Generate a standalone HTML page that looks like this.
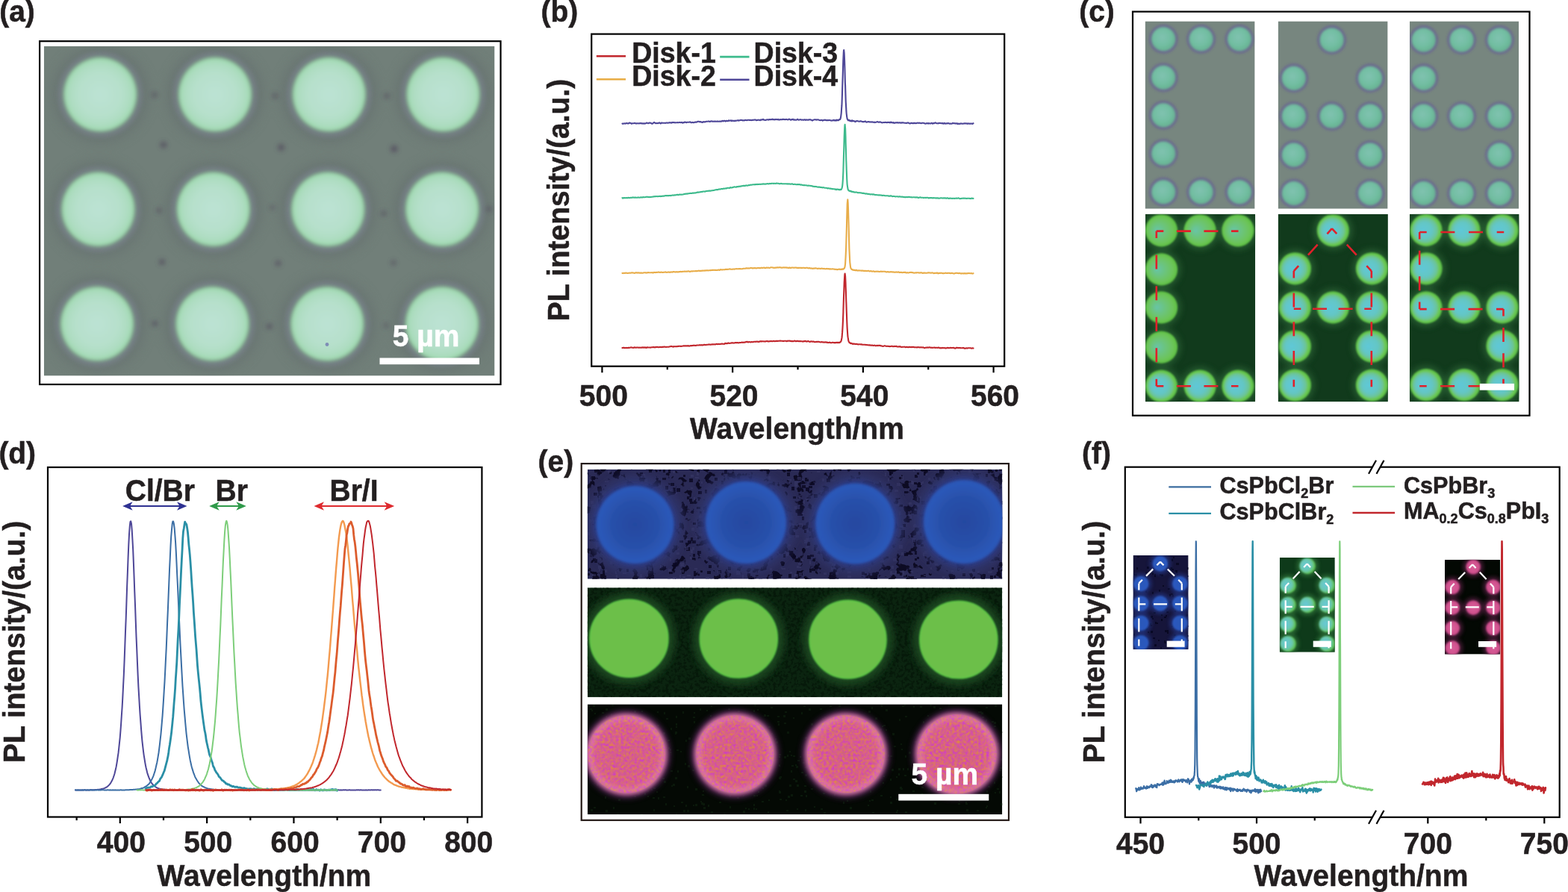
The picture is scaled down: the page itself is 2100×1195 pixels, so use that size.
<!DOCTYPE html>
<html><head><meta charset="utf-8"><title>Figure</title>
<style>html,body{margin:0;padding:0;background:#fff;} svg{display:block;} text{font-family:'Liberation Sans',Arial,sans-serif;font-weight:bold;stroke-width:0.55px;} text[fill='#231f20']{stroke:#231f20;} text[fill='#fff']{stroke:#fff;}</style>
</head><body>
<svg width="2100" height="1195" viewBox="0 0 2100 1195">
<rect width="2100" height="1195" fill="#fff"/>
<defs><filter id="b0_8" x="-50%" y="-50%" width="200%" height="200%"><feGaussianBlur stdDeviation="0.8"/></filter><filter id="b1_2" x="-50%" y="-50%" width="200%" height="200%"><feGaussianBlur stdDeviation="1.2"/></filter><filter id="b1_5" x="-50%" y="-50%" width="200%" height="200%"><feGaussianBlur stdDeviation="1.5"/></filter><filter id="b2" x="-50%" y="-50%" width="200%" height="200%"><feGaussianBlur stdDeviation="2"/></filter><filter id="b2_5" x="-50%" y="-50%" width="200%" height="200%"><feGaussianBlur stdDeviation="2.5"/></filter><filter id="b3" x="-50%" y="-50%" width="200%" height="200%"><feGaussianBlur stdDeviation="3"/></filter><filter id="b4" x="-50%" y="-50%" width="200%" height="200%"><feGaussianBlur stdDeviation="4"/></filter><filter id="b5" x="-50%" y="-50%" width="200%" height="200%"><feGaussianBlur stdDeviation="5"/></filter><filter id="b6" x="-50%" y="-50%" width="200%" height="200%"><feGaussianBlur stdDeviation="6"/></filter><filter id="b8" x="-50%" y="-50%" width="200%" height="200%"><feGaussianBlur stdDeviation="8"/></filter><radialGradient id="gA"><stop offset="0" stop-color="#bce2d4"/><stop offset="0.6" stop-color="#b6e0cb"/><stop offset="0.85" stop-color="#acdcbf"/><stop offset="0.96" stop-color="#9ed8ae"/><stop offset="1" stop-color="#92d2a2"/></radialGradient><radialGradient id="gCt" cx="0.45" cy="0.42"><stop offset="0" stop-color="#80c2b0"/><stop offset="0.7" stop-color="#72bea2"/><stop offset="1" stop-color="#6ab696"/></radialGradient><radialGradient id="gCb" cx="0.5" cy="0.5" r="0.5" fx="0.38" fy="0.5"><stop offset="0" stop-color="#60c8d8"/><stop offset="0.5" stop-color="#64c6c4"/><stop offset="0.74" stop-color="#6cc496"/><stop offset="0.84" stop-color="#6ec85a"/><stop offset="1" stop-color="#58c040"/></radialGradient><radialGradient id="gCg" cx="0.5" cy="0.5" r="0.5" fx="0.35" fy="0.5"><stop offset="0" stop-color="#68c4a8"/><stop offset="0.45" stop-color="#6cc47a"/><stop offset="0.8" stop-color="#6cc458"/><stop offset="1" stop-color="#5cc040"/></radialGradient><radialGradient id="gEb"><stop offset="0" stop-color="#2448a0"/><stop offset="0.6" stop-color="#2850aa"/><stop offset="0.9" stop-color="#2b58b8"/><stop offset="1" stop-color="#2a56b4"/></radialGradient><radialGradient id="gEr"><stop offset="0" stop-color="#d86682"/><stop offset="0.7" stop-color="#da6a88"/><stop offset="0.92" stop-color="#dc78a0"/><stop offset="1" stop-color="#a04888"/></radialGradient><radialGradient id="gFb"><stop offset="0" stop-color="#2a58b8"/><stop offset="1" stop-color="#2a5ac0"/></radialGradient><radialGradient id="gFg" cx="0.4" cy="0.45" r="0.6"><stop offset="0" stop-color="#66c8d8"/><stop offset="0.6" stop-color="#6ac8b0"/><stop offset="0.85" stop-color="#64c466"/><stop offset="1" stop-color="#58c048"/></radialGradient><radialGradient id="gFr"><stop offset="0" stop-color="#d8609a"/><stop offset="0.8" stop-color="#d0508c"/><stop offset="1" stop-color="#b84080"/></radialGradient><filter id="nzR" x="0" y="0" width="100%" height="100%"><feTurbulence type="fractalNoise" baseFrequency="0.35" numOctaves="2" seed="3"/><feColorMatrix type="matrix" values="0.9 0 0 0 0.35  0 0.9 0 0 -0.05  0 0 1.1 0 0.0  0 0 0 0 1"/></filter><filter id="mott" x="0" y="0" width="100%" height="100%" color-interpolation-filters="sRGB"><feTurbulence type="fractalNoise" baseFrequency="0.28" numOctaves="2" seed="5"/><feColorMatrix type="matrix" values="0.2 0 0 0 0.74  0.45 -0.45 0 0 0.36  -0.8 0.8 0 0 0.53  0 0 0 0 1"/><feGaussianBlur stdDeviation="0.6"/></filter><filter id="mottB" x="0" y="0" width="100%" height="100%" color-interpolation-filters="sRGB"><feTurbulence type="fractalNoise" baseFrequency="0.09" numOctaves="3" seed="8"/><feColorMatrix type="matrix" values="0 0 0 0 0.04  0 0 0 0 0.03  0 0 0 0 0.12  -14 0 0 0 5.9"/></filter><filter id="mottG" x="0" y="0" width="100%" height="100%" color-interpolation-filters="sRGB"><feTurbulence type="fractalNoise" baseFrequency="0.25" numOctaves="2" seed="12"/><feColorMatrix type="matrix" values="0 0 0 0 0.01  0 0 0 0 0.06  0 0 0 0 0.02  -6 0 0 0 3.2"/></filter></defs>
<defs><clipPath id="cpA"><rect x="58.80" y="61.90" width="603.70" height="441.60"/></clipPath></defs>
<g clip-path="url(#cpA)">
<rect x="58.80" y="61.90" width="603.70" height="441.60" fill="#717f79" stroke="none" stroke-width="0" />
<g filter="url(#b8)" opacity="0.75"><circle cx="134.2" cy="126.6" r="64.0" fill="#66726f" /><circle cx="288.0" cy="126.6" r="64.0" fill="#66726f" /><circle cx="440.8" cy="126.6" r="64.0" fill="#66726f" /><circle cx="593.5" cy="126.6" r="64.0" fill="#66726f" /><circle cx="131.5" cy="280.2" r="64.0" fill="#66726f" /><circle cx="285.8" cy="280.2" r="64.0" fill="#66726f" /><circle cx="439.3" cy="280.2" r="64.0" fill="#66726f" /><circle cx="592.2" cy="280.2" r="64.0" fill="#66726f" /><circle cx="130.1" cy="433.8" r="64.0" fill="#66726f" /><circle cx="284.5" cy="433.8" r="64.0" fill="#66726f" /><circle cx="438.3" cy="433.8" r="64.0" fill="#66726f" /><circle cx="592.0" cy="433.8" r="64.0" fill="#66726f" /></g>
<g filter="url(#b3)" opacity="0.5"><ellipse cx="134.2" cy="126.6" rx="53" ry="53.5" fill="none" stroke="#8a8ea6" stroke-width="5"/><ellipse cx="288.0" cy="126.6" rx="53" ry="53.5" fill="none" stroke="#8a8ea6" stroke-width="5"/><ellipse cx="440.8" cy="126.6" rx="53" ry="53.5" fill="none" stroke="#8a8ea6" stroke-width="5"/><ellipse cx="593.5" cy="126.6" rx="53" ry="53.5" fill="none" stroke="#8a8ea6" stroke-width="5"/><ellipse cx="131.5" cy="280.2" rx="53" ry="53.5" fill="none" stroke="#8a8ea6" stroke-width="5"/><ellipse cx="285.8" cy="280.2" rx="53" ry="53.5" fill="none" stroke="#8a8ea6" stroke-width="5"/><ellipse cx="439.3" cy="280.2" rx="53" ry="53.5" fill="none" stroke="#8a8ea6" stroke-width="5"/><ellipse cx="592.2" cy="280.2" rx="53" ry="53.5" fill="none" stroke="#8a8ea6" stroke-width="5"/><ellipse cx="130.1" cy="433.8" rx="53" ry="53.5" fill="none" stroke="#8a8ea6" stroke-width="5"/><ellipse cx="284.5" cy="433.8" rx="53" ry="53.5" fill="none" stroke="#8a8ea6" stroke-width="5"/><ellipse cx="438.3" cy="433.8" rx="53" ry="53.5" fill="none" stroke="#8a8ea6" stroke-width="5"/><ellipse cx="592.0" cy="433.8" rx="53" ry="53.5" fill="none" stroke="#8a8ea6" stroke-width="5"/></g>
<g filter="url(#b3)" opacity="0.75"><circle cx="207.0" cy="127.0" r="3.0" fill="#4e4258" /><circle cx="219.0" cy="194.0" r="4.0" fill="#4e4258" /><circle cx="368.5" cy="128.6" r="3.0" fill="#4e4258" /><circle cx="376.4" cy="197.5" r="4.2" fill="#4e4258" /><circle cx="518.0" cy="128.6" r="3.0" fill="#4e4258" /><circle cx="527.8" cy="199.4" r="4.5" fill="#4e4258" /><circle cx="213.0" cy="282.0" r="3.0" fill="#4e4258" /><circle cx="364.6" cy="278.0" r="2.5" fill="#4e4258" /><circle cx="514.0" cy="286.0" r="3.0" fill="#4e4258" /><circle cx="217.0" cy="351.0" r="3.8" fill="#4e4258" /><circle cx="372.5" cy="352.8" r="3.5" fill="#4e4258" /><circle cx="527.0" cy="352.0" r="3.0" fill="#4e4258" /><circle cx="207.3" cy="433.4" r="3.5" fill="#4e4258" /><circle cx="360.7" cy="437.3" r="3.5" fill="#4e4258" /><circle cx="517.0" cy="436.0" r="2.5" fill="#4e4258" /><circle cx="655.0" cy="280.0" r="3.0" fill="#4e4258" /></g>
<g filter="url(#b2_5)"><ellipse cx="134.2" cy="126.6" rx="49.3" ry="50" fill="url(#gA)"/><ellipse cx="288.0" cy="126.6" rx="49.3" ry="50" fill="url(#gA)"/><ellipse cx="440.8" cy="126.6" rx="49.3" ry="50" fill="url(#gA)"/><ellipse cx="593.5" cy="126.6" rx="49.3" ry="50" fill="url(#gA)"/><ellipse cx="131.5" cy="280.2" rx="49.3" ry="50" fill="url(#gA)"/><ellipse cx="285.8" cy="280.2" rx="49.3" ry="50" fill="url(#gA)"/><ellipse cx="439.3" cy="280.2" rx="49.3" ry="50" fill="url(#gA)"/><ellipse cx="592.2" cy="280.2" rx="49.3" ry="50" fill="url(#gA)"/><ellipse cx="130.1" cy="433.8" rx="49.3" ry="50" fill="url(#gA)"/><ellipse cx="284.5" cy="433.8" rx="49.3" ry="50" fill="url(#gA)"/><ellipse cx="438.3" cy="433.8" rx="49.3" ry="50" fill="url(#gA)"/><ellipse cx="592.0" cy="433.8" rx="49.3" ry="50" fill="url(#gA)"/></g>
<circle cx="438.0" cy="461.5" r="2.4" fill="#7078b0" opacity="0.8"/>
</g>
<rect x="508.50" y="479.50" width="133.50" height="8.70" fill="#fff" stroke="none" stroke-width="0" />
<text transform="translate(570.5,464.0) scale(0.94,1)" font-size="41.5" text-anchor="middle" fill="#fff" >5 µm</text>
<defs><clipPath id="cpCt0"><rect x="1533.60" y="28.40" width="147.00" height="251.30"/></clipPath></defs><g clip-path="url(#cpCt0)">
<rect x="1533.60" y="28.40" width="147.00" height="251.30" fill="#77867f" stroke="none" stroke-width="0" />
<g filter="url(#b1_5)" opacity="0.85"><circle cx="1558.2" cy="52.3" r="19.6" fill="#6a6890" /><circle cx="1608.6" cy="52.3" r="19.6" fill="#6a6890" /><circle cx="1660.0" cy="52.3" r="19.6" fill="#6a6890" /><circle cx="1558.2" cy="103.8" r="19.6" fill="#6a6890" /><circle cx="1558.2" cy="154.3" r="19.6" fill="#6a6890" /><circle cx="1558.2" cy="205.6" r="19.6" fill="#6a6890" /><circle cx="1558.2" cy="257.2" r="19.6" fill="#6a6890" /><circle cx="1608.6" cy="257.2" r="19.6" fill="#6a6890" /><circle cx="1660.0" cy="257.2" r="19.6" fill="#6a6890" /></g>
<g filter="url(#b1_5)"><circle cx="1558.2" cy="52.3" r="16.0" fill="url(#gCt)" /><circle cx="1608.6" cy="52.3" r="16.0" fill="url(#gCt)" /><circle cx="1660.0" cy="52.3" r="16.0" fill="url(#gCt)" /><circle cx="1558.2" cy="103.8" r="16.0" fill="url(#gCt)" /><circle cx="1558.2" cy="154.3" r="16.0" fill="url(#gCt)" /><circle cx="1558.2" cy="205.6" r="16.0" fill="url(#gCt)" /><circle cx="1558.2" cy="257.2" r="16.0" fill="url(#gCt)" /><circle cx="1608.6" cy="257.2" r="16.0" fill="url(#gCt)" /><circle cx="1660.0" cy="257.2" r="16.0" fill="url(#gCt)" /></g>
</g>
<defs><clipPath id="cpCt1"><rect x="1711.70" y="28.40" width="146.90" height="251.30"/></clipPath></defs><g clip-path="url(#cpCt1)">
<rect x="1711.70" y="28.40" width="146.90" height="251.30" fill="#77867f" stroke="none" stroke-width="0" />
<g filter="url(#b1_5)" opacity="0.85"><circle cx="1783.6" cy="53.4" r="19.6" fill="#6a6890" /><circle cx="1732.8" cy="104.7" r="19.6" fill="#6a6890" /><circle cx="1835.1" cy="104.7" r="19.6" fill="#6a6890" /><circle cx="1732.8" cy="155.6" r="19.6" fill="#6a6890" /><circle cx="1783.6" cy="155.6" r="19.6" fill="#6a6890" /><circle cx="1835.1" cy="155.6" r="19.6" fill="#6a6890" /><circle cx="1732.8" cy="207.5" r="19.6" fill="#6a6890" /><circle cx="1835.1" cy="207.5" r="19.6" fill="#6a6890" /><circle cx="1732.8" cy="259.0" r="19.6" fill="#6a6890" /><circle cx="1835.1" cy="259.0" r="19.6" fill="#6a6890" /></g>
<g filter="url(#b1_5)"><circle cx="1783.6" cy="53.4" r="16.0" fill="url(#gCt)" /><circle cx="1732.8" cy="104.7" r="16.0" fill="url(#gCt)" /><circle cx="1835.1" cy="104.7" r="16.0" fill="url(#gCt)" /><circle cx="1732.8" cy="155.6" r="16.0" fill="url(#gCt)" /><circle cx="1783.6" cy="155.6" r="16.0" fill="url(#gCt)" /><circle cx="1835.1" cy="155.6" r="16.0" fill="url(#gCt)" /><circle cx="1732.8" cy="207.5" r="16.0" fill="url(#gCt)" /><circle cx="1835.1" cy="207.5" r="16.0" fill="url(#gCt)" /><circle cx="1732.8" cy="259.0" r="16.0" fill="url(#gCt)" /><circle cx="1835.1" cy="259.0" r="16.0" fill="url(#gCt)" /></g>
</g>
<defs><clipPath id="cpCt2"><rect x="1888.00" y="28.40" width="146.00" height="251.30"/></clipPath></defs><g clip-path="url(#cpCt2)">
<rect x="1888.00" y="28.40" width="146.00" height="251.30" fill="#77867f" stroke="none" stroke-width="0" />
<g filter="url(#b1_5)" opacity="0.85"><circle cx="1906.7" cy="53.4" r="19.6" fill="#6a6890" /><circle cx="1957.6" cy="53.4" r="19.6" fill="#6a6890" /><circle cx="2008.4" cy="53.4" r="19.6" fill="#6a6890" /><circle cx="1906.7" cy="104.7" r="19.6" fill="#6a6890" /><circle cx="1906.7" cy="155.6" r="19.6" fill="#6a6890" /><circle cx="1957.6" cy="155.6" r="19.6" fill="#6a6890" /><circle cx="2008.4" cy="155.6" r="19.6" fill="#6a6890" /><circle cx="2008.4" cy="207.5" r="19.6" fill="#6a6890" /><circle cx="1906.7" cy="259.0" r="19.6" fill="#6a6890" /><circle cx="1957.6" cy="259.0" r="19.6" fill="#6a6890" /><circle cx="2008.4" cy="259.0" r="19.6" fill="#6a6890" /></g>
<g filter="url(#b1_5)"><circle cx="1906.7" cy="53.4" r="16.0" fill="url(#gCt)" /><circle cx="1957.6" cy="53.4" r="16.0" fill="url(#gCt)" /><circle cx="2008.4" cy="53.4" r="16.0" fill="url(#gCt)" /><circle cx="1906.7" cy="104.7" r="16.0" fill="url(#gCt)" /><circle cx="1906.7" cy="155.6" r="16.0" fill="url(#gCt)" /><circle cx="1957.6" cy="155.6" r="16.0" fill="url(#gCt)" /><circle cx="2008.4" cy="155.6" r="16.0" fill="url(#gCt)" /><circle cx="2008.4" cy="207.5" r="16.0" fill="url(#gCt)" /><circle cx="1906.7" cy="259.0" r="16.0" fill="url(#gCt)" /><circle cx="1957.6" cy="259.0" r="16.0" fill="url(#gCt)" /><circle cx="2008.4" cy="259.0" r="16.0" fill="url(#gCt)" /></g>
</g>
<defs><clipPath id="cpCb0"><rect x="1534.00" y="286.70" width="147.20" height="251.60"/></clipPath></defs><g clip-path="url(#cpCb0)">
<rect x="1534.00" y="286.70" width="147.20" height="251.60" fill="#113a1c" stroke="none" stroke-width="0" />
<g filter="url(#b4)" opacity="0.8"><circle cx="1555.5" cy="308.8" r="26.0" fill="#2a6034" /><circle cx="1607.1" cy="308.8" r="26.0" fill="#2a6034" /><circle cx="1657.9" cy="308.8" r="26.0" fill="#2a6034" /><circle cx="1555.5" cy="360.9" r="26.0" fill="#2a6034" /><circle cx="1555.5" cy="411.9" r="26.0" fill="#2a6034" /><circle cx="1555.5" cy="465.1" r="26.0" fill="#2a6034" /><circle cx="1555.5" cy="517.2" r="26.0" fill="#2a6034" /><circle cx="1607.1" cy="517.2" r="26.0" fill="#2a6034" /><circle cx="1657.9" cy="517.2" r="26.0" fill="#2a6034" /></g>
<g filter="url(#b0_8)"><circle cx="1555.5" cy="308.8" r="21.6" fill="url(#gCg)" /><circle cx="1607.1" cy="308.8" r="21.6" fill="url(#gCg)" /><circle cx="1657.9" cy="308.8" r="21.6" fill="url(#gCg)" /><circle cx="1555.5" cy="360.9" r="21.6" fill="url(#gCg)" /><circle cx="1555.5" cy="411.9" r="21.6" fill="url(#gCg)" /><circle cx="1555.5" cy="465.1" r="21.6" fill="url(#gCg)" /><circle cx="1555.5" cy="517.2" r="21.6" fill="url(#gCb)" /><circle cx="1607.1" cy="517.2" r="21.6" fill="url(#gCb)" /><circle cx="1657.9" cy="517.2" r="21.6" fill="url(#gCb)" /></g>
</g>
<defs><clipPath id="cpCb1"><rect x="1711.70" y="286.70" width="147.20" height="251.60"/></clipPath></defs><g clip-path="url(#cpCb1)">
<rect x="1711.70" y="286.70" width="147.20" height="251.60" fill="#113a1c" stroke="none" stroke-width="0" />
<g filter="url(#b4)" opacity="0.8"><circle cx="1785.3" cy="308.8" r="26.0" fill="#2a6034" /><circle cx="1734.4" cy="359.8" r="26.0" fill="#2a6034" /><circle cx="1837.4" cy="359.8" r="26.0" fill="#2a6034" /><circle cx="1734.4" cy="411.9" r="26.0" fill="#2a6034" /><circle cx="1785.3" cy="411.9" r="26.0" fill="#2a6034" /><circle cx="1837.4" cy="411.9" r="26.0" fill="#2a6034" /><circle cx="1734.4" cy="464.0" r="26.0" fill="#2a6034" /><circle cx="1837.4" cy="464.0" r="26.0" fill="#2a6034" /><circle cx="1734.4" cy="516.1" r="26.0" fill="#2a6034" /><circle cx="1837.4" cy="516.1" r="26.0" fill="#2a6034" /></g>
<g filter="url(#b0_8)"><circle cx="1785.3" cy="308.8" r="21.6" fill="url(#gCb)" /><circle cx="1734.4" cy="359.8" r="21.6" fill="url(#gCb)" /><circle cx="1837.4" cy="359.8" r="21.6" fill="url(#gCb)" /><circle cx="1734.4" cy="411.9" r="21.6" fill="url(#gCb)" /><circle cx="1785.3" cy="411.9" r="21.6" fill="url(#gCb)" /><circle cx="1837.4" cy="411.9" r="21.6" fill="url(#gCb)" /><circle cx="1734.4" cy="464.0" r="21.6" fill="url(#gCb)" /><circle cx="1837.4" cy="464.0" r="21.6" fill="url(#gCb)" /><circle cx="1734.4" cy="516.1" r="21.6" fill="url(#gCb)" /><circle cx="1837.4" cy="516.1" r="21.6" fill="url(#gCb)" /></g>
</g>
<defs><clipPath id="cpCb2"><rect x="1887.90" y="286.70" width="146.70" height="251.60"/></clipPath></defs><g clip-path="url(#cpCb2)">
<rect x="1887.90" y="286.70" width="146.70" height="251.60" fill="#113a1c" stroke="none" stroke-width="0" />
<g filter="url(#b4)" opacity="0.8"><circle cx="1910.0" cy="308.4" r="26.0" fill="#2a6034" /><circle cx="1961.0" cy="308.4" r="26.0" fill="#2a6034" /><circle cx="2012.0" cy="308.4" r="26.0" fill="#2a6034" /><circle cx="1910.0" cy="359.8" r="26.0" fill="#2a6034" /><circle cx="1910.0" cy="411.9" r="26.0" fill="#2a6034" /><circle cx="1961.0" cy="411.9" r="26.0" fill="#2a6034" /><circle cx="2012.0" cy="411.9" r="26.0" fill="#2a6034" /><circle cx="2012.0" cy="463.6" r="26.0" fill="#2a6034" /><circle cx="1910.0" cy="515.6" r="26.0" fill="#2a6034" /><circle cx="1961.0" cy="515.6" r="26.0" fill="#2a6034" /><circle cx="2012.0" cy="515.6" r="26.0" fill="#2a6034" /></g>
<g filter="url(#b0_8)"><circle cx="1910.0" cy="308.4" r="21.6" fill="url(#gCb)" /><circle cx="1961.0" cy="308.4" r="21.6" fill="url(#gCb)" /><circle cx="2012.0" cy="308.4" r="21.6" fill="url(#gCb)" /><circle cx="1910.0" cy="359.8" r="21.6" fill="url(#gCb)" /><circle cx="1910.0" cy="411.9" r="21.6" fill="url(#gCb)" /><circle cx="1961.0" cy="411.9" r="21.6" fill="url(#gCb)" /><circle cx="2012.0" cy="411.9" r="21.6" fill="url(#gCb)" /><circle cx="2012.0" cy="463.6" r="21.6" fill="url(#gCb)" /><circle cx="1910.0" cy="515.6" r="21.6" fill="url(#gCb)" /><circle cx="1961.0" cy="515.6" r="21.6" fill="url(#gCb)" /><circle cx="2012.0" cy="515.6" r="21.6" fill="url(#gCb)" /></g>
</g>
<path d="M1658.5,309.6 L1548.8,309.6" fill="none" stroke="#e0202a" stroke-width="2.6" stroke-dasharray="19.00 17.57" stroke-dashoffset="9.50" />
<path d="M1548.8,309.6 L1548.8,517.2" fill="none" stroke="#e0202a" stroke-width="2.6" stroke-dasharray="19.00 22.52" stroke-dashoffset="9.50" />
<path d="M1548.8,517.2 L1658.5,517.2" fill="none" stroke="#e0202a" stroke-width="2.6" stroke-dasharray="19.00 17.57" stroke-dashoffset="9.50" />
<path d="M1732.8,518.3 L1732.8,363.1" fill="none" stroke="#e0202a" stroke-width="2.6" stroke-dasharray="19.00 19.80" stroke-dashoffset="9.50" />
<path d="M1732.8,363.1 L1783.8,306.2" fill="none" stroke="#e0202a" stroke-width="2.6" stroke-dasharray="19.00 19.21" stroke-dashoffset="9.50" />
<path d="M1783.8,306.2 L1836.8,363.1" fill="none" stroke="#e0202a" stroke-width="2.6" stroke-dasharray="19.00 19.88" stroke-dashoffset="9.50" />
<path d="M1836.8,363.1 L1836.8,518.3" fill="none" stroke="#e0202a" stroke-width="2.6" stroke-dasharray="19.00 19.80" stroke-dashoffset="9.50" />
<path d="M1732.8,413.7 L1836.8,413.7" fill="none" stroke="#e0202a" stroke-width="2.6" stroke-dasharray="19.00 15.67" stroke-dashoffset="9.50" />
<path d="M2014.2,311.0 L1901.2,311.0" fill="none" stroke="#e0202a" stroke-width="2.6" stroke-dasharray="19.00 18.67" stroke-dashoffset="9.50" />
<path d="M1901.2,311.0 L1901.2,414.1" fill="none" stroke="#e0202a" stroke-width="2.6" stroke-dasharray="19.00 15.37" stroke-dashoffset="9.50" />
<path d="M1901.2,414.1 L2013.5,414.1" fill="none" stroke="#e0202a" stroke-width="2.6" stroke-dasharray="19.00 18.43" stroke-dashoffset="9.50" />
<path d="M2013.5,414.1 L2013.5,517.2" fill="none" stroke="#e0202a" stroke-width="2.6" stroke-dasharray="19.00 15.37" stroke-dashoffset="9.50" />
<path d="M2013.5,517.2 L1901.2,517.2" fill="none" stroke="#e0202a" stroke-width="2.6" stroke-dasharray="19.00 18.43" stroke-dashoffset="9.50" />
<rect x="1981.80" y="513.90" width="46.20" height="8.80" fill="#fff" stroke="none" stroke-width="0" />
<defs><clipPath id="cpEb"><rect x="786.80" y="628.80" width="555.50" height="146.90"/></clipPath></defs><g clip-path="url(#cpEb)">
<rect x="786.80" y="628.80" width="555.50" height="146.90" fill="#2a2a55" stroke="none" stroke-width="0" />
<rect x="786.8" y="628.8" width="555.5" height="146.9000000000001" filter="url(#mottB)" opacity="0.9"/>
<g opacity="0.85"><g fill="#0c0a24"><rect x="1232" y="714" width="3" height="4"/><rect x="1074" y="692" width="3" height="5"/><rect x="1049" y="742" width="3" height="5"/><rect x="1154" y="766" width="4" height="4"/><rect x="949" y="757" width="4" height="4"/><rect x="901" y="754" width="5" height="5"/><rect x="1226" y="637" width="3" height="3"/><rect x="1090" y="733" width="3" height="5"/><rect x="1077" y="710" width="3" height="4"/><rect x="1085" y="743" width="5" height="3"/><rect x="1054" y="643" width="3" height="5"/><rect x="928" y="700" width="4" height="3"/><rect x="1072" y="688" width="3" height="3"/><rect x="896" y="766" width="5" height="3"/><rect x="942" y="679" width="4" height="4"/><rect x="1278" y="776" width="4" height="4"/><rect x="792" y="638" width="5" height="5"/><rect x="918" y="727" width="3" height="3"/><rect x="1062" y="744" width="4" height="3"/><rect x="1323" y="629" width="3" height="5"/><rect x="1054" y="633" width="4" height="5"/><rect x="1274" y="770" width="5" height="3"/><rect x="937" y="685" width="3" height="3"/><rect x="794" y="748" width="4" height="4"/><rect x="1071" y="678" width="3" height="5"/><rect x="891" y="651" width="4" height="5"/><rect x="935" y="658" width="5" height="4"/><rect x="1302" y="762" width="4" height="4"/><rect x="1090" y="662" width="5" height="5"/><rect x="915" y="636" width="3" height="3"/><rect x="910" y="724" width="5" height="3"/><rect x="1233" y="770" width="5" height="3"/><rect x="1209" y="702" width="4" height="4"/><rect x="1084" y="762" width="3" height="5"/><rect x="886" y="759" width="5" height="3"/><rect x="1221" y="683" width="3" height="5"/><rect x="1224" y="727" width="3" height="4"/><rect x="1199" y="672" width="4" height="3"/><rect x="1250" y="651" width="5" height="5"/><rect x="1328" y="760" width="3" height="3"/><rect x="1060" y="713" width="5" height="4"/><rect x="921" y="724" width="5" height="3"/><rect x="934" y="738" width="5" height="4"/><rect x="1068" y="687" width="4" height="4"/><rect x="1233" y="729" width="4" height="3"/><rect x="955" y="744" width="5" height="3"/><rect x="1225" y="636" width="3" height="4"/><rect x="895" y="629" width="3" height="5"/><rect x="943" y="724" width="3" height="4"/><rect x="1079" y="653" width="5" height="5"/><rect x="1205" y="767" width="4" height="4"/><rect x="1224" y="646" width="4" height="3"/><rect x="1331" y="639" width="4" height="5"/><rect x="1074" y="650" width="5" height="4"/><rect x="927" y="747" width="4" height="3"/><rect x="824" y="776" width="5" height="3"/><rect x="1054" y="629" width="5" height="3"/><rect x="809" y="771" width="3" height="5"/><rect x="1081" y="744" width="5" height="5"/><rect x="1064" y="641" width="4" height="3"/><rect x="822" y="633" width="5" height="5"/><rect x="898" y="647" width="5" height="4"/><rect x="888" y="629" width="3" height="4"/><rect x="1087" y="647" width="4" height="3"/><rect x="795" y="660" width="5" height="4"/><rect x="1158" y="768" width="3" height="3"/><rect x="966" y="644" width="3" height="5"/><rect x="1341" y="755" width="3" height="3"/><rect x="901" y="656" width="4" height="5"/><rect x="807" y="764" width="3" height="5"/><rect x="1071" y="768" width="4" height="3"/><rect x="1069" y="703" width="5" height="3"/><rect x="1331" y="771" width="3" height="3"/><rect x="1078" y="640" width="5" height="5"/><rect x="1068" y="640" width="4" height="4"/><rect x="923" y="668" width="4" height="4"/><rect x="1187" y="648" width="5" height="3"/><rect x="1001" y="768" width="4" height="4"/><rect x="1213" y="686" width="3" height="4"/><rect x="1228" y="746" width="3" height="3"/><rect x="919" y="733" width="5" height="5"/><rect x="1228" y="633" width="3" height="3"/><rect x="928" y="724" width="3" height="4"/><rect x="1210" y="770" width="5" height="3"/><rect x="1081" y="726" width="4" height="5"/><rect x="1333" y="629" width="3" height="3"/><rect x="924" y="672" width="5" height="3"/><rect x="839" y="762" width="3" height="4"/><rect x="929" y="765" width="3" height="3"/><rect x="1207" y="710" width="5" height="5"/><rect x="975" y="759" width="4" height="5"/><rect x="1005" y="773" width="5" height="3"/><rect x="1147" y="639" width="5" height="3"/><rect x="1057" y="740" width="3" height="4"/><rect x="925" y="720" width="3" height="5"/><rect x="1220" y="772" width="4" height="5"/><rect x="962" y="764" width="4" height="4"/><rect x="1207" y="715" width="5" height="5"/><rect x="876" y="648" width="3" height="3"/><rect x="1083" y="707" width="5" height="5"/><rect x="1008" y="764" width="4" height="3"/><rect x="1281" y="633" width="4" height="3"/><rect x="1224" y="684" width="4" height="5"/><rect x="920" y="665" width="3" height="4"/><rect x="816" y="632" width="3" height="3"/><rect x="1191" y="633" width="3" height="4"/><rect x="923" y="641" width="5" height="5"/><rect x="887" y="640" width="5" height="3"/><rect x="1083" y="651" width="5" height="3"/><rect x="796" y="766" width="3" height="5"/><rect x="1289" y="768" width="4" height="4"/><rect x="926" y="684" width="3" height="4"/><rect x="1107" y="641" width="5" height="5"/><rect x="1170" y="772" width="5" height="5"/><rect x="1220" y="715" width="3" height="5"/><rect x="1320" y="635" width="3" height="4"/><rect x="957" y="640" width="4" height="4"/><rect x="906" y="654" width="5" height="5"/><rect x="1056" y="769" width="4" height="5"/><rect x="1211" y="658" width="5" height="3"/><rect x="1078" y="775" width="3" height="3"/><rect x="1211" y="741" width="5" height="4"/><rect x="1223" y="723" width="4" height="4"/><rect x="889" y="759" width="3" height="4"/><rect x="1340" y="755" width="5" height="3"/><rect x="1221" y="679" width="3" height="3"/><rect x="1225" y="748" width="3" height="3"/><rect x="929" y="768" width="3" height="4"/><rect x="1326" y="771" width="4" height="5"/><rect x="1204" y="639" width="5" height="3"/><rect x="857" y="633" width="4" height="5"/><rect x="927" y="724" width="5" height="4"/><rect x="869" y="629" width="4" height="4"/><rect x="947" y="765" width="5" height="4"/><rect x="1041" y="772" width="5" height="3"/><rect x="1191" y="632" width="5" height="3"/><rect x="860" y="637" width="3" height="4"/><rect x="928" y="742" width="3" height="4"/><rect x="872" y="770" width="4" height="5"/><rect x="952" y="748" width="5" height="3"/><rect x="933" y="679" width="5" height="3"/><rect x="1234" y="671" width="5" height="5"/><rect x="1237" y="769" width="3" height="4"/><rect x="787" y="768" width="3" height="3"/><rect x="866" y="761" width="4" height="3"/><rect x="944" y="656" width="3" height="5"/><rect x="1241" y="752" width="4" height="4"/><rect x="1225" y="738" width="3" height="5"/><rect x="1173" y="766" width="4" height="4"/><rect x="1237" y="632" width="3" height="5"/><rect x="976" y="634" width="5" height="5"/><rect x="1062" y="665" width="4" height="3"/><rect x="970" y="630" width="4" height="5"/><rect x="1223" y="775" width="5" height="4"/><rect x="796" y="749" width="4" height="5"/><rect x="1060" y="652" width="4" height="5"/><rect x="1087" y="762" width="5" height="3"/><rect x="1204" y="676" width="5" height="3"/><rect x="796" y="629" width="5" height="4"/><rect x="1053" y="649" width="3" height="3"/></g></g>
<g opacity="0.5"><g fill="#3a3a6a"><rect x="1329" y="641" width="3" height="4"/><rect x="884" y="757" width="2" height="4"/><rect x="1325" y="765" width="4" height="2"/><rect x="1061" y="702" width="3" height="5"/><rect x="1077" y="723" width="5" height="5"/><rect x="907" y="731" width="2" height="5"/><rect x="910" y="770" width="2" height="5"/><rect x="810" y="763" width="3" height="4"/><rect x="1064" y="769" width="5" height="5"/><rect x="1235" y="645" width="2" height="3"/><rect x="1274" y="764" width="3" height="2"/><rect x="1068" y="639" width="5" height="4"/><rect x="1079" y="732" width="4" height="2"/><rect x="1064" y="678" width="4" height="4"/><rect x="1054" y="645" width="5" height="4"/><rect x="1119" y="766" width="4" height="4"/><rect x="1206" y="704" width="4" height="3"/><rect x="1198" y="656" width="5" height="3"/><rect x="791" y="671" width="4" height="4"/><rect x="1093" y="753" width="2" height="3"/><rect x="1079" y="721" width="4" height="3"/><rect x="1325" y="751" width="5" height="3"/><rect x="834" y="767" width="5" height="2"/><rect x="1084" y="751" width="2" height="5"/><rect x="1179" y="751" width="5" height="3"/><rect x="1204" y="685" width="3" height="5"/><rect x="1216" y="685" width="3" height="5"/><rect x="824" y="765" width="2" height="4"/><rect x="1222" y="721" width="4" height="5"/><rect x="1053" y="740" width="3" height="5"/><rect x="798" y="728" width="2" height="5"/><rect x="1058" y="766" width="3" height="2"/><rect x="1201" y="647" width="5" height="4"/><rect x="930" y="761" width="4" height="2"/><rect x="1113" y="760" width="2" height="4"/><rect x="911" y="763" width="5" height="4"/><rect x="1195" y="768" width="5" height="2"/><rect x="1243" y="662" width="2" height="3"/><rect x="1229" y="683" width="3" height="5"/><rect x="1070" y="767" width="4" height="5"/><rect x="1309" y="765" width="3" height="3"/><rect x="929" y="666" width="2" height="4"/><rect x="964" y="752" width="4" height="2"/><rect x="806" y="653" width="2" height="5"/><rect x="1047" y="761" width="5" height="2"/><rect x="789" y="643" width="4" height="2"/><rect x="1199" y="765" width="2" height="3"/><rect x="1284" y="761" width="3" height="5"/><rect x="1194" y="758" width="3" height="4"/><rect x="1207" y="740" width="3" height="4"/><rect x="925" y="636" width="4" height="3"/><rect x="895" y="762" width="4" height="4"/><rect x="1192" y="765" width="3" height="5"/><rect x="1208" y="769" width="5" height="3"/><rect x="1176" y="769" width="3" height="2"/><rect x="901" y="773" width="5" height="3"/><rect x="1030" y="640" width="2" height="3"/><rect x="1219" y="765" width="4" height="2"/><rect x="1069" y="754" width="4" height="3"/><rect x="1087" y="676" width="3" height="4"/><rect x="1224" y="702" width="3" height="2"/><rect x="1163" y="763" width="2" height="2"/><rect x="1297" y="629" width="5" height="5"/><rect x="1074" y="642" width="2" height="2"/><rect x="1202" y="674" width="3" height="4"/><rect x="1283" y="632" width="2" height="5"/><rect x="1046" y="760" width="2" height="2"/><rect x="1103" y="767" width="4" height="3"/><rect x="919" y="722" width="3" height="2"/><rect x="789" y="721" width="5" height="2"/><rect x="1065" y="717" width="5" height="3"/><rect x="859" y="635" width="5" height="5"/><rect x="931" y="639" width="5" height="2"/><rect x="1200" y="745" width="2" height="3"/><rect x="925" y="736" width="3" height="5"/><rect x="1077" y="723" width="2" height="2"/><rect x="986" y="765" width="5" height="5"/><rect x="1328" y="650" width="3" height="3"/><rect x="1239" y="635" width="3" height="2"/><rect x="994" y="770" width="2" height="5"/><rect x="1135" y="771" width="5" height="3"/><rect x="1232" y="665" width="2" height="3"/><rect x="961" y="765" width="4" height="3"/><rect x="1114" y="755" width="5" height="3"/><rect x="924" y="746" width="2" height="3"/><rect x="936" y="714" width="5" height="4"/><rect x="1162" y="761" width="4" height="2"/><rect x="1283" y="761" width="4" height="3"/><rect x="789" y="696" width="5" height="4"/><rect x="898" y="656" width="4" height="3"/><rect x="1064" y="645" width="5" height="5"/><rect x="1081" y="710" width="3" height="3"/><rect x="1298" y="765" width="5" height="3"/><rect x="1187" y="657" width="3" height="3"/><rect x="897" y="748" width="2" height="4"/><rect x="1219" y="684" width="2" height="3"/><rect x="1074" y="687" width="3" height="2"/><rect x="814" y="630" width="4" height="4"/><rect x="1226" y="705" width="5" height="2"/><rect x="1208" y="764" width="3" height="5"/><rect x="910" y="774" width="3" height="4"/><rect x="1081" y="640" width="2" height="2"/><rect x="1252" y="755" width="4" height="2"/><rect x="1196" y="748" width="5" height="4"/><rect x="802" y="761" width="2" height="4"/><rect x="925" y="653" width="3" height="2"/><rect x="1262" y="772" width="3" height="4"/><rect x="939" y="645" width="2" height="3"/><rect x="1277" y="775" width="5" height="2"/><rect x="1220" y="644" width="3" height="4"/><rect x="1221" y="645" width="3" height="4"/><rect x="977" y="774" width="3" height="5"/><rect x="945" y="773" width="5" height="4"/><rect x="1237" y="770" width="3" height="2"/><rect x="1105" y="658" width="4" height="4"/><rect x="789" y="738" width="2" height="4"/><rect x="1223" y="630" width="2" height="2"/><rect x="863" y="642" width="4" height="4"/><rect x="1113" y="635" width="3" height="3"/><rect x="1178" y="644" width="2" height="2"/><rect x="1189" y="641" width="2" height="4"/><rect x="1204" y="730" width="5" height="5"/><rect x="1055" y="729" width="4" height="3"/><rect x="1207" y="638" width="3" height="5"/><rect x="793" y="676" width="5" height="5"/><rect x="912" y="682" width="3" height="2"/><rect x="987" y="767" width="5" height="3"/><rect x="1185" y="633" width="2" height="5"/><rect x="1094" y="631" width="4" height="2"/><rect x="825" y="770" width="2" height="4"/><rect x="807" y="658" width="5" height="5"/><rect x="920" y="770" width="5" height="2"/><rect x="1115" y="760" width="4" height="2"/><rect x="1067" y="758" width="3" height="3"/><rect x="1246" y="760" width="2" height="3"/><rect x="901" y="631" width="3" height="3"/><rect x="907" y="774" width="2" height="5"/><rect x="1016" y="775" width="5" height="2"/><rect x="1072" y="748" width="4" height="4"/><rect x="926" y="707" width="4" height="4"/><rect x="1068" y="759" width="5" height="2"/><rect x="1199" y="676" width="5" height="2"/><rect x="1323" y="765" width="5" height="3"/><rect x="951" y="774" width="3" height="2"/><rect x="1245" y="767" width="2" height="2"/><rect x="1076" y="670" width="2" height="5"/><rect x="1261" y="641" width="4" height="5"/><rect x="1236" y="740" width="2" height="5"/><rect x="1223" y="703" width="5" height="3"/><rect x="1243" y="640" width="3" height="3"/><rect x="906" y="740" width="4" height="3"/><rect x="932" y="716" width="2" height="4"/><rect x="868" y="759" width="2" height="5"/><rect x="1101" y="641" width="3" height="4"/><rect x="1029" y="638" width="3" height="4"/><rect x="1079" y="668" width="4" height="2"/><rect x="905" y="660" width="2" height="2"/><rect x="1227" y="712" width="4" height="4"/><rect x="810" y="644" width="5" height="2"/><rect x="933" y="632" width="3" height="5"/><rect x="936" y="690" width="5" height="4"/><rect x="1228" y="676" width="3" height="3"/><rect x="1098" y="657" width="3" height="5"/><rect x="792" y="697" width="4" height="5"/><rect x="817" y="752" width="3" height="4"/><rect x="857" y="769" width="3" height="5"/><rect x="1031" y="768" width="4" height="4"/><rect x="870" y="760" width="3" height="5"/><rect x="1340" y="631" width="2" height="3"/><rect x="882" y="649" width="4" height="4"/><rect x="1217" y="690" width="4" height="5"/><rect x="1267" y="775" width="5" height="2"/><rect x="974" y="767" width="3" height="5"/><rect x="911" y="754" width="5" height="5"/><rect x="1233" y="646" width="2" height="4"/><rect x="787" y="713" width="3" height="4"/><rect x="1217" y="673" width="4" height="3"/><rect x="801" y="758" width="4" height="4"/><rect x="917" y="732" width="5" height="5"/><rect x="1031" y="761" width="3" height="3"/><rect x="886" y="756" width="2" height="4"/><rect x="1109" y="753" width="5" height="2"/><rect x="894" y="774" width="4" height="4"/><rect x="914" y="772" width="4" height="5"/><rect x="1271" y="629" width="5" height="2"/><rect x="1114" y="643" width="5" height="2"/><rect x="1135" y="765" width="5" height="3"/><rect x="1238" y="738" width="4" height="4"/><rect x="1064" y="648" width="4" height="4"/><rect x="927" y="733" width="3" height="4"/><rect x="802" y="664" width="2" height="5"/><rect x="1323" y="776" width="5" height="3"/><rect x="1228" y="666" width="2" height="5"/><rect x="793" y="769" width="5" height="3"/><rect x="931" y="714" width="2" height="5"/><rect x="1057" y="719" width="3" height="2"/><rect x="1070" y="701" width="5" height="5"/><rect x="1149" y="641" width="2" height="2"/><rect x="1055" y="642" width="5" height="2"/><rect x="1070" y="666" width="3" height="2"/></g></g>
<g filter="url(#b6)" opacity="0.8"><ellipse cx="850.5" cy="703.0" rx="66" ry="66" fill="#323870"/><ellipse cx="999.0" cy="700.0" rx="68" ry="69" fill="#323870"/><ellipse cx="1145.2" cy="701.5" rx="67" ry="68" fill="#323870"/><ellipse cx="1291.0" cy="699.0" rx="68" ry="70" fill="#323870"/></g>
<g filter="url(#b3)" opacity="0.7"><ellipse cx="850.5" cy="703.0" rx="56" ry="56" fill="#2c3c90"/><ellipse cx="999.0" cy="700.0" rx="58" ry="59" fill="#2c3c90"/><ellipse cx="1145.2" cy="701.5" rx="57" ry="58" fill="#2c3c90"/><ellipse cx="1291.0" cy="699.0" rx="58" ry="60" fill="#2c3c90"/></g>
<g filter="url(#b1_5)"><ellipse cx="850.5" cy="703.0" rx="52" ry="52" fill="url(#gEb)"/><ellipse cx="999.0" cy="700.0" rx="54" ry="55" fill="url(#gEb)"/><ellipse cx="1145.2" cy="701.5" rx="53" ry="54" fill="url(#gEb)"/><ellipse cx="1291.0" cy="699.0" rx="54" ry="56" fill="url(#gEb)"/></g>
</g>
<defs><clipPath id="cpEg"><rect x="786.80" y="787.20" width="555.50" height="146.70"/></clipPath></defs><g clip-path="url(#cpEg)">
<rect x="786.80" y="787.20" width="555.50" height="146.70" fill="#0b2410" stroke="none" stroke-width="0" />
<rect x="786.8" y="787.2" width="555.5" height="146.69999999999993" filter="url(#mottG)" opacity="0.5"/>
<g filter="url(#b5)" opacity="0.9"><ellipse cx="842.4" cy="855.2" rx="62.5" ry="62" fill="#1d4822"/><ellipse cx="989.3" cy="855.5" rx="62" ry="62.5" fill="#1d4822"/><ellipse cx="1135.5" cy="856.7" rx="61.5" ry="62.3" fill="#1d4822"/><ellipse cx="1283.8" cy="857" rx="62" ry="61.8" fill="#1d4822"/></g>
<g filter="url(#b1_2)"><ellipse cx="842.4" cy="855.2" rx="52.5" ry="52" fill="#6cbf48" stroke="#5ccc46" stroke-width="1.6"/><ellipse cx="989.3" cy="855.5" rx="52" ry="52.5" fill="#6cbf48" stroke="#5ccc46" stroke-width="1.6"/><ellipse cx="1135.5" cy="856.7" rx="51.5" ry="52.3" fill="#6cbf48" stroke="#5ccc46" stroke-width="1.6"/><ellipse cx="1283.8" cy="857" rx="52" ry="51.8" fill="#6cbf48" stroke="#5ccc46" stroke-width="1.6"/></g>
</g>
<defs><clipPath id="cpEr"><rect x="786.80" y="943.40" width="555.50" height="147.70"/></clipPath><clipPath id="cpErD"><circle cx="839" cy="1010.5" r="52"/><circle cx="984.3" cy="1010.3" r="52"/><circle cx="1132.9" cy="1010.3" r="52"/><circle cx="1281.5" cy="1010.3" r="53"/></clipPath></defs>
<g clip-path="url(#cpEr)">
<rect x="786.80" y="943.40" width="555.50" height="147.70" fill="#040904" stroke="none" stroke-width="0" />
<g opacity="0.6"><g fill="#0f2410"><rect x="1234" y="1063" width="2" height="3"/><rect x="946" y="951" width="2" height="2"/><rect x="1014" y="950" width="2" height="2"/><rect x="1342" y="1040" width="3" height="2"/><rect x="1028" y="1087" width="2" height="3"/><rect x="1256" y="1001" width="3" height="2"/><rect x="1163" y="952" width="3" height="3"/><rect x="938" y="1073" width="2" height="2"/><rect x="1164" y="1072" width="2" height="2"/><rect x="1284" y="1072" width="2" height="2"/><rect x="1180" y="944" width="2" height="3"/><rect x="1029" y="973" width="3" height="2"/><rect x="1235" y="990" width="2" height="2"/><rect x="1175" y="1010" width="2" height="3"/><rect x="918" y="991" width="2" height="3"/><rect x="1068" y="1018" width="3" height="2"/><rect x="795" y="1081" width="3" height="2"/><rect x="1256" y="998" width="3" height="3"/><rect x="1009" y="1082" width="2" height="3"/><rect x="920" y="1053" width="2" height="3"/><rect x="1167" y="1012" width="3" height="2"/><rect x="1143" y="959" width="2" height="3"/><rect x="1140" y="999" width="2" height="3"/><rect x="895" y="1001" width="2" height="3"/><rect x="998" y="1049" width="2" height="3"/><rect x="1310" y="1090" width="3" height="3"/><rect x="1236" y="966" width="2" height="3"/><rect x="1258" y="1003" width="2" height="3"/><rect x="1053" y="1085" width="3" height="2"/><rect x="1010" y="944" width="3" height="2"/><rect x="1138" y="1081" width="3" height="3"/><rect x="969" y="1089" width="3" height="2"/><rect x="1244" y="967" width="3" height="2"/><rect x="828" y="1070" width="3" height="3"/><rect x="864" y="1021" width="3" height="2"/><rect x="1060" y="1025" width="3" height="2"/><rect x="1267" y="985" width="2" height="2"/><rect x="819" y="944" width="3" height="2"/><rect x="977" y="1080" width="2" height="3"/><rect x="1054" y="1011" width="2" height="3"/><rect x="1264" y="993" width="2" height="3"/><rect x="1008" y="1031" width="3" height="3"/><rect x="1065" y="1045" width="3" height="3"/><rect x="790" y="949" width="3" height="2"/><rect x="905" y="973" width="2" height="2"/><rect x="907" y="1032" width="2" height="3"/><rect x="981" y="998" width="3" height="2"/><rect x="1165" y="1059" width="2" height="3"/><rect x="996" y="1048" width="2" height="2"/><rect x="1245" y="977" width="3" height="3"/><rect x="1067" y="1051" width="3" height="3"/><rect x="962" y="1016" width="3" height="2"/><rect x="811" y="1022" width="2" height="2"/><rect x="1250" y="946" width="3" height="3"/><rect x="1059" y="1032" width="2" height="3"/><rect x="1078" y="1027" width="3" height="2"/><rect x="1129" y="980" width="2" height="3"/><rect x="1160" y="972" width="2" height="3"/><rect x="1201" y="1085" width="2" height="2"/><rect x="1033" y="982" width="2" height="2"/><rect x="796" y="980" width="2" height="3"/><rect x="878" y="1045" width="2" height="2"/><rect x="823" y="972" width="3" height="3"/><rect x="1065" y="1024" width="2" height="2"/><rect x="939" y="1016" width="2" height="3"/><rect x="899" y="1052" width="2" height="2"/><rect x="894" y="991" width="3" height="2"/><rect x="1306" y="997" width="3" height="2"/><rect x="787" y="952" width="2" height="2"/><rect x="1019" y="1032" width="2" height="3"/><rect x="1281" y="979" width="2" height="3"/><rect x="1299" y="958" width="3" height="3"/><rect x="1007" y="1059" width="2" height="2"/><rect x="1134" y="1018" width="3" height="2"/><rect x="1209" y="1065" width="3" height="2"/><rect x="1002" y="1083" width="2" height="2"/><rect x="1275" y="1005" width="3" height="2"/><rect x="988" y="952" width="3" height="2"/><rect x="914" y="953" width="2" height="3"/><rect x="1032" y="947" width="3" height="2"/><rect x="1297" y="963" width="3" height="2"/><rect x="1315" y="960" width="3" height="2"/><rect x="1232" y="946" width="2" height="2"/><rect x="1303" y="1044" width="2" height="2"/><rect x="1054" y="980" width="3" height="3"/><rect x="1314" y="954" width="3" height="3"/><rect x="889" y="1003" width="2" height="3"/><rect x="1183" y="971" width="3" height="2"/><rect x="1023" y="1000" width="2" height="3"/><rect x="1225" y="993" width="3" height="2"/><rect x="824" y="998" width="2" height="3"/><rect x="1066" y="1026" width="3" height="3"/><rect x="1102" y="1062" width="3" height="2"/><rect x="963" y="1074" width="3" height="2"/><rect x="1320" y="964" width="2" height="3"/><rect x="1050" y="1013" width="3" height="3"/><rect x="859" y="1019" width="2" height="2"/><rect x="977" y="1064" width="3" height="2"/><rect x="1223" y="945" width="2" height="3"/><rect x="1317" y="1044" width="2" height="2"/><rect x="1152" y="971" width="3" height="2"/><rect x="806" y="954" width="3" height="2"/><rect x="888" y="1067" width="3" height="2"/><rect x="1245" y="944" width="3" height="2"/><rect x="821" y="1081" width="2" height="3"/><rect x="795" y="1081" width="3" height="2"/><rect x="934" y="1030" width="3" height="2"/><rect x="1328" y="997" width="2" height="3"/><rect x="1105" y="985" width="3" height="3"/><rect x="1338" y="1031" width="3" height="2"/><rect x="1236" y="1042" width="3" height="2"/><rect x="1150" y="982" width="2" height="2"/><rect x="1073" y="954" width="2" height="3"/><rect x="888" y="981" width="3" height="3"/><rect x="1113" y="979" width="2" height="3"/><rect x="1340" y="1076" width="3" height="3"/><rect x="972" y="1030" width="2" height="3"/><rect x="836" y="1046" width="3" height="3"/><rect x="1077" y="1052" width="3" height="2"/><rect x="905" y="1089" width="2" height="2"/><rect x="929" y="954" width="2" height="2"/><rect x="1098" y="949" width="3" height="2"/><rect x="929" y="966" width="2" height="3"/><rect x="1321" y="1079" width="2" height="2"/><rect x="824" y="995" width="3" height="3"/><rect x="998" y="1051" width="3" height="3"/><rect x="1285" y="1013" width="2" height="2"/><rect x="1293" y="1074" width="2" height="2"/><rect x="904" y="1041" width="3" height="3"/><rect x="1320" y="947" width="3" height="2"/><rect x="1022" y="1025" width="3" height="3"/><rect x="1096" y="1020" width="2" height="2"/><rect x="1148" y="1029" width="2" height="3"/><rect x="892" y="962" width="3" height="2"/><rect x="968" y="1010" width="2" height="2"/><rect x="1179" y="1065" width="3" height="2"/><rect x="1292" y="957" width="2" height="2"/><rect x="1057" y="1006" width="2" height="2"/><rect x="1192" y="1067" width="2" height="2"/><rect x="878" y="1020" width="2" height="2"/><rect x="1309" y="1069" width="3" height="3"/><rect x="1015" y="1060" width="2" height="2"/><rect x="1041" y="959" width="3" height="2"/><rect x="1159" y="972" width="2" height="3"/><rect x="1101" y="1029" width="3" height="3"/><rect x="952" y="945" width="2" height="2"/><rect x="1041" y="966" width="3" height="2"/><rect x="1197" y="999" width="3" height="2"/><rect x="917" y="1022" width="2" height="3"/><rect x="881" y="1068" width="2" height="3"/><rect x="1121" y="1024" width="2" height="3"/><rect x="844" y="1027" width="2" height="3"/><rect x="1192" y="1012" width="3" height="2"/><rect x="1270" y="944" width="2" height="2"/><rect x="1319" y="1040" width="2" height="3"/><rect x="1083" y="949" width="3" height="3"/><rect x="1137" y="956" width="3" height="2"/><rect x="1310" y="953" width="3" height="2"/><rect x="844" y="1044" width="2" height="3"/><rect x="874" y="1068" width="3" height="2"/><rect x="1086" y="1056" width="3" height="2"/><rect x="1052" y="1071" width="2" height="2"/><rect x="1230" y="1011" width="3" height="3"/><rect x="1009" y="1065" width="3" height="2"/><rect x="975" y="965" width="3" height="2"/><rect x="1012" y="979" width="3" height="2"/><rect x="1165" y="1029" width="2" height="2"/><rect x="1182" y="1048" width="2" height="2"/><rect x="1042" y="969" width="2" height="3"/><rect x="985" y="987" width="3" height="3"/><rect x="956" y="973" width="3" height="2"/><rect x="1073" y="1034" width="3" height="2"/><rect x="1167" y="947" width="2" height="3"/><rect x="1043" y="1010" width="3" height="2"/><rect x="940" y="1064" width="3" height="2"/><rect x="840" y="995" width="3" height="2"/><rect x="987" y="959" width="2" height="3"/><rect x="871" y="1051" width="2" height="2"/><rect x="1062" y="1043" width="3" height="2"/><rect x="1059" y="1011" width="2" height="2"/><rect x="787" y="945" width="3" height="2"/><rect x="1040" y="993" width="2" height="2"/><rect x="989" y="1043" width="2" height="3"/><rect x="1211" y="944" width="2" height="2"/><rect x="1059" y="1064" width="3" height="3"/><rect x="1232" y="1045" width="3" height="2"/><rect x="1332" y="1026" width="2" height="3"/><rect x="931" y="1077" width="3" height="3"/><rect x="977" y="1016" width="2" height="2"/><rect x="1211" y="1038" width="3" height="2"/><rect x="1248" y="1024" width="3" height="3"/><rect x="1242" y="958" width="2" height="2"/><rect x="1258" y="948" width="3" height="2"/><rect x="1298" y="1063" width="2" height="2"/><rect x="975" y="949" width="3" height="2"/><rect x="793" y="1030" width="2" height="3"/><rect x="867" y="1066" width="2" height="2"/><rect x="1120" y="1041" width="3" height="2"/><rect x="1233" y="1004" width="2" height="2"/><rect x="857" y="981" width="2" height="2"/><rect x="1189" y="1011" width="2" height="3"/><rect x="1207" y="1003" width="2" height="2"/><rect x="1099" y="1083" width="3" height="2"/><rect x="1044" y="1040" width="3" height="2"/><rect x="844" y="1019" width="2" height="2"/><rect x="826" y="993" width="2" height="2"/><rect x="1067" y="1083" width="2" height="2"/><rect x="1336" y="995" width="2" height="3"/><rect x="1077" y="1059" width="3" height="3"/><rect x="1254" y="965" width="3" height="3"/><rect x="853" y="1052" width="3" height="2"/><rect x="954" y="963" width="3" height="3"/><rect x="962" y="1027" width="2" height="2"/><rect x="1009" y="1077" width="2" height="3"/><rect x="1057" y="1051" width="3" height="3"/><rect x="972" y="960" width="2" height="2"/><rect x="874" y="1003" width="2" height="3"/><rect x="1212" y="959" width="3" height="2"/><rect x="987" y="1068" width="3" height="2"/><rect x="1086" y="986" width="3" height="3"/><rect x="1123" y="993" width="3" height="3"/><rect x="1206" y="996" width="2" height="2"/><rect x="859" y="982" width="2" height="2"/><rect x="818" y="956" width="2" height="3"/><rect x="1194" y="1030" width="3" height="3"/><rect x="885" y="995" width="3" height="3"/><rect x="1262" y="1023" width="2" height="2"/><rect x="811" y="949" width="3" height="3"/><rect x="1284" y="965" width="3" height="3"/><rect x="810" y="1067" width="2" height="3"/><rect x="1050" y="1014" width="3" height="2"/><rect x="1304" y="984" width="2" height="2"/><rect x="1215" y="1029" width="2" height="3"/><rect x="1104" y="960" width="2" height="2"/><rect x="1331" y="1047" width="2" height="3"/><rect x="1098" y="978" width="2" height="2"/><rect x="1111" y="945" width="3" height="2"/><rect x="977" y="1030" width="3" height="3"/><rect x="1038" y="989" width="2" height="3"/><rect x="952" y="1014" width="3" height="2"/><rect x="811" y="959" width="2" height="2"/><rect x="1228" y="999" width="3" height="3"/><rect x="1035" y="1017" width="2" height="3"/><rect x="1006" y="958" width="2" height="3"/><rect x="803" y="1020" width="3" height="2"/><rect x="1024" y="1051" width="3" height="3"/><rect x="1321" y="1059" width="2" height="3"/><rect x="1307" y="1000" width="2" height="2"/><rect x="802" y="1010" width="3" height="2"/><rect x="906" y="1004" width="3" height="2"/><rect x="1212" y="1012" width="2" height="3"/><rect x="799" y="1050" width="2" height="3"/><rect x="794" y="995" width="3" height="3"/><rect x="863" y="1062" width="2" height="3"/><rect x="1222" y="1035" width="2" height="3"/><rect x="1308" y="1085" width="3" height="2"/><rect x="1146" y="957" width="3" height="3"/><rect x="819" y="986" width="3" height="3"/><rect x="911" y="1006" width="2" height="2"/><rect x="1157" y="1020" width="2" height="3"/><rect x="1132" y="1050" width="3" height="2"/><rect x="1162" y="1078" width="2" height="2"/><rect x="1222" y="1059" width="3" height="2"/><rect x="1128" y="989" width="3" height="2"/><rect x="1339" y="1028" width="3" height="2"/><rect x="1230" y="1001" width="2" height="2"/><rect x="1331" y="967" width="3" height="3"/><rect x="1329" y="1013" width="3" height="2"/><rect x="1043" y="1024" width="2" height="3"/><rect x="1342" y="980" width="2" height="2"/><rect x="1332" y="944" width="3" height="3"/><rect x="1283" y="1076" width="3" height="2"/><rect x="898" y="1032" width="3" height="2"/><rect x="1181" y="972" width="2" height="2"/><rect x="1294" y="1030" width="2" height="3"/><rect x="1204" y="963" width="2" height="3"/><rect x="889" y="954" width="2" height="3"/><rect x="792" y="951" width="2" height="2"/><rect x="887" y="1042" width="3" height="2"/><rect x="921" y="1025" width="3" height="3"/><rect x="1257" y="1065" width="3" height="3"/><rect x="849" y="952" width="3" height="3"/><rect x="1009" y="951" width="2" height="3"/><rect x="965" y="975" width="3" height="3"/><rect x="1195" y="982" width="3" height="3"/><rect x="912" y="1074" width="3" height="2"/><rect x="1050" y="968" width="3" height="2"/><rect x="941" y="1059" width="2" height="2"/><rect x="1083" y="1003" width="2" height="3"/><rect x="1150" y="1027" width="3" height="2"/><rect x="845" y="1033" width="2" height="3"/><rect x="832" y="1006" width="2" height="2"/><rect x="799" y="1036" width="3" height="2"/><rect x="1055" y="1066" width="3" height="3"/><rect x="920" y="1085" width="3" height="3"/><rect x="1172" y="961" width="3" height="3"/><rect x="788" y="986" width="3" height="2"/><rect x="1043" y="1060" width="3" height="3"/><rect x="1147" y="1010" width="2" height="3"/><rect x="891" y="1076" width="2" height="3"/><rect x="1294" y="1084" width="3" height="3"/><rect x="948" y="1078" width="2" height="3"/><rect x="1049" y="958" width="3" height="3"/><rect x="905" y="969" width="2" height="3"/><rect x="1264" y="983" width="3" height="2"/><rect x="1223" y="1027" width="3" height="3"/><rect x="1117" y="1063" width="2" height="3"/><rect x="934" y="997" width="2" height="3"/><rect x="1252" y="1023" width="2" height="2"/><rect x="1287" y="985" width="3" height="2"/><rect x="1116" y="1057" width="3" height="3"/><rect x="1168" y="974" width="3" height="2"/><rect x="1203" y="1029" width="3" height="3"/><rect x="826" y="1089" width="3" height="2"/><rect x="951" y="958" width="2" height="2"/><rect x="1338" y="1060" width="2" height="3"/><rect x="1257" y="1007" width="2" height="2"/><rect x="1085" y="979" width="2" height="2"/><rect x="1095" y="1028" width="3" height="3"/><rect x="1233" y="946" width="2" height="2"/><rect x="1097" y="1048" width="3" height="3"/><rect x="1092" y="1013" width="3" height="2"/><rect x="1029" y="1071" width="2" height="2"/><rect x="1078" y="1084" width="2" height="3"/><rect x="796" y="989" width="3" height="2"/><rect x="1332" y="1061" width="2" height="2"/><rect x="1001" y="1043" width="3" height="2"/><rect x="879" y="1060" width="2" height="2"/><rect x="918" y="1078" width="2" height="3"/><rect x="1263" y="1059" width="2" height="3"/><rect x="889" y="1046" width="3" height="3"/><rect x="1192" y="1043" width="2" height="3"/><rect x="818" y="968" width="2" height="3"/><rect x="1167" y="1071" width="3" height="2"/><rect x="1076" y="945" width="3" height="2"/><rect x="813" y="971" width="3" height="2"/><rect x="827" y="1039" width="3" height="3"/><rect x="1168" y="1088" width="3" height="2"/><rect x="922" y="988" width="3" height="3"/><rect x="1150" y="1054" width="2" height="2"/><rect x="861" y="1013" width="2" height="3"/><rect x="931" y="1056" width="3" height="3"/><rect x="990" y="1047" width="2" height="3"/><rect x="904" y="982" width="2" height="2"/><rect x="897" y="1003" width="2" height="3"/><rect x="1262" y="1042" width="3" height="3"/><rect x="1298" y="971" width="2" height="3"/><rect x="998" y="1082" width="2" height="2"/><rect x="928" y="960" width="3" height="2"/><rect x="1169" y="986" width="2" height="3"/><rect x="1231" y="983" width="3" height="3"/><rect x="1151" y="964" width="2" height="3"/><rect x="1134" y="1072" width="2" height="2"/><rect x="863" y="1024" width="2" height="3"/><rect x="854" y="974" width="3" height="2"/><rect x="1335" y="1056" width="3" height="2"/><rect x="1258" y="1008" width="2" height="2"/><rect x="821" y="980" width="2" height="2"/><rect x="880" y="953" width="2" height="2"/><rect x="842" y="1006" width="2" height="3"/><rect x="1222" y="1022" width="2" height="2"/><rect x="1313" y="953" width="2" height="2"/><rect x="1203" y="1036" width="2" height="3"/><rect x="939" y="1075" width="3" height="3"/><rect x="811" y="1085" width="3" height="3"/><rect x="1261" y="1014" width="3" height="3"/><rect x="1293" y="1076" width="3" height="2"/><rect x="882" y="1039" width="3" height="2"/><rect x="1264" y="1010" width="3" height="2"/><rect x="995" y="1086" width="3" height="3"/><rect x="880" y="971" width="3" height="2"/><rect x="1309" y="1020" width="3" height="2"/><rect x="904" y="980" width="3" height="3"/><rect x="905" y="959" width="2" height="3"/><rect x="1151" y="1031" width="3" height="2"/><rect x="1020" y="1073" width="3" height="2"/><rect x="1027" y="958" width="3" height="2"/><rect x="834" y="1057" width="2" height="3"/><rect x="829" y="997" width="2" height="3"/><rect x="854" y="1063" width="3" height="2"/><rect x="1043" y="1059" width="2" height="3"/><rect x="1233" y="991" width="2" height="3"/><rect x="858" y="1090" width="3" height="3"/><rect x="1005" y="1016" width="2" height="3"/><rect x="986" y="992" width="3" height="3"/><rect x="875" y="1084" width="2" height="3"/><rect x="1043" y="1013" width="2" height="2"/><rect x="968" y="1011" width="3" height="2"/><rect x="794" y="944" width="3" height="3"/><rect x="791" y="1084" width="3" height="3"/><rect x="1186" y="950" width="3" height="3"/><rect x="902" y="1079" width="2" height="2"/><rect x="897" y="1007" width="2" height="2"/><rect x="867" y="1059" width="2" height="2"/><rect x="1291" y="1052" width="2" height="3"/><rect x="1192" y="1074" width="3" height="3"/><rect x="793" y="982" width="2" height="3"/><rect x="1090" y="1080" width="2" height="2"/><rect x="977" y="1066" width="2" height="2"/><rect x="1013" y="1065" width="2" height="2"/><rect x="1151" y="966" width="3" height="2"/><rect x="1331" y="972" width="3" height="2"/><rect x="796" y="955" width="2" height="2"/><rect x="1129" y="1074" width="2" height="3"/><rect x="984" y="1017" width="3" height="2"/><rect x="1044" y="1070" width="3" height="2"/><rect x="1200" y="1070" width="3" height="2"/><rect x="976" y="957" width="3" height="3"/><rect x="1231" y="1037" width="3" height="2"/><rect x="1178" y="976" width="3" height="3"/><rect x="1310" y="991" width="3" height="3"/><rect x="1039" y="993" width="3" height="3"/><rect x="962" y="1060" width="2" height="3"/><rect x="849" y="1066" width="3" height="2"/><rect x="991" y="1009" width="3" height="2"/><rect x="1021" y="1055" width="2" height="2"/><rect x="875" y="1055" width="3" height="2"/><rect x="1086" y="969" width="3" height="3"/><rect x="1128" y="1037" width="3" height="3"/><rect x="828" y="1020" width="3" height="2"/><rect x="991" y="1038" width="2" height="3"/><rect x="941" y="1076" width="3" height="3"/><rect x="1298" y="1008" width="3" height="3"/><rect x="1051" y="953" width="3" height="2"/><rect x="1252" y="970" width="2" height="2"/><rect x="1162" y="1004" width="2" height="3"/><rect x="1101" y="962" width="2" height="2"/><rect x="1078" y="1037" width="3" height="3"/><rect x="1328" y="966" width="3" height="2"/><rect x="1251" y="1075" width="3" height="3"/><rect x="1283" y="1002" width="2" height="3"/><rect x="1141" y="1028" width="2" height="2"/><rect x="1246" y="1057" width="2" height="2"/><rect x="1295" y="1006" width="3" height="3"/><rect x="1326" y="1039" width="2" height="2"/><rect x="1124" y="1007" width="3" height="2"/><rect x="872" y="1057" width="2" height="2"/><rect x="1031" y="996" width="2" height="3"/><rect x="1135" y="1061" width="3" height="2"/><rect x="1121" y="1018" width="3" height="2"/><rect x="1265" y="1033" width="2" height="2"/><rect x="1075" y="1021" width="3" height="2"/><rect x="1072" y="1065" width="3" height="2"/><rect x="1208" y="945" width="3" height="2"/><rect x="1200" y="1040" width="2" height="2"/><rect x="986" y="1009" width="2" height="3"/><rect x="848" y="966" width="2" height="2"/><rect x="1012" y="1048" width="2" height="2"/><rect x="1186" y="977" width="2" height="2"/><rect x="1217" y="1007" width="3" height="3"/><rect x="1023" y="957" width="3" height="3"/><rect x="812" y="967" width="3" height="3"/><rect x="1200" y="1087" width="2" height="3"/><rect x="1008" y="974" width="3" height="2"/><rect x="928" y="1078" width="2" height="2"/><rect x="1079" y="1020" width="3" height="2"/><rect x="1123" y="944" width="3" height="3"/><rect x="915" y="1085" width="3" height="3"/><rect x="1062" y="961" width="2" height="2"/><rect x="942" y="1081" width="3" height="3"/><rect x="1071" y="1013" width="2" height="2"/><rect x="1158" y="1012" width="3" height="3"/><rect x="1183" y="1039" width="2" height="2"/><rect x="1292" y="969" width="3" height="3"/><rect x="1296" y="1089" width="3" height="2"/><rect x="1095" y="1039" width="3" height="2"/><rect x="1017" y="1033" width="2" height="2"/><rect x="1207" y="1091" width="2" height="2"/><rect x="1340" y="1016" width="2" height="3"/><rect x="1062" y="1012" width="3" height="2"/><rect x="937" y="949" width="2" height="3"/><rect x="1153" y="1003" width="2" height="3"/><rect x="1317" y="979" width="2" height="2"/><rect x="898" y="975" width="2" height="3"/><rect x="1212" y="1087" width="3" height="3"/><rect x="1012" y="1083" width="2" height="2"/><rect x="1078" y="987" width="3" height="3"/><rect x="968" y="962" width="2" height="3"/><rect x="1320" y="1081" width="2" height="2"/><rect x="966" y="999" width="3" height="2"/><rect x="1079" y="1065" width="2" height="3"/><rect x="1206" y="1056" width="3" height="2"/><rect x="952" y="1087" width="3" height="2"/><rect x="1323" y="1053" width="3" height="2"/><rect x="901" y="1050" width="3" height="3"/><rect x="1107" y="1023" width="3" height="2"/><rect x="1295" y="1019" width="3" height="3"/><rect x="1234" y="1054" width="3" height="2"/><rect x="865" y="998" width="3" height="3"/><rect x="859" y="952" width="2" height="2"/><rect x="927" y="1031" width="3" height="2"/><rect x="1209" y="1029" width="2" height="3"/><rect x="1245" y="994" width="2" height="3"/><rect x="1043" y="1041" width="3" height="3"/><rect x="995" y="1065" width="2" height="2"/><rect x="1083" y="1021" width="3" height="2"/><rect x="1103" y="1088" width="3" height="3"/><rect x="965" y="1033" width="3" height="3"/><rect x="1205" y="1054" width="3" height="3"/><rect x="1011" y="1054" width="3" height="2"/></g></g>
<g filter="url(#b4)" opacity="0.8"><circle cx="839.0" cy="1010.5" r="58.5" fill="#5a2860" /><circle cx="984.3" cy="1010.3" r="58.5" fill="#5a2860" /><circle cx="1132.9" cy="1010.3" r="58.5" fill="#5a2860" /><circle cx="1281.5" cy="1010.3" r="59.5" fill="#5a2860" /></g>
<g filter="url(#b3)"><circle cx="839.0" cy="1010.5" r="54.5" fill="url(#gEr)" /><circle cx="984.3" cy="1010.3" r="54.5" fill="url(#gEr)" /><circle cx="1132.9" cy="1010.3" r="54.5" fill="url(#gEr)" /><circle cx="1281.5" cy="1010.3" r="55.5" fill="url(#gEr)" /></g>
<g clip-path="url(#cpErD)"><rect x="786.8" y="943.4" width="555.5" height="147.69999999999993" filter="url(#mott)" opacity="0.6"/></g>
<g filter="url(#b3)" opacity="0.35"><circle cx="839" cy="1010.5" r="49.5" fill="none" stroke="#f8b0c8" stroke-width="5"/><circle cx="984.3" cy="1010.3" r="49.5" fill="none" stroke="#f8b0c8" stroke-width="5"/><circle cx="1132.9" cy="1010.3" r="49.5" fill="none" stroke="#f8b0c8" stroke-width="5"/><circle cx="1281.5" cy="1010.3" r="50.5" fill="none" stroke="#f8b0c8" stroke-width="5"/></g>
</g>
<rect x="1203.30" y="1063.80" width="121.00" height="8.70" fill="#fff" stroke="none" stroke-width="0" />
<text transform="translate(1265.3,1051.0) scale(0.94,1)" font-size="41.5" text-anchor="middle" fill="#fff" >5 µm</text>
<defs><clipPath id="cpF0"><rect x="1517.50" y="744.00" width="74.10" height="125.90"/></clipPath></defs><g clip-path="url(#cpF0)">
<rect x="1517.50" y="744.00" width="74.10" height="125.90" fill="#16153a" stroke="none" stroke-width="0" />
<g opacity="0.7"><g fill="#05051a"><rect x="1582" y="780" width="2" height="3"/><rect x="1575" y="834" width="3" height="3"/><rect x="1581" y="860" width="2" height="2"/><rect x="1550" y="805" width="3" height="2"/><rect x="1518" y="849" width="2" height="3"/><rect x="1576" y="784" width="3" height="3"/><rect x="1540" y="837" width="3" height="2"/><rect x="1575" y="868" width="2" height="3"/><rect x="1583" y="859" width="3" height="3"/><rect x="1559" y="860" width="3" height="2"/><rect x="1545" y="820" width="3" height="2"/><rect x="1576" y="769" width="2" height="2"/><rect x="1527" y="865" width="2" height="2"/><rect x="1534" y="791" width="2" height="3"/><rect x="1575" y="754" width="2" height="3"/><rect x="1574" y="784" width="3" height="2"/><rect x="1562" y="819" width="3" height="2"/><rect x="1530" y="840" width="3" height="3"/><rect x="1577" y="772" width="3" height="3"/><rect x="1523" y="745" width="3" height="2"/><rect x="1575" y="812" width="3" height="3"/><rect x="1561" y="824" width="2" height="2"/><rect x="1571" y="746" width="2" height="2"/><rect x="1522" y="760" width="2" height="3"/><rect x="1562" y="844" width="3" height="3"/><rect x="1560" y="844" width="3" height="3"/><rect x="1555" y="814" width="2" height="3"/><rect x="1543" y="828" width="2" height="2"/><rect x="1566" y="805" width="3" height="3"/><rect x="1569" y="749" width="2" height="3"/><rect x="1584" y="786" width="3" height="3"/><rect x="1580" y="807" width="3" height="2"/><rect x="1572" y="850" width="3" height="2"/><rect x="1534" y="841" width="3" height="3"/><rect x="1519" y="769" width="3" height="2"/><rect x="1561" y="814" width="3" height="3"/><rect x="1543" y="793" width="2" height="3"/><rect x="1560" y="815" width="3" height="3"/><rect x="1591" y="838" width="3" height="2"/><rect x="1590" y="760" width="3" height="3"/><rect x="1555" y="805" width="2" height="3"/><rect x="1563" y="847" width="2" height="2"/><rect x="1559" y="826" width="3" height="2"/><rect x="1574" y="764" width="3" height="2"/><rect x="1537" y="846" width="2" height="2"/><rect x="1520" y="769" width="3" height="3"/><rect x="1522" y="784" width="3" height="2"/><rect x="1569" y="762" width="3" height="2"/><rect x="1551" y="857" width="2" height="2"/><rect x="1528" y="797" width="3" height="2"/><rect x="1560" y="760" width="3" height="2"/><rect x="1566" y="796" width="2" height="3"/><rect x="1544" y="854" width="3" height="2"/><rect x="1547" y="833" width="2" height="3"/><rect x="1587" y="856" width="2" height="2"/><rect x="1541" y="825" width="3" height="3"/><rect x="1526" y="858" width="3" height="2"/><rect x="1528" y="777" width="2" height="3"/><rect x="1536" y="759" width="3" height="3"/><rect x="1585" y="783" width="3" height="3"/><rect x="1546" y="863" width="3" height="3"/><rect x="1554" y="867" width="2" height="2"/><rect x="1548" y="815" width="3" height="3"/><rect x="1570" y="797" width="2" height="3"/><rect x="1590" y="851" width="3" height="2"/><rect x="1578" y="778" width="3" height="2"/><rect x="1523" y="845" width="2" height="3"/><rect x="1540" y="835" width="2" height="2"/><rect x="1575" y="765" width="2" height="3"/><rect x="1576" y="866" width="3" height="3"/><rect x="1568" y="795" width="3" height="2"/><rect x="1577" y="754" width="2" height="3"/><rect x="1540" y="751" width="2" height="2"/><rect x="1557" y="784" width="2" height="2"/><rect x="1541" y="845" width="3" height="3"/><rect x="1552" y="790" width="2" height="3"/><rect x="1555" y="829" width="2" height="3"/><rect x="1555" y="823" width="2" height="2"/><rect x="1580" y="840" width="3" height="2"/><rect x="1579" y="774" width="3" height="2"/><rect x="1567" y="760" width="3" height="3"/><rect x="1519" y="861" width="2" height="2"/><rect x="1584" y="783" width="2" height="3"/><rect x="1557" y="799" width="3" height="3"/><rect x="1591" y="857" width="2" height="2"/><rect x="1535" y="862" width="2" height="2"/><rect x="1524" y="827" width="3" height="2"/><rect x="1518" y="825" width="3" height="2"/><rect x="1535" y="836" width="2" height="3"/><rect x="1551" y="803" width="2" height="2"/><rect x="1555" y="769" width="3" height="3"/><rect x="1525" y="780" width="3" height="3"/><rect x="1542" y="845" width="2" height="3"/><rect x="1526" y="802" width="2" height="3"/><rect x="1553" y="769" width="3" height="2"/><rect x="1573" y="818" width="2" height="2"/><rect x="1551" y="801" width="3" height="2"/><rect x="1559" y="858" width="2" height="2"/><rect x="1563" y="754" width="3" height="2"/><rect x="1588" y="823" width="3" height="3"/><rect x="1577" y="810" width="2" height="3"/><rect x="1583" y="868" width="2" height="2"/><rect x="1546" y="769" width="2" height="3"/><rect x="1564" y="788" width="3" height="2"/><rect x="1555" y="758" width="3" height="3"/><rect x="1553" y="755" width="2" height="3"/><rect x="1536" y="807" width="3" height="3"/><rect x="1546" y="770" width="2" height="3"/><rect x="1572" y="853" width="2" height="2"/><rect x="1548" y="834" width="3" height="2"/><rect x="1520" y="856" width="2" height="2"/><rect x="1580" y="848" width="3" height="3"/><rect x="1590" y="771" width="3" height="2"/><rect x="1534" y="766" width="2" height="2"/><rect x="1543" y="767" width="2" height="3"/><rect x="1583" y="808" width="3" height="2"/><rect x="1528" y="839" width="3" height="2"/><rect x="1523" y="849" width="2" height="3"/><rect x="1562" y="752" width="3" height="2"/><rect x="1569" y="838" width="2" height="2"/></g></g>
<g filter="url(#b2_5)" opacity="0.8"><circle cx="1553.9" cy="755.1" r="14.2" fill="#23307a" /><circle cx="1528.2" cy="782.1" r="14.2" fill="#23307a" /><circle cx="1580.3" cy="782.1" r="14.2" fill="#23307a" /><circle cx="1528.2" cy="808.4" r="14.2" fill="#23307a" /><circle cx="1553.9" cy="808.4" r="14.2" fill="#23307a" /><circle cx="1580.3" cy="808.4" r="14.2" fill="#23307a" /><circle cx="1528.2" cy="834.8" r="14.2" fill="#23307a" /><circle cx="1580.3" cy="834.8" r="14.2" fill="#23307a" /><circle cx="1528.2" cy="861.1" r="14.2" fill="#23307a" /><circle cx="1580.3" cy="861.1" r="14.2" fill="#23307a" /></g>
<g filter="url(#b0_8)"><circle cx="1553.9" cy="755.1" r="10.2" fill="url(#gFb)" /><circle cx="1528.2" cy="782.1" r="10.2" fill="url(#gFb)" /><circle cx="1580.3" cy="782.1" r="10.2" fill="url(#gFb)" /><circle cx="1528.2" cy="808.4" r="10.2" fill="url(#gFb)" /><circle cx="1553.9" cy="808.4" r="10.2" fill="url(#gFb)" /><circle cx="1580.3" cy="808.4" r="10.2" fill="url(#gFb)" /><circle cx="1528.2" cy="834.8" r="10.2" fill="url(#gFb)" /><circle cx="1580.3" cy="834.8" r="10.2" fill="url(#gFb)" /><circle cx="1528.2" cy="861.1" r="10.2" fill="url(#gFb)" /><circle cx="1580.3" cy="861.1" r="10.2" fill="url(#gFb)" /></g>
</g>
<path d="M1525.3,865.5 L1525.3,781.4" fill="none" stroke="#fff" stroke-width="2.2" stroke-dasharray="18.00 10.03" stroke-dashoffset="9.00" />
<path d="M1525.3,781.4 L1553.9,752.6" fill="none" stroke="#fff" stroke-width="2.2" stroke-dasharray="13.00 7.29" stroke-dashoffset="6.50" />
<path d="M1553.9,752.6 L1582.8,781.4" fill="none" stroke="#fff" stroke-width="2.2" stroke-dasharray="13.00 7.40" stroke-dashoffset="6.50" />
<path d="M1582.8,781.4 L1582.8,865.5" fill="none" stroke="#fff" stroke-width="2.2" stroke-dasharray="18.00 10.03" stroke-dashoffset="9.00" />
<path d="M1525.3,809.3 L1582.8,809.3" fill="none" stroke="#fff" stroke-width="2.2" stroke-dasharray="18.00 10.75" stroke-dashoffset="9.00" />
<rect x="1562.70" y="858.60" width="23.90" height="8.20" fill="#fff" stroke="none" stroke-width="0" />
<defs><clipPath id="cpF1"><rect x="1713.80" y="746.90" width="74.00" height="126.80"/></clipPath></defs><g clip-path="url(#cpF1)">
<rect x="1713.80" y="746.90" width="74.00" height="126.80" fill="#0e3a1a" stroke="none" stroke-width="0" />
<g filter="url(#b2_5)" opacity="0.8"><circle cx="1751.1" cy="758.2" r="14.7" fill="#2a6a34" /><circle cx="1725.1" cy="784.3" r="14.7" fill="#2a6a34" /><circle cx="1777.2" cy="784.3" r="14.7" fill="#2a6a34" /><circle cx="1725.1" cy="810.3" r="14.7" fill="#2a6a34" /><circle cx="1751.1" cy="810.3" r="14.7" fill="#2a6a34" /><circle cx="1777.2" cy="810.3" r="14.7" fill="#2a6a34" /><circle cx="1725.1" cy="836.4" r="14.7" fill="#2a6a34" /><circle cx="1777.2" cy="836.4" r="14.7" fill="#2a6a34" /><circle cx="1725.1" cy="862.4" r="14.7" fill="#2a6a34" /><circle cx="1777.2" cy="862.4" r="14.7" fill="#2a6a34" /></g>
<g filter="url(#b0_8)"><circle cx="1751.1" cy="758.2" r="10.7" fill="url(#gFg)" /><circle cx="1725.1" cy="784.3" r="10.7" fill="url(#gFg)" /><circle cx="1777.2" cy="784.3" r="10.7" fill="url(#gFg)" /><circle cx="1725.1" cy="810.3" r="10.7" fill="url(#gFg)" /><circle cx="1751.1" cy="810.3" r="10.7" fill="url(#gFg)" /><circle cx="1777.2" cy="810.3" r="10.7" fill="url(#gFg)" /><circle cx="1725.1" cy="836.4" r="10.7" fill="url(#gFg)" /><circle cx="1777.2" cy="836.4" r="10.7" fill="url(#gFg)" /><circle cx="1725.1" cy="862.4" r="10.7" fill="url(#gFg)" /><circle cx="1777.2" cy="862.4" r="10.7" fill="url(#gFg)" /></g>
</g>
<path d="M1721.7,868.2 L1721.7,785.7" fill="none" stroke="#fff" stroke-width="2.2" stroke-dasharray="18.00 9.50" stroke-dashoffset="9.00" />
<path d="M1721.7,785.7 L1750.6,755.2" fill="none" stroke="#fff" stroke-width="2.2" stroke-dasharray="13.00 8.01" stroke-dashoffset="6.50" />
<path d="M1750.6,755.2 L1779.6,785.7" fill="none" stroke="#fff" stroke-width="2.2" stroke-dasharray="13.00 8.04" stroke-dashoffset="6.50" />
<path d="M1779.6,785.7 L1779.6,868.2" fill="none" stroke="#fff" stroke-width="2.2" stroke-dasharray="18.00 9.50" stroke-dashoffset="9.00" />
<path d="M1721.7,812.8 L1779.6,812.8" fill="none" stroke="#fff" stroke-width="2.2" stroke-dasharray="18.00 10.95" stroke-dashoffset="9.00" />
<rect x="1758.70" y="858.60" width="24.10" height="8.20" fill="#fff" stroke="none" stroke-width="0" />
<defs><clipPath id="cpF2"><rect x="1935.00" y="749.80" width="74.10" height="126.80"/></clipPath></defs><g clip-path="url(#cpF2)">
<rect x="1935.00" y="749.80" width="74.10" height="126.80" fill="#030803" stroke="none" stroke-width="0" />
<g filter="url(#b2_5)" opacity="0.8"><circle cx="1973.1" cy="759.5" r="13.9" fill="#4a1a38" /><circle cx="1945.3" cy="786.4" r="13.9" fill="#4a1a38" /><circle cx="1999.9" cy="786.4" r="13.9" fill="#4a1a38" /><circle cx="1945.3" cy="814.1" r="13.9" fill="#4a1a38" /><circle cx="1973.1" cy="814.1" r="13.9" fill="#4a1a38" /><circle cx="1999.9" cy="814.1" r="13.9" fill="#4a1a38" /><circle cx="1945.3" cy="841.4" r="13.9" fill="#4a1a38" /><circle cx="1999.9" cy="841.4" r="13.9" fill="#4a1a38" /><circle cx="1945.3" cy="868.0" r="13.9" fill="#4a1a38" /><circle cx="1999.9" cy="868.0" r="13.9" fill="#4a1a38" /></g>
<g filter="url(#b0_8)"><circle cx="1973.1" cy="759.5" r="9.9" fill="url(#gFr)" /><circle cx="1945.3" cy="786.4" r="9.9" fill="url(#gFr)" /><circle cx="1999.9" cy="786.4" r="9.9" fill="url(#gFr)" /><circle cx="1945.3" cy="814.1" r="9.9" fill="url(#gFr)" /><circle cx="1973.1" cy="814.1" r="9.9" fill="url(#gFr)" /><circle cx="1999.9" cy="814.1" r="9.9" fill="url(#gFr)" /><circle cx="1945.3" cy="841.4" r="9.9" fill="url(#gFr)" /><circle cx="1999.9" cy="841.4" r="9.9" fill="url(#gFr)" /><circle cx="1945.3" cy="868.0" r="9.9" fill="url(#gFr)" /><circle cx="1999.9" cy="868.0" r="9.9" fill="url(#gFr)" /></g>
</g>
<path d="M1943.2,869.3 L1943.2,786.4" fill="none" stroke="#fff" stroke-width="2.2" stroke-dasharray="18.00 9.63" stroke-dashoffset="9.00" />
<path d="M1943.2,786.4 L1972.1,756.3" fill="none" stroke="#fff" stroke-width="2.2" stroke-dasharray="13.00 7.86" stroke-dashoffset="6.50" />
<path d="M1972.1,756.3 L2000.3,786.4" fill="none" stroke="#fff" stroke-width="2.2" stroke-dasharray="13.00 7.62" stroke-dashoffset="6.50" />
<path d="M2000.3,786.4 L2000.3,869.3" fill="none" stroke="#fff" stroke-width="2.2" stroke-dasharray="18.00 9.63" stroke-dashoffset="9.00" />
<path d="M1943.2,813.4 L2000.3,813.4" fill="none" stroke="#fff" stroke-width="2.2" stroke-dasharray="18.00 10.55" stroke-dashoffset="9.00" />
<rect x="1980.00" y="859.00" width="24.10" height="7.80" fill="#fff" stroke="none" stroke-width="0" />
<text transform="translate(-0.7,29.2) scale(0.965,1)" font-size="40.3" text-anchor="start" fill="#231f20" >(a)</text>
<text transform="translate(724.5,29.2) scale(0.965,1)" font-size="40.3" text-anchor="start" fill="#231f20" >(b)</text>
<text transform="translate(1445.2,29.2) scale(0.965,1)" font-size="40.3" text-anchor="start" fill="#231f20" >(c)</text>
<text transform="translate(-1.6,621.2) scale(0.965,1)" font-size="40.3" text-anchor="start" fill="#231f20" >(d)</text>
<text transform="translate(720.6,632.4) scale(0.965,1)" font-size="40.3" text-anchor="start" fill="#231f20" >(e)</text>
<text transform="translate(1449.0,621.2) scale(0.965,1)" font-size="40.3" text-anchor="start" fill="#231f20" >(f)</text>
<rect x="792.20" y="45.60" width="553.00" height="445.10" fill="none" stroke="#000" stroke-width="2.2" />
<line x1="806.40" y1="490.70" x2="806.40" y2="499.20" stroke="#000" stroke-width="2.2" />
<text transform="translate(808.3,543.6) scale(0.94,1)" font-size="41.5" text-anchor="middle" fill="#231f20" >500</text>
<line x1="981.14" y1="490.70" x2="981.14" y2="499.20" stroke="#000" stroke-width="2.2" />
<text transform="translate(983.0,543.6) scale(0.94,1)" font-size="41.5" text-anchor="middle" fill="#231f20" >520</text>
<line x1="1155.88" y1="490.70" x2="1155.88" y2="499.20" stroke="#000" stroke-width="2.2" />
<text transform="translate(1157.8,543.6) scale(0.94,1)" font-size="41.5" text-anchor="middle" fill="#231f20" >540</text>
<line x1="1330.62" y1="490.70" x2="1330.62" y2="499.20" stroke="#000" stroke-width="2.2" />
<text transform="translate(1332.5,543.6) scale(0.94,1)" font-size="41.5" text-anchor="middle" fill="#231f20" >560</text>
<line x1="893.77" y1="490.70" x2="893.77" y2="495.20" stroke="#000" stroke-width="2.2" />
<line x1="1068.51" y1="490.70" x2="1068.51" y2="495.20" stroke="#000" stroke-width="2.2" />
<line x1="1243.25" y1="490.70" x2="1243.25" y2="495.20" stroke="#000" stroke-width="2.2" />
<text transform="translate(1067.5,587.6) scale(0.94,1)" font-size="41.5" text-anchor="middle" fill="#231f20" >Wavelength/nm</text>
<text transform="translate(761.5,268.0) rotate(-90) scale(0.94,1)" x="0" y="0" font-size="41.5" text-anchor="middle" fill="#231f20">PL intensity/(a.u.)</text>
<line x1="798.80" y1="75.30" x2="838.00" y2="75.30" stroke="#c1272d" stroke-width="2.6" />
<line x1="798.80" y1="106.20" x2="838.00" y2="106.20" stroke="#e8ad45" stroke-width="2.6" />
<line x1="964.20" y1="76.10" x2="1003.50" y2="76.10" stroke="#3dbb8c" stroke-width="2.6" />
<line x1="964.20" y1="106.70" x2="1003.50" y2="106.70" stroke="#4e4798" stroke-width="2.6" />
<text transform="translate(846.2,84.2) scale(0.95,1)" font-size="39.5" text-anchor="start" fill="#231f20" >Disk-1</text>
<text transform="translate(846.2,114.7) scale(0.95,1)" font-size="39.5" text-anchor="start" fill="#231f20" >Disk-2</text>
<text transform="translate(1009.6,84.2) scale(0.95,1)" font-size="39.5" text-anchor="start" fill="#231f20" >Disk-3</text>
<text transform="translate(1009.6,114.7) scale(0.95,1)" font-size="39.5" text-anchor="start" fill="#231f20" >Disk-4</text>
<rect x="64.00" y="626.00" width="581.40" height="468.50" fill="none" stroke="#000" stroke-width="2.2" />
<line x1="160.80" y1="1094.50" x2="160.80" y2="1103.00" stroke="#000" stroke-width="2.2" />
<text transform="translate(162.4,1141.6) scale(0.94,1)" font-size="41.5" text-anchor="middle" fill="#231f20" >400</text>
<line x1="277.13" y1="1094.50" x2="277.13" y2="1103.00" stroke="#000" stroke-width="2.2" />
<text transform="translate(278.7,1141.6) scale(0.94,1)" font-size="41.5" text-anchor="middle" fill="#231f20" >500</text>
<line x1="393.46" y1="1094.50" x2="393.46" y2="1103.00" stroke="#000" stroke-width="2.2" />
<text transform="translate(395.1,1141.6) scale(0.94,1)" font-size="41.5" text-anchor="middle" fill="#231f20" >600</text>
<line x1="509.79" y1="1094.50" x2="509.79" y2="1103.00" stroke="#000" stroke-width="2.2" />
<text transform="translate(511.4,1141.6) scale(0.94,1)" font-size="41.5" text-anchor="middle" fill="#231f20" >700</text>
<line x1="626.12" y1="1094.50" x2="626.12" y2="1103.00" stroke="#000" stroke-width="2.2" />
<text transform="translate(627.7,1141.6) scale(0.94,1)" font-size="41.5" text-anchor="middle" fill="#231f20" >800</text>
<line x1="102.64" y1="1094.50" x2="102.64" y2="1099.00" stroke="#000" stroke-width="2.2" />
<line x1="218.97" y1="1094.50" x2="218.97" y2="1099.00" stroke="#000" stroke-width="2.2" />
<line x1="335.30" y1="1094.50" x2="335.30" y2="1099.00" stroke="#000" stroke-width="2.2" />
<line x1="451.62" y1="1094.50" x2="451.62" y2="1099.00" stroke="#000" stroke-width="2.2" />
<line x1="567.95" y1="1094.50" x2="567.95" y2="1099.00" stroke="#000" stroke-width="2.2" />
<text transform="translate(353.9,1187.2) scale(0.94,1)" font-size="41.5" text-anchor="middle" fill="#231f20" >Wavelength/nm</text>
<text transform="translate(32.6,859.9) rotate(-90) scale(0.94,1)" x="0" y="0" font-size="41.5" text-anchor="middle" fill="#231f20">PL intensity/(a.u.)</text>
<text transform="translate(214.3,670.9) scale(0.94,1)" font-size="41.5" text-anchor="middle" fill="#231f20" >Cl/Br</text>
<text transform="translate(310.2,670.9) scale(0.94,1)" font-size="41.5" text-anchor="middle" fill="#231f20" >Br</text>
<text transform="translate(474.0,670.9) scale(0.94,1)" font-size="41.5" text-anchor="middle" fill="#231f20" >Br/I</text>
<rect x="1506.80" y="625.70" width="581.90" height="469.10" fill="none" stroke="#000" stroke-width="2.2" />
<line x1="1527.50" y1="1094.80" x2="1527.50" y2="1103.30" stroke="#000" stroke-width="2.2" />
<text transform="translate(1527.5,1144.0) scale(0.94,1)" font-size="41.5" text-anchor="middle" fill="#231f20" >450</text>
<line x1="1683.00" y1="1094.80" x2="1683.00" y2="1103.30" stroke="#000" stroke-width="2.2" />
<text transform="translate(1683.0,1144.0) scale(0.94,1)" font-size="41.5" text-anchor="middle" fill="#231f20" >500</text>
<line x1="1912.30" y1="1094.80" x2="1912.30" y2="1103.30" stroke="#000" stroke-width="2.2" />
<text transform="translate(1912.3,1144.0) scale(0.94,1)" font-size="41.5" text-anchor="middle" fill="#231f20" >700</text>
<line x1="2068.30" y1="1094.80" x2="2068.30" y2="1103.30" stroke="#000" stroke-width="2.2" />
<text transform="translate(2068.3,1144.0) scale(0.94,1)" font-size="41.5" text-anchor="middle" fill="#231f20" >750</text>
<line x1="1605.25" y1="1094.80" x2="1605.25" y2="1099.30" stroke="#000" stroke-width="2.2" />
<line x1="1760.75" y1="1094.80" x2="1760.75" y2="1099.30" stroke="#000" stroke-width="2.2" />
<line x1="1990.30" y1="1094.80" x2="1990.30" y2="1099.30" stroke="#000" stroke-width="2.2" />
<rect x="1838.00" y="622.70" width="10.00" height="6.00" fill="#fff" stroke="none" stroke-width="0" />
<line x1="1833.00" y1="634.70" x2="1843.00" y2="616.70" stroke="#000" stroke-width="2.2" />
<line x1="1843.50" y1="634.70" x2="1853.50" y2="616.70" stroke="#000" stroke-width="2.2" />
<rect x="1838.00" y="1091.80" width="10.00" height="6.00" fill="#fff" stroke="none" stroke-width="0" />
<line x1="1833.00" y1="1103.80" x2="1843.00" y2="1085.80" stroke="#000" stroke-width="2.2" />
<line x1="1843.50" y1="1103.80" x2="1853.50" y2="1085.80" stroke="#000" stroke-width="2.2" />
<text transform="translate(1823.0,1187.0) scale(0.94,1)" font-size="41.5" text-anchor="middle" fill="#231f20" >Wavelength/nm</text>
<text transform="translate(1479.0,860.0) rotate(-90) scale(0.94,1)" x="0" y="0" font-size="41.5" text-anchor="middle" fill="#231f20">PL intensity/(a.u.)</text>
<line x1="1565.30" y1="652.40" x2="1622.00" y2="652.40" stroke="#3b6c9f" stroke-width="2.4" />
<line x1="1565.30" y1="687.90" x2="1622.00" y2="687.90" stroke="#2b8fa6" stroke-width="2.4" />
<line x1="1811.50" y1="651.90" x2="1868.10" y2="651.90" stroke="#7cc97c" stroke-width="2.4" />
<line x1="1811.50" y1="687.00" x2="1868.10" y2="687.00" stroke="#c1272d" stroke-width="2.4" />
<text x="1633.5" y="661.2" font-size="30.6" fill="#231f20">CsPbCl<tspan font-size="18" dy="6">2</tspan><tspan dy="-6">Br</tspan></text>
<text x="1633.5" y="696.3" font-size="30.6" fill="#231f20">CsPbClBr<tspan font-size="18" dy="6">2</tspan></text>
<text x="1880" y="660.8" font-size="30.6" fill="#231f20">CsPbBr<tspan font-size="18" dy="6">3</tspan></text>
<text x="1880" y="695.4" font-size="30.6" fill="#231f20">MA<tspan font-size="18" dy="6">0.2</tspan><tspan dy="-6">Cs</tspan><tspan font-size="18" dy="6">0.8</tspan><tspan dy="-6">PbI</tspan><tspan font-size="18" dy="6">3</tspan></text>
<polyline points="833.5,466.1 834.2,465.9 834.8,465.9 835.5,465.8 836.2,465.9 836.8,466.2 837.5,466.2 838.2,465.8 838.9,466.0 839.5,466.1 840.2,466.1 840.9,465.9 841.6,465.8 842.2,466.1 842.9,465.8 843.6,465.7 844.2,465.6 844.9,465.4 845.6,465.4 846.3,465.6 846.9,465.7 847.6,465.7 848.3,465.9 849,465.8 849.6,465.4 850.3,465.4 851,465.7 851.6,465.8 852.3,465.6 853,465.5 853.7,465.5 854.3,465.5 855,465.8 855.7,465.8 856.3,465.6 857,465.8 857.7,465.7 858.4,465.6 859,465.6 859.7,465.7 860.4,465.4 861.1,465.4 861.7,465.8 862.4,465.5 863.1,465.4 863.7,465.7 864.4,465.4 865.1,465.7 865.8,465.9 866.4,465.4 867.1,465.3 867.8,465.5 868.5,465.5 869.1,465.5 869.8,465.5 870.5,465.5 871.1,465.7 871.8,465.4 872.5,465.2 873.2,465.3 873.8,465.2 874.5,465.1 875.2,465.0 875.8,465.1 876.5,465.3 877.2,465.5 877.9,465.1 878.5,464.8 879.2,465.1 879.9,464.9 880.6,464.7 881.2,465.0 881.9,465.2 882.6,465.3 883.2,465.0 883.9,464.9 884.6,464.9 885.3,465.1 885.9,465.1 886.6,464.8 887.3,464.9 888,464.9 888.6,464.8 889.3,464.6 890,464.6 890.6,464.7 891.3,464.8 892,465.0 892.7,464.8 893.3,464.7 894,464.7 894.7,464.7 895.4,464.7 896,464.6 896.7,464.4 897.4,464.3 898,464.2 898.7,463.9 899.4,464.0 900.1,464.2 900.7,464.2 901.4,464.7 902.1,464.5 902.7,464.0 903.4,464.2 904.1,464.3 904.8,464.2 905.4,464.1 906.1,464.2 906.8,464.3 907.5,464.0 908.1,463.8 908.8,464.0 909.5,463.8 910.1,463.8 910.8,463.8 911.5,463.9 912.2,464.0 912.8,463.8 913.5,463.7 914.2,463.6 914.9,463.4 915.5,463.2 916.2,463.5 916.9,463.3 917.5,463.4 918.2,463.4 918.9,463.3 919.6,463.4 920.2,463.4 920.9,463.5 921.6,463.1 922.2,463.3 922.9,463.7 923.6,463.5 924.3,463.2 924.9,463.1 925.6,463.0 926.3,463.1 927,463.1 927.6,462.9 928.3,462.9 929,462.7 929.6,462.6 930.3,462.9 931,463.0 931.7,462.9 932.3,462.9 933,462.6 933.7,462.5 934.4,462.5 935,462.5 935.7,462.5 936.4,462.4 937,462.2 937.7,462.1 938.4,462.5 939.1,462.5 939.7,462.1 940.4,462.2 941.1,462.5 941.8,462.2 942.4,461.9 943.1,462.0 943.8,461.7 944.4,461.9 945.1,462.1 945.8,462.0 946.5,461.8 947.1,461.8 947.8,461.8 948.5,461.7 949.1,461.5 949.8,461.3 950.5,461.7 951.2,461.7 951.8,461.5 952.5,461.6 953.2,461.4 953.9,461.3 954.5,461.4 955.2,461.4 955.9,461.2 956.5,461.2 957.2,461.4 957.9,461.4 958.6,461.3 959.2,461.0 959.9,460.7 960.6,460.9 961.3,461.2 961.9,461.0 962.6,460.9 963.3,461.0 963.9,461.0 964.6,461.0 965.3,460.7 966,460.8 966.6,460.6 967.3,460.5 968,460.7 968.6,460.7 969.3,460.8 970,460.9 970.7,460.4 971.3,459.8 972,460.1 972.7,460.2 973.4,460.0 974,460.2 974.7,459.9 975.4,459.4 976,459.7 976.7,460.0 977.4,459.8 978.1,459.8 978.7,459.7 979.4,459.4 980.1,459.4 980.8,459.5 981.4,459.2 982.1,459.4 982.8,459.6 983.4,459.5 984.1,459.3 984.8,459.1 985.5,459.1 986.1,459.0 986.8,459.2 987.5,459.1 988.2,459.1 988.8,459.2 989.5,459.4 990.2,459.1 990.8,458.9 991.5,459.1 992.2,458.9 992.9,458.7 993.5,458.5 994.2,458.8 994.9,458.9 995.5,458.7 996.2,458.6 996.9,458.8 997.6,458.8 998.2,458.2 998.9,458.1 999.6,458.1 1000.3,457.7 1000.9,457.8 1001.6,458.5 1002.3,458.5 1002.9,458.1 1003.6,457.9 1004.3,458.2 1005,458.4 1005.6,458.2 1006.3,458.1 1007,458.1 1007.7,458.2 1008.3,458.2 1009,458.1 1009.7,457.8 1010.3,457.8 1011,457.8 1011.7,457.9 1012.4,457.8 1013,457.6 1013.7,457.7 1014.4,457.5 1015,457.7 1015.7,458.1 1016.4,457.8 1017.1,457.6 1017.7,457.7 1018.4,457.2 1019.1,457.1 1019.8,457.5 1020.4,457.4 1021.1,457.3 1021.8,457.2 1022.4,457.3 1023.1,457.5 1023.8,457.5 1024.5,457.3 1025.1,457.5 1025.8,457.4 1026.5,457.1 1027.2,456.9 1027.8,457.1 1028.5,457.5 1029.2,457.4 1029.8,457.4 1030.5,457.2 1031.2,457.1 1031.9,457.1 1032.5,457.0 1033.2,457.0 1033.9,457.3 1034.6,457.3 1035.2,457.1 1035.9,456.9 1036.6,456.8 1037.2,457.1 1037.9,457.2 1038.6,457.0 1039.3,456.9 1039.9,456.7 1040.6,456.7 1041.3,457.0 1041.9,456.9 1042.6,456.8 1043.3,456.8 1044,456.8 1044.6,456.6 1045.3,456.6 1046,456.7 1046.7,456.8 1047.3,456.8 1048,456.8 1048.7,457.1 1049.3,457.0 1050,456.7 1050.7,456.7 1051.4,456.8 1052,456.7 1052.7,456.7 1053.4,457.2 1054.1,457.1 1054.7,456.7 1055.4,456.6 1056.1,456.7 1056.7,456.7 1057.4,456.5 1058.1,456.9 1058.8,456.9 1059.4,456.9 1060.1,457.3 1060.8,457.1 1061.4,457.0 1062.1,457.3 1062.8,457.2 1063.5,456.8 1064.1,456.6 1064.8,456.7 1065.5,457.2 1066.2,457.3 1066.8,457.0 1067.5,456.7 1068.2,456.8 1068.8,457.0 1069.5,457.1 1070.2,457.1 1070.9,457.2 1071.5,457.1 1072.2,457.1 1072.9,457.2 1073.6,457.2 1074.2,457.2 1074.9,457.5 1075.6,457.6 1076.2,457.3 1076.9,457.0 1077.6,457.1 1078.3,457.1 1078.9,456.8 1079.6,457.3 1080.3,457.6 1081,457.5 1081.6,457.1 1082.3,457.1 1083,457.3 1083.6,457.5 1084.3,458.0 1085,457.9 1085.7,457.5 1086.3,457.3 1087,457.5 1087.7,457.6 1088.3,457.5 1089,457.6 1089.7,457.6 1090.4,457.8 1091,458.2 1091.7,458.2 1092.4,458.0 1093.1,457.9 1093.7,458.0 1094.4,457.9 1095.1,457.9 1095.7,457.8 1096.4,457.7 1097.1,458.0 1097.8,458.3 1098.4,458.2 1099.1,458.4 1099.8,458.2 1100.5,457.9 1101.1,458.2 1101.8,458.5 1102.5,458.4 1103.1,458.5 1103.8,458.7 1104.5,458.4 1105.2,458.2 1105.8,458.6 1106.5,458.8 1107.2,458.4 1107.8,458.6 1108.5,459.0 1109.2,459.1 1109.9,458.9 1110.5,458.7 1111.2,458.6 1111.9,459.1 1112.6,459.3 1113.2,459.2 1113.9,459.1 1114.6,458.9 1115.2,458.8 1115.9,458.8 1116.6,459.2 1117.3,459.1 1117.9,459.1 1118.5,459.3 1118.6,459.0 1118.9,458.9 1119.3,459.0 1119.4,459.1 1119.8,459.0 1120,458.9 1120.2,459.0 1120.6,458.9 1120.7,458.8 1121.1,458.9 1121.3,459.2 1121.5,459.0 1122,458.8 1122,459.0 1122.4,458.8 1122.6,459.0 1122.9,459.1 1123.3,459.1 1123.3,459.1 1123.7,458.8 1124,458.9 1124.2,458.7 1124.6,458.7 1124.7,458.8 1125,458.6 1125.3,458.5 1125.5,458.2 1125.9,457.7 1126,457.8 1126.3,457.4 1126.7,456.4 1126.8,455.9 1127.2,453.7 1127.4,453.0 1127.7,450.7 1128,446.3 1128.1,445.4 1128.5,438.7 1128.7,435.2 1129,428.6 1129.4,418.1 1129.4,416.9 1129.8,403.7 1130,397.6 1130.3,390.0 1130.7,378.3 1130.7,378.2 1131.2,369.8 1131.4,367.4 1131.6,366.5 1132,369.4 1132.1,370.3 1132.5,378.6 1132.7,385.4 1132.9,390.5 1133.3,404.1 1133.4,406.1 1133.8,417.8 1134.1,426.0 1134.2,429.0 1134.6,438.6 1134.7,440.4 1135.1,446.1 1135.4,450.5 1135.5,451.2 1136,454.2 1136.1,455.1 1136.4,456.8 1136.8,457.6 1136.8,457.6 1137.3,458.6 1137.4,458.9 1137.7,459.1 1138.1,459.2 1138.1,459.2 1138.6,459.3 1138.8,459.8 1139,460.1 1139.5,460.0 1139.5,459.8 1139.9,459.7 1140.1,459.8 1140.3,460.1 1140.8,460.3 1140.8,460.2 1141.2,460.2 1141.5,460.2 1141.6,460.4 1142.1,460.7 1142.1,461.0 1142.5,460.8 1142.8,460.5 1142.9,460.5 1143.4,460.6 1143.5,460.5 1143.8,460.6 1144.2,460.6 1144.3,460.7 1144.7,460.9 1144.8,460.9 1145.5,461.0 1146.2,460.9 1146.9,460.8 1147.5,461.0 1148.2,461.1 1148.9,461.2 1149.5,461.4 1150.2,461.2 1150.9,461.3 1151.6,461.3 1152.2,461.3 1152.9,461.5 1153.6,461.3 1154.2,461.4 1154.9,461.8 1155.6,461.8 1156.3,461.8 1156.9,461.8 1157.6,461.7 1158.3,461.8 1159,461.9 1159.6,462.0 1160.3,462.0 1161,462.0 1161.6,462.3 1162.3,462.3 1163,462.2 1163.7,462.4 1164.3,462.2 1165,462.3 1165.7,462.6 1166.4,462.6 1167,462.7 1167.7,462.6 1168.4,462.5 1169,462.7 1169.7,462.9 1170.4,462.9 1171.1,462.6 1171.7,462.7 1172.4,463.1 1173.1,463.2 1173.8,463.1 1174.4,462.8 1175.1,462.9 1175.8,463.2 1176.4,462.7 1177.1,462.8 1177.8,463.0 1178.5,462.8 1179.1,463.0 1179.8,463.4 1180.5,463.5 1181.1,463.4 1181.8,463.7 1182.5,463.9 1183.2,463.7 1183.8,463.5 1184.5,463.3 1185.2,463.3 1185.9,463.6 1186.5,463.8 1187.2,463.8 1187.9,463.9 1188.5,463.8 1189.2,463.7 1189.9,463.9 1190.6,464.0 1191.2,464.1 1191.9,464.1 1192.6,464.0 1193.3,464.0 1193.9,463.9 1194.6,463.6 1195.3,463.9 1195.9,464.2 1196.6,464.2 1197.3,463.9 1198,463.9 1198.6,464.1 1199.3,464.0 1200,463.8 1200.6,463.9 1201.3,464.4 1202,464.5 1202.7,464.4 1203.3,464.3 1204,464.6 1204.7,464.2 1205.4,464.1 1206,464.6 1206.7,464.7 1207.4,464.9 1208,465.0 1208.7,464.8 1209.4,464.7 1210.1,464.8 1210.7,464.7 1211.4,464.6 1212.1,464.9 1212.8,465.2 1213.4,465.1 1214.1,464.8 1214.8,464.9 1215.4,465.1 1216.1,465.1 1216.8,465.1 1217.5,465.0 1218.1,464.8 1218.8,464.9 1219.5,465.1 1220.2,465.3 1220.8,465.0 1221.5,464.7 1222.2,465.0 1222.8,465.1 1223.5,464.8 1224.2,465.1 1224.9,465.4 1225.5,465.3 1226.2,465.2 1226.9,465.3 1227.5,465.4 1228.2,465.4 1228.9,465.3 1229.6,465.0 1230.2,465.2 1230.9,465.3 1231.6,465.4 1232.3,465.5 1232.9,465.3 1233.6,465.3 1234.3,465.4 1234.9,465.5 1235.6,465.5 1236.3,465.3 1237,465.6 1237.6,466.0 1238.3,466.2 1239,465.9 1239.7,465.6 1240.3,465.8 1241,465.8 1241.7,465.4 1242.3,465.5 1243,465.7 1243.7,465.6 1244.4,465.3 1245,465.2 1245.7,465.6 1246.4,465.7 1247,465.6 1247.7,465.7 1248.4,465.9 1249.1,465.8 1249.7,465.8 1250.4,465.7 1251.1,465.6 1251.8,465.6 1252.4,465.8 1253.1,466.0 1253.8,465.7 1254.4,465.7 1255.1,465.8 1255.8,466.0 1256.5,465.8 1257.1,465.5 1257.8,465.7 1258.5,466.3 1259.2,466.5 1259.8,466.1 1260.5,466.1 1261.2,466.4 1261.8,466.3 1262.5,465.9 1263.2,466.1 1263.9,466.3 1264.5,466.2 1265.2,466.1 1265.9,466.3 1266.5,466.6 1267.2,466.4 1267.9,466.3 1268.6,465.9 1269.2,465.9 1269.9,466.2 1270.6,466.1 1271.3,466.3 1271.9,466.2 1272.6,465.8 1273.3,465.9 1273.9,466.1 1274.6,466.0 1275.3,466.0 1276,466.0 1276.6,465.8 1277.3,466.0 1278,466.4 1278.7,466.4 1279.3,466.7 1280,466.5 1280.7,465.9 1281.3,465.8 1282,465.9 1282.7,466.0 1283.4,466.2 1284,466.0 1284.7,466.0 1285.4,466.1 1286.1,466.1 1286.7,466.3 1287.4,466.2 1288.1,466.2 1288.7,466.2 1289.4,466.1 1290.1,466.0 1290.8,466.1 1291.4,466.6 1292.1,466.9 1292.8,466.8 1293.4,466.6 1294.1,466.3 1294.8,466.5 1295.5,466.6 1296.1,466.3 1296.8,466.3 1297.5,466.3 1298.2,466.3 1298.8,466.3 1299.5,466.2 1300.2,466.2 1300.8,466.7 1301.5,466.7 1302.2,466.3 1302.9,466.4 1303.5,466.6" fill="none" stroke="#c1272d" stroke-width="2.1" stroke-linejoin="round" stroke-linecap="round" />
<polyline points="833.5,365.9 834.2,366.1 834.8,366.0 835.5,365.8 836.2,365.8 836.8,366.0 837.5,365.8 838.2,365.5 838.9,365.7 839.5,365.8 840.2,366.0 840.9,366.0 841.6,365.8 842.2,365.7 842.9,365.8 843.6,365.6 844.2,365.7 844.9,365.7 845.6,365.3 846.3,365.4 846.9,365.5 847.6,365.4 848.3,365.6 849,365.8 849.6,365.9 850.3,365.8 851,365.4 851.6,365.3 852.3,365.4 853,365.3 853.7,365.5 854.3,365.6 855,365.2 855.7,365.4 856.3,365.6 857,365.6 857.7,365.6 858.4,365.6 859,365.6 859.7,365.6 860.4,365.7 861.1,365.6 861.7,365.5 862.4,365.3 863.1,365.2 863.7,365.3 864.4,365.4 865.1,365.2 865.8,365.4 866.4,365.6 867.1,365.2 867.8,365.0 868.5,365.1 869.1,365.2 869.8,365.2 870.5,365.2 871.1,365.2 871.8,365.2 872.5,365.2 873.2,365.1 873.8,365.3 874.5,365.6 875.2,365.3 875.8,364.9 876.5,364.9 877.2,365.1 877.9,365.0 878.5,364.9 879.2,365.0 879.9,364.9 880.6,364.8 881.2,364.8 881.9,364.6 882.6,364.5 883.2,364.7 883.9,364.9 884.6,364.9 885.3,364.6 885.9,364.6 886.6,364.9 887.3,365.0 888,364.9 888.6,364.7 889.3,364.7 890,364.7 890.6,364.5 891.3,364.4 892,364.8 892.7,364.9 893.3,364.8 894,364.7 894.7,364.6 895.4,364.6 896,364.4 896.7,364.8 897.4,364.9 898,364.5 898.7,364.4 899.4,364.5 900.1,364.6 900.7,364.5 901.4,364.1 902.1,364.1 902.7,364.3 903.4,364.3 904.1,364.4 904.8,364.4 905.4,364.4 906.1,364.2 906.8,364.1 907.5,364.5 908.1,364.5 908.8,364.2 909.5,364.1 910.1,364.3 910.8,364.1 911.5,363.8 912.2,364.0 912.8,364.1 913.5,363.9 914.2,363.9 914.9,363.8 915.5,363.8 916.2,363.8 916.9,363.6 917.5,363.6 918.2,363.8 918.9,363.7 919.6,363.5 920.2,363.7 920.9,363.5 921.6,363.4 922.2,363.4 922.9,363.5 923.6,363.9 924.3,364.0 924.9,363.6 925.6,363.4 926.3,363.5 927,363.3 927.6,363.5 928.3,363.3 929,363.2 929.6,363.3 930.3,363.3 931,363.3 931.7,363.0 932.3,363.0 933,363.2 933.7,363.1 934.4,363.0 935,362.9 935.7,362.6 936.4,362.7 937,363.0 937.7,362.9 938.4,362.8 939.1,362.9 939.7,362.8 940.4,362.5 941.1,362.5 941.8,362.7 942.4,362.5 943.1,362.5 943.8,362.6 944.4,362.2 945.1,362.4 945.8,362.5 946.5,362.2 947.1,362.1 947.8,362.4 948.5,362.5 949.1,362.3 949.8,362.2 950.5,362.3 951.2,362.1 951.8,362.0 952.5,362.1 953.2,361.9 953.9,361.8 954.5,361.9 955.2,361.9 955.9,361.8 956.5,361.7 957.2,361.9 957.9,361.9 958.6,361.9 959.2,362.0 959.9,361.9 960.6,362.0 961.3,361.8 961.9,361.5 962.6,361.6 963.3,361.7 963.9,361.9 964.6,361.4 965.3,361.0 966,361.3 966.6,361.5 967.3,361.4 968,361.3 968.6,361.2 969.3,361.3 970,361.2 970.7,361.2 971.3,360.9 972,360.8 972.7,360.9 973.4,360.9 974,361.0 974.7,360.7 975.4,360.8 976,360.7 976.7,360.5 977.4,360.4 978.1,360.5 978.7,360.7 979.4,360.8 980.1,360.7 980.8,360.7 981.4,360.6 982.1,360.5 982.8,360.5 983.4,360.6 984.1,360.5 984.8,360.3 985.5,360.3 986.1,360.3 986.8,360.1 987.5,360.2 988.2,360.3 988.8,360.2 989.5,360.1 990.2,360.0 990.8,360.1 991.5,360.0 992.2,360.2 992.9,360.2 993.5,360.2 994.2,360.2 994.9,359.9 995.5,359.7 996.2,359.8 996.9,359.8 997.6,359.7 998.2,359.7 998.9,359.4 999.6,359.4 1000.3,359.3 1000.9,359.4 1001.6,359.5 1002.3,359.3 1002.9,359.4 1003.6,359.5 1004.3,359.3 1005,359.0 1005.6,359.0 1006.3,359.0 1007,359.0 1007.7,359.4 1008.3,359.4 1009,359.2 1009.7,359.1 1010.3,359.1 1011,359.2 1011.7,359.1 1012.4,359.2 1013,359.4 1013.7,359.3 1014.4,359.1 1015,358.9 1015.7,359.0 1016.4,359.0 1017.1,359.1 1017.7,359.1 1018.4,359.2 1019.1,358.9 1019.8,358.6 1020.4,359.0 1021.1,358.9 1021.8,358.7 1022.4,358.7 1023.1,358.6 1023.8,358.6 1024.5,359.1 1025.1,359.2 1025.8,358.8 1026.5,358.5 1027.2,358.6 1027.8,358.8 1028.5,358.7 1029.2,358.5 1029.8,358.7 1030.5,358.9 1031.2,358.7 1031.9,358.4 1032.5,358.3 1033.2,358.3 1033.9,358.2 1034.6,358.4 1035.2,358.6 1035.9,358.6 1036.6,358.9 1037.2,358.9 1037.9,358.6 1038.6,358.5 1039.3,358.8 1039.9,358.6 1040.6,358.3 1041.3,358.4 1041.9,358.3 1042.6,358.5 1043.3,358.4 1044,358.1 1044.6,358.3 1045.3,358.4 1046,358.5 1046.7,358.6 1047.3,358.5 1048,358.6 1048.7,358.4 1049.3,358.2 1050,358.4 1050.7,358.4 1051.4,358.6 1052,358.4 1052.7,358.3 1053.4,358.6 1054.1,358.7 1054.7,358.5 1055.4,358.7 1056.1,359.1 1056.7,358.7 1057.4,358.4 1058.1,358.9 1058.8,359.0 1059.4,358.7 1060.1,358.6 1060.8,358.5 1061.4,358.5 1062.1,358.5 1062.8,358.7 1063.5,358.7 1064.1,358.6 1064.8,358.5 1065.5,358.5 1066.2,358.6 1066.8,358.6 1067.5,358.9 1068.2,358.9 1068.8,358.9 1069.5,358.9 1070.2,358.9 1070.9,358.8 1071.5,358.8 1072.2,358.9 1072.9,358.8 1073.6,358.9 1074.2,359.1 1074.9,358.8 1075.6,358.8 1076.2,358.8 1076.9,358.9 1077.6,358.9 1078.3,359.1 1078.9,359.1 1079.6,358.7 1080.3,358.7 1081,358.8 1081.6,358.9 1082.3,359.3 1083,359.4 1083.6,359.1 1084.3,359.0 1085,359.4 1085.7,359.6 1086.3,359.4 1087,359.5 1087.7,359.8 1088.3,359.9 1089,359.6 1089.7,359.5 1090.4,359.6 1091,359.5 1091.7,359.3 1092.4,359.4 1093.1,359.5 1093.7,359.5 1094.4,359.7 1095.1,360.0 1095.7,359.9 1096.4,359.6 1097.1,359.7 1097.8,359.8 1098.4,360.0 1099.1,359.9 1099.8,359.7 1100.5,359.6 1101.1,359.6 1101.8,359.9 1102.5,360.1 1103.1,359.9 1103.8,359.9 1104.5,360.1 1105.2,360.2 1105.8,360.2 1106.5,360.1 1107.2,360.0 1107.8,359.9 1108.5,360.3 1109.2,360.3 1109.9,360.0 1110.5,360.4 1111.2,360.4 1111.9,360.3 1112.6,360.4 1113.2,360.5 1113.9,360.5 1114.6,360.3 1115.2,360.3 1115.9,360.5 1116.6,360.5 1117.3,360.6 1117.9,360.8 1118.6,360.9 1119.3,360.8 1120,360.8 1120.6,361.1 1121.3,361.1 1122,361.1 1122.2,361.0 1122.6,360.8 1122.6,360.9 1123,360.8 1123.3,360.7 1123.5,360.8 1123.9,360.7 1124,360.6 1124.3,360.5 1124.7,360.7 1124.8,361.0 1125.2,361.1 1125.3,361.0 1125.6,360.8 1126,360.7 1126.1,360.8 1126.5,360.8 1126.7,360.8 1127,361.1 1127.4,361.0 1127.4,360.5 1127.8,360.4 1128,360.4 1128.3,360.3 1128.7,360.6 1128.7,360.8 1129.1,360.3 1129.4,360.3 1129.6,360.6 1130,360.2 1130,360.0 1130.5,359.7 1130.7,359.5 1130.9,359.3 1131.3,358.1 1131.4,358.0 1131.8,355.8 1132.1,353.1 1132.2,351.3 1132.6,343.6 1132.7,341.6 1133.1,332.8 1133.4,322.2 1133.5,318.3 1134,301.3 1134.1,296.1 1134.4,284.6 1134.7,273.9 1134.8,272.1 1135.3,267.3 1135.4,268.1 1135.7,272.2 1136.1,282.9 1136.1,284.2 1136.6,301.2 1136.8,308.9 1137,318.3 1137.4,333.0 1137.4,333.1 1137.9,343.8 1138.1,348.4 1138.3,351.6 1138.8,355.6 1138.8,355.9 1139.2,358.4 1139.5,359.2 1139.6,359.6 1140.1,360.3 1140.1,360.2 1140.5,360.6 1140.8,361.0 1140.9,361.0 1141.4,361.1 1141.5,361.2 1141.8,361.6 1142.1,361.6 1142.3,361.5 1142.7,361.6 1142.8,361.5 1143.1,361.6 1143.5,361.8 1143.6,361.9 1144,361.9 1144.2,361.7 1144.4,361.7 1144.8,361.8 1144.9,362.0 1145.3,362.2 1145.5,362.2 1145.7,362.1 1146.2,362.3 1146.2,362.2 1146.6,361.9 1146.9,361.7 1147.1,361.8 1147.5,362.2 1147.5,362.2 1147.9,362.2 1148.2,362.4 1148.4,362.5 1148.9,362.6 1149.5,362.4 1150.2,362.3 1150.9,362.4 1151.6,362.5 1152.2,362.5 1152.9,362.5 1153.6,362.8 1154.2,362.6 1154.9,362.5 1155.6,362.6 1156.3,362.7 1156.9,362.9 1157.6,362.9 1158.3,363.0 1159,362.8 1159.6,362.9 1160.3,363.0 1161,363.0 1161.6,363.1 1162.3,362.8 1163,362.7 1163.7,363.1 1164.3,363.4 1165,363.4 1165.7,363.3 1166.4,363.1 1167,363.3 1167.7,363.7 1168.4,363.6 1169,363.4 1169.7,363.2 1170.4,363.4 1171.1,363.9 1171.7,364.0 1172.4,363.8 1173.1,363.8 1173.8,363.6 1174.4,363.7 1175.1,363.7 1175.8,363.5 1176.4,363.7 1177.1,363.9 1177.8,364.0 1178.5,363.9 1179.1,363.8 1179.8,363.6 1180.5,363.8 1181.1,363.9 1181.8,363.7 1182.5,363.7 1183.2,363.8 1183.8,363.7 1184.5,363.7 1185.2,363.7 1185.9,363.9 1186.5,364.2 1187.2,364.5 1187.9,364.3 1188.5,364.0 1189.2,364.3 1189.9,364.4 1190.6,364.2 1191.2,364.5 1191.9,364.5 1192.6,364.2 1193.3,364.1 1193.9,364.3 1194.6,364.5 1195.3,364.3 1195.9,364.2 1196.6,364.5 1197.3,364.7 1198,364.5 1198.6,364.6 1199.3,364.7 1200,364.5 1200.6,364.4 1201.3,364.7 1202,364.7 1202.7,364.4 1203.3,364.4 1204,364.8 1204.7,365.1 1205.4,364.7 1206,364.9 1206.7,365.0 1207.4,364.8 1208,365.1 1208.7,365.2 1209.4,365.0 1210.1,364.8 1210.7,364.9 1211.4,365.0 1212.1,364.6 1212.8,365.0 1213.4,365.5 1214.1,365.4 1214.8,365.2 1215.4,365.1 1216.1,365.5 1216.8,365.5 1217.5,365.3 1218.1,365.0 1218.8,365.0 1219.5,364.9 1220.2,364.7 1220.8,365.0 1221.5,365.1 1222.2,365.1 1222.8,365.2 1223.5,365.5 1224.2,365.7 1224.9,365.5 1225.5,365.5 1226.2,365.4 1226.9,365.2 1227.5,365.4 1228.2,365.3 1228.9,365.2 1229.6,365.2 1230.2,365.3 1230.9,365.6 1231.6,365.5 1232.3,365.4 1232.9,365.4 1233.6,365.2 1234.3,365.2 1234.9,365.5 1235.6,366.0 1236.3,365.9 1237,365.5 1237.6,365.6 1238.3,365.6 1239,365.6 1239.7,365.7 1240.3,365.7 1241,365.7 1241.7,365.6 1242.3,365.5 1243,365.4 1243.7,365.4 1244.4,365.4 1245,365.5 1245.7,365.5 1246.4,365.6 1247,365.8 1247.7,365.6 1248.4,365.4 1249.1,365.5 1249.7,365.7 1250.4,366.1 1251.1,366.1 1251.8,365.8 1252.4,365.9 1253.1,365.8 1253.8,365.8 1254.4,365.9 1255.1,365.4 1255.8,365.8 1256.5,366.4 1257.1,365.9 1257.8,365.7 1258.5,365.9 1259.2,365.9 1259.8,365.7 1260.5,365.6 1261.2,365.9 1261.8,366.0 1262.5,366.1 1263.2,366.1 1263.9,366.2 1264.5,366.1 1265.2,365.9 1265.9,365.7 1266.5,365.5 1267.2,366.0 1267.9,366.0 1268.6,365.9 1269.2,366.0 1269.9,365.8 1270.6,365.8 1271.3,365.9 1271.9,365.9 1272.6,366.0 1273.3,366.2 1273.9,366.0 1274.6,365.8 1275.3,365.9 1276,366.1 1276.6,366.2 1277.3,366.5 1278,366.5 1278.7,366.2 1279.3,366.0 1280,365.9 1280.7,365.8 1281.3,365.8 1282,365.9 1282.7,366.0 1283.4,366.1 1284,366.1 1284.7,366.0 1285.4,365.9 1286.1,366.2 1286.7,366.4 1287.4,366.4 1288.1,366.4 1288.7,366.4 1289.4,366.3 1290.1,366.2 1290.8,366.6 1291.4,366.3 1292.1,366.1 1292.8,366.5 1293.4,366.4 1294.1,366.3 1294.8,366.4 1295.5,366.2 1296.1,366.1 1296.8,366.1 1297.5,366.0 1298.2,366.0 1298.8,366.1 1299.5,366.2 1300.2,366.3 1300.8,366.1 1301.5,366.3 1302.2,366.6 1302.9,366.4 1303.5,366.2" fill="none" stroke="#e8ad4a" stroke-width="2.1" stroke-linejoin="round" stroke-linecap="round" />
<polyline points="833.5,265.0 834.2,265.6 834.8,265.3 835.5,265.0 836.2,265.3 836.8,265.1 837.5,265.2 838.2,265.1 838.9,264.9 839.5,265.2 840.2,265.2 840.9,264.9 841.6,264.9 842.2,264.9 842.9,265.1 843.6,265.0 844.2,264.9 844.9,264.8 845.6,264.8 846.3,264.9 846.9,264.5 847.6,264.4 848.3,264.6 849,264.5 849.6,264.8 850.3,264.7 851,264.4 851.6,264.7 852.3,264.8 853,264.8 853.7,264.8 854.3,264.5 855,264.4 855.7,264.6 856.3,264.7 857,264.6 857.7,264.4 858.4,264.4 859,264.3 859.7,264.5 860.4,264.5 861.1,264.1 861.7,264.0 862.4,264.2 863.1,264.3 863.7,264.2 864.4,264.0 865.1,264.0 865.8,263.8 866.4,263.6 867.1,263.9 867.8,264.0 868.5,263.9 869.1,264.1 869.8,264.1 870.5,263.9 871.1,264.0 871.8,264.1 872.5,263.7 873.2,263.7 873.8,263.8 874.5,263.5 875.2,263.4 875.8,263.5 876.5,263.2 877.2,263.1 877.9,263.3 878.5,263.2 879.2,263.0 879.9,263.0 880.6,263.2 881.2,263.2 881.9,263.0 882.6,263.0 883.2,263.0 883.9,262.8 884.6,263.1 885.3,263.0 885.9,262.7 886.6,262.9 887.3,262.8 888,262.6 888.6,262.6 889.3,262.8 890,262.4 890.6,262.1 891.3,262.2 892,262.1 892.7,262.1 893.3,262.1 894,262.2 894.7,262.1 895.4,262.0 896,262.1 896.7,262.0 897.4,261.9 898,262.1 898.7,262.1 899.4,261.7 900.1,261.6 900.7,261.5 901.4,261.5 902.1,261.7 902.7,261.5 903.4,261.3 904.1,261.5 904.8,261.3 905.4,261.2 906.1,261.0 906.8,260.8 907.5,260.8 908.1,261.1 908.8,261.1 909.5,260.7 910.1,260.6 910.8,260.6 911.5,260.7 912.2,260.6 912.8,260.7 913.5,260.7 914.2,260.5 914.9,260.5 915.5,260.3 916.2,260.0 916.9,259.8 917.5,259.9 918.2,259.8 918.9,259.5 919.6,259.5 920.2,259.7 920.9,259.4 921.6,259.4 922.2,259.3 922.9,259.3 923.6,259.1 924.3,258.9 924.9,259.0 925.6,259.0 926.3,258.9 927,258.7 927.6,258.6 928.3,258.5 929,258.7 929.6,258.5 930.3,258.4 931,258.6 931.7,258.3 932.3,258.2 933,258.0 933.7,257.6 934.4,257.5 935,257.6 935.7,257.6 936.4,257.5 937,257.4 937.7,257.2 938.4,257.1 939.1,257.1 939.7,256.9 940.4,256.9 941.1,256.7 941.8,256.5 942.4,256.5 943.1,256.5 943.8,256.6 944.4,256.6 945.1,256.3 945.8,256.1 946.5,256.0 947.1,256.0 947.8,255.8 948.5,255.8 949.1,255.9 949.8,255.5 950.5,255.5 951.2,255.7 951.8,255.6 952.5,255.5 953.2,255.3 953.9,255.3 954.5,255.3 955.2,255.0 955.9,255.0 956.5,254.9 957.2,254.6 957.9,254.4 958.6,254.2 959.2,254.3 959.9,254.1 960.6,254.0 961.3,254.1 961.9,254.0 962.6,253.5 963.3,253.4 963.9,253.6 964.6,253.5 965.3,253.3 966,253.0 966.6,253.0 967.3,253.1 968,253.0 968.6,252.7 969.3,252.6 970,252.7 970.7,252.6 971.3,252.4 972,252.2 972.7,252.5 973.4,252.3 974,251.9 974.7,251.8 975.4,251.7 976,251.8 976.7,252.0 977.4,251.7 978.1,251.1 978.7,251.3 979.4,251.5 980.1,251.4 980.8,251.3 981.4,251.0 982.1,250.7 982.8,250.6 983.4,250.3 984.1,250.5 984.8,250.5 985.5,250.6 986.1,250.6 986.8,250.1 987.5,250.1 988.2,250.3 988.8,250.2 989.5,249.7 990.2,249.6 990.8,249.9 991.5,249.7 992.2,249.3 992.9,249.4 993.5,249.4 994.2,249.1 994.9,248.9 995.5,248.9 996.2,248.9 996.9,248.9 997.6,248.9 998.2,248.9 998.9,248.5 999.6,248.4 1000.3,248.6 1000.9,248.6 1001.6,248.5 1002.3,248.3 1002.9,248.0 1003.6,248.1 1004.3,248.0 1005,247.5 1005.6,247.7 1006.3,247.8 1007,247.6 1007.7,247.4 1008.3,247.2 1009,247.2 1009.7,247.3 1010.3,247.4 1011,247.1 1011.7,247.1 1012.4,247.2 1013,246.9 1013.7,247.0 1014.4,247.1 1015,246.8 1015.7,247.0 1016.4,247.0 1017.1,246.7 1017.7,246.8 1018.4,246.9 1019.1,246.8 1019.8,246.7 1020.4,246.6 1021.1,246.6 1021.8,246.5 1022.4,246.3 1023.1,246.6 1023.8,246.6 1024.5,246.4 1025.1,246.6 1025.8,246.6 1026.5,246.2 1027.2,246.2 1027.8,246.1 1028.5,246.1 1029.2,246.4 1029.8,246.2 1030.5,245.9 1031.2,246.0 1031.9,246.1 1032.5,245.9 1033.2,245.9 1033.9,245.8 1034.6,245.7 1035.2,245.8 1035.9,245.9 1036.6,245.9 1037.2,245.8 1037.9,245.8 1038.6,246.0 1039.3,245.8 1039.9,245.6 1040.6,245.6 1041.3,245.8 1041.9,245.8 1042.6,245.8 1043.3,246.1 1044,246.2 1044.6,246.3 1045.3,246.1 1046,245.8 1046.7,246.0 1047.3,246.1 1048,246.2 1048.7,246.2 1049.3,246.2 1050,246.3 1050.7,246.3 1051.4,246.2 1052,246.2 1052.7,246.2 1053.4,246.2 1054.1,246.4 1054.7,246.3 1055.4,246.4 1056.1,246.5 1056.7,246.4 1057.4,246.5 1058.1,246.4 1058.8,246.7 1059.4,246.7 1060.1,246.3 1060.8,246.3 1061.4,246.5 1062.1,246.9 1062.8,247.0 1063.5,246.9 1064.1,246.8 1064.8,246.8 1065.5,247.1 1066.2,247.3 1066.8,247.2 1067.5,247.1 1068.2,247.3 1068.8,247.1 1069.5,247.1 1070.2,247.3 1070.9,247.1 1071.5,247.2 1072.2,247.7 1072.9,247.6 1073.6,247.4 1074.2,247.7 1074.9,248.0 1075.6,248.0 1076.2,248.2 1076.9,248.1 1077.6,248.1 1078.3,248.2 1078.9,248.2 1079.6,248.3 1080.3,248.4 1081,248.6 1081.6,248.7 1082.3,248.6 1083,248.6 1083.6,248.8 1084.3,248.8 1085,248.8 1085.7,249.0 1086.3,249.0 1087,249.1 1087.7,249.2 1088.3,249.5 1089,249.9 1089.7,249.8 1090.4,249.7 1091,250.0 1091.7,250.1 1092.4,249.9 1093.1,250.0 1093.7,250.2 1094.4,250.4 1095.1,250.5 1095.7,250.6 1096.4,250.6 1097.1,250.5 1097.8,250.6 1098.4,250.9 1099.1,251.0 1099.8,250.9 1100.5,251.1 1101.1,251.4 1101.8,251.2 1102.5,251.1 1103.1,251.2 1103.8,251.4 1104.5,251.6 1105.2,251.7 1105.8,251.7 1106.5,251.8 1107.2,251.9 1107.8,252.1 1108.5,252.5 1109.2,252.2 1109.9,252.1 1110.5,252.4 1111.2,252.6 1111.9,252.6 1112.6,252.6 1113.2,252.7 1113.9,252.9 1114.6,253.2 1115.2,253.1 1115.9,253.3 1116.6,253.3 1117.3,253.2 1117.9,253.4 1118.5,253.7 1118.6,253.6 1118.9,253.7 1119.3,253.9 1119.4,253.7 1119.8,253.5 1120,253.8 1120.2,254.1 1120.6,253.9 1120.7,253.6 1121.1,253.6 1121.3,253.7 1121.5,253.6 1122,253.7 1122,253.8 1122.4,253.6 1122.6,253.9 1122.9,254.0 1123.3,253.9 1123.3,254.1 1123.7,254.2 1124,254.1 1124.2,254.0 1124.6,253.9 1124.7,254.1 1125,254.3 1125.3,253.9 1125.5,253.8 1125.9,253.9 1126,254.0 1126.3,254.0 1126.7,253.9 1126.8,253.5 1127.2,252.8 1127.4,252.4 1127.7,251.6 1128,250.0 1128.1,249.8 1128.5,245.8 1128.7,243.0 1129,238.2 1129.4,229.3 1129.4,228.2 1129.8,214.4 1130,207.5 1130.3,198.8 1130.7,183.4 1130.7,183.0 1131.2,171.4 1131.4,168.0 1131.6,166.9 1132,171.3 1132.1,171.9 1132.5,183.4 1132.7,192.7 1132.9,199.0 1133.3,215.3 1133.4,217.4 1133.8,229.0 1134.1,236.4 1134.2,239.4 1134.6,246.6 1134.7,247.6 1135.1,250.3 1135.4,252.1 1135.5,252.9 1136,254.5 1136.1,254.6 1136.4,255.0 1136.8,255.3 1136.8,255.1 1137.3,255.5 1137.4,255.6 1137.7,255.6 1138.1,255.8 1138.1,256.2 1138.6,256.1 1138.8,255.8 1139,256.1 1139.5,256.3 1139.5,255.9 1139.9,256.2 1140.1,256.6 1140.3,256.5 1140.8,256.8 1140.8,256.9 1141.2,256.7 1141.5,256.7 1141.6,256.7 1142.1,256.7 1142.1,256.9 1142.5,257.0 1142.8,256.9 1142.9,257.2 1143.4,257.5 1143.5,257.4 1143.8,257.4 1144.2,257.4 1144.3,257.5 1144.7,257.6 1144.8,257.6 1145.5,257.6 1146.2,257.5 1146.9,257.5 1147.5,257.6 1148.2,257.9 1148.9,258.3 1149.5,258.2 1150.2,258.1 1150.9,258.3 1151.6,258.3 1152.2,258.3 1152.9,258.4 1153.6,258.5 1154.2,258.6 1154.9,258.9 1155.6,258.9 1156.3,258.8 1156.9,258.8 1157.6,259.3 1158.3,259.3 1159,259.4 1159.6,259.7 1160.3,259.5 1161,259.4 1161.6,259.7 1162.3,260.1 1163,259.9 1163.7,259.8 1164.3,260.1 1165,260.2 1165.7,260.4 1166.4,260.4 1167,260.3 1167.7,260.3 1168.4,260.5 1169,260.7 1169.7,260.2 1170.4,260.4 1171.1,260.7 1171.7,261.0 1172.4,261.1 1173.1,260.9 1173.8,261.1 1174.4,261.3 1175.1,261.3 1175.8,261.3 1176.4,261.5 1177.1,261.4 1177.8,261.4 1178.5,261.5 1179.1,261.4 1179.8,261.6 1180.5,261.6 1181.1,261.7 1181.8,262.0 1182.5,261.9 1183.2,261.8 1183.8,261.8 1184.5,262.0 1185.2,262.2 1185.9,262.2 1186.5,262.3 1187.2,262.3 1187.9,262.2 1188.5,262.2 1189.2,262.3 1189.9,262.6 1190.6,262.5 1191.2,262.6 1191.9,262.8 1192.6,262.4 1193.3,262.3 1193.9,262.6 1194.6,262.7 1195.3,263.3 1195.9,263.1 1196.6,262.9 1197.3,263.0 1198,263.0 1198.6,263.2 1199.3,263.4 1200,263.2 1200.6,263.3 1201.3,263.3 1202,263.2 1202.7,263.5 1203.3,263.6 1204,263.4 1204.7,263.3 1205.4,263.4 1206,263.5 1206.7,263.7 1207.4,263.6 1208,263.5 1208.7,263.8 1209.4,263.9 1210.1,263.9 1210.7,264.0 1211.4,264.1 1212.1,264.0 1212.8,264.1 1213.4,264.2 1214.1,264.0 1214.8,263.9 1215.4,264.2 1216.1,264.0 1216.8,263.9 1217.5,263.8 1218.1,263.9 1218.8,264.1 1219.5,264.2 1220.2,264.1 1220.8,264.3 1221.5,264.5 1222.2,264.3 1222.8,264.3 1223.5,264.2 1224.2,264.2 1224.9,264.2 1225.5,264.4 1226.2,264.5 1226.9,264.3 1227.5,264.4 1228.2,264.4 1228.9,264.5 1229.6,264.9 1230.2,265.0 1230.9,264.7 1231.6,264.5 1232.3,264.3 1232.9,264.4 1233.6,264.7 1234.3,264.8 1234.9,264.7 1235.6,264.8 1236.3,264.8 1237,265.1 1237.6,265.0 1238.3,264.8 1239,264.8 1239.7,265.0 1240.3,265.0 1241,264.7 1241.7,264.7 1242.3,264.7 1243,264.9 1243.7,265.5 1244.4,265.3 1245,265.1 1245.7,265.3 1246.4,265.0 1247,265.0 1247.7,265.1 1248.4,265.1 1249.1,265.4 1249.7,265.2 1250.4,265.0 1251.1,265.3 1251.8,265.2 1252.4,265.2 1253.1,265.4 1253.8,265.4 1254.4,265.4 1255.1,265.5 1255.8,265.2 1256.5,265.3 1257.1,265.8 1257.8,265.8 1258.5,265.6 1259.2,265.4 1259.8,265.2 1260.5,265.3 1261.2,265.3 1261.8,265.5 1262.5,265.5 1263.2,265.4 1263.9,265.2 1264.5,265.2 1265.2,265.5 1265.9,265.4 1266.5,265.4 1267.2,265.7 1267.9,265.6 1268.6,265.3 1269.2,265.3 1269.9,265.6 1270.6,266.0 1271.3,265.9 1271.9,265.6 1272.6,265.5 1273.3,265.7 1273.9,265.7 1274.6,265.7 1275.3,266.0 1276,265.8 1276.6,265.8 1277.3,265.8 1278,266.0 1278.7,265.7 1279.3,265.7 1280,265.8 1280.7,265.6 1281.3,265.6 1282,265.7 1282.7,265.6 1283.4,265.4 1284,265.4 1284.7,265.8 1285.4,266.2 1286.1,266.1 1286.7,266.0 1287.4,265.9 1288.1,265.7 1288.7,265.8 1289.4,265.7 1290.1,265.5 1290.8,265.7 1291.4,265.8 1292.1,265.6 1292.8,265.7 1293.4,265.8 1294.1,265.9 1294.8,266.0 1295.5,265.8 1296.1,265.8 1296.8,265.8 1297.5,265.8 1298.2,265.7 1298.8,265.9 1299.5,266.0 1300.2,266.1 1300.8,265.8 1301.5,265.6 1302.2,265.8 1302.9,265.9 1303.5,265.9" fill="none" stroke="#3dba8c" stroke-width="2.1" stroke-linejoin="round" stroke-linecap="round" />
<polyline points="833.5,165.5 834.2,165.9 834.8,165.5 835.5,165.5 836.2,165.4 836.8,165.5 837.5,165.6 838.2,165.2 838.9,165.1 839.5,165.1 840.2,165.2 840.9,165.4 841.6,165.4 842.2,165.2 842.9,164.5 843.6,164.6 844.2,164.9 844.9,165.0 845.6,165.6 846.3,165.6 846.9,165.3 847.6,165.2 848.3,165.2 849,165.1 849.6,165.0 850.3,164.9 851,165.3 851.6,165.5 852.3,165.4 853,165.4 853.7,165.2 854.3,165.2 855,165.3 855.7,165.5 856.3,165.4 857,165.1 857.7,164.9 858.4,165.4 859,165.5 859.7,165.0 860.4,165.4 861.1,165.7 861.7,165.5 862.4,165.1 863.1,165.5 863.7,165.7 864.4,165.3 865.1,165.2 865.8,164.7 866.4,164.5 867.1,164.9 867.8,165.2 868.5,165.1 869.1,164.7 869.8,164.5 870.5,164.6 871.1,164.6 871.8,164.9 872.5,165.4 873.2,165.8 873.8,165.7 874.5,165.0 875.2,164.6 875.8,164.0 876.5,164.1 877.2,164.7 877.9,165.1 878.5,165.2 879.2,165.1 879.9,165.0 880.6,165.0 881.2,165.3 881.9,164.9 882.6,164.5 883.2,164.4 883.9,164.8 884.6,165.4 885.3,165.2 885.9,164.6 886.6,164.5 887.3,164.7 888,164.7 888.6,164.7 889.3,164.7 890,164.7 890.6,164.7 891.3,164.9 892,164.6 892.7,164.5 893.3,164.5 894,164.6 894.7,164.7 895.4,164.5 896,164.5 896.7,164.1 897.4,164.4 898,164.4 898.7,164.4 899.4,164.7 900.1,164.2 900.7,163.9 901.4,164.1 902.1,164.1 902.7,163.9 903.4,164.3 904.1,164.4 904.8,164.3 905.4,164.3 906.1,164.3 906.8,164.2 907.5,164.1 908.1,164.3 908.8,164.3 909.5,164.1 910.1,163.9 910.8,164.0 911.5,164.2 912.2,164.1 912.8,163.9 913.5,164.0 914.2,164.7 914.9,164.5 915.5,164.0 916.2,164.2 916.9,163.5 917.5,163.5 918.2,163.8 918.9,164.1 919.6,164.1 920.2,163.7 920.9,163.7 921.6,163.8 922.2,163.7 922.9,163.7 923.6,163.5 924.3,163.4 924.9,163.9 925.6,164.3 926.3,164.3 927,163.9 927.6,164.0 928.3,164.1 929,164.2 929.6,164.2 930.3,163.8 931,163.6 931.7,163.6 932.3,163.6 933,163.6 933.7,163.3 934.4,162.8 935,162.8 935.7,162.8 936.4,163.0 937,163.4 937.7,163.0 938.4,163.1 939.1,163.6 939.7,163.5 940.4,163.6 941.1,164.0 941.8,163.3 942.4,163.1 943.1,163.4 943.8,163.3 944.4,163.4 945.1,163.1 945.8,162.8 946.5,162.7 947.1,162.7 947.8,162.8 948.5,162.6 949.1,162.4 949.8,162.8 950.5,163.0 951.2,162.9 951.8,162.5 952.5,162.2 953.2,162.5 953.9,162.6 954.5,162.6 955.2,162.8 955.9,162.8 956.5,162.6 957.2,162.6 957.9,162.7 958.6,162.6 959.2,162.7 959.9,162.8 960.6,162.6 961.3,162.5 961.9,162.6 962.6,162.7 963.3,162.8 963.9,162.6 964.6,162.6 965.3,162.5 966,162.6 966.6,162.5 967.3,161.8 968,162.0 968.6,162.5 969.3,161.9 970,161.8 970.7,161.9 971.3,162.3 972,162.6 972.7,161.8 973.4,161.8 974,162.0 974.7,162.3 975.4,162.1 976,161.2 976.7,161.4 977.4,161.8 978.1,161.7 978.7,161.3 979.4,161.4 980.1,162.2 980.8,161.7 981.4,161.5 982.1,161.8 982.8,162.0 983.4,162.2 984.1,161.6 984.8,161.8 985.5,161.9 986.1,161.5 986.8,161.5 987.5,161.5 988.2,161.0 988.8,161.5 989.5,161.7 990.2,161.2 990.8,161.3 991.5,161.1 992.2,160.7 992.9,160.9 993.5,161.0 994.2,161.1 994.9,161.5 995.5,161.3 996.2,161.2 996.9,161.4 997.6,161.0 998.2,160.9 998.9,160.9 999.6,161.1 1000.3,161.3 1000.9,161.1 1001.6,160.7 1002.3,160.7 1002.9,160.8 1003.6,160.9 1004.3,161.0 1005,160.7 1005.6,160.9 1006.3,161.2 1007,160.8 1007.7,160.9 1008.3,160.9 1009,160.6 1009.7,160.7 1010.3,160.6 1011,160.4 1011.7,160.5 1012.4,160.9 1013,161.3 1013.7,160.9 1014.4,160.9 1015,160.9 1015.7,160.6 1016.4,160.8 1017.1,160.8 1017.7,161.1 1018.4,161.1 1019.1,160.3 1019.8,160.5 1020.4,160.6 1021.1,160.3 1021.8,159.7 1022.4,160.0 1023.1,160.8 1023.8,160.7 1024.5,160.7 1025.1,160.9 1025.8,160.7 1026.5,160.5 1027.2,160.4 1027.8,160.1 1028.5,160.4 1029.2,160.6 1029.8,160.1 1030.5,160.0 1031.2,160.3 1031.9,160.0 1032.5,160.1 1033.2,160.2 1033.9,159.8 1034.6,159.6 1035.2,160.3 1035.9,160.2 1036.6,159.9 1037.2,160.3 1037.9,160.4 1038.6,160.0 1039.3,159.8 1039.9,160.1 1040.6,160.3 1041.3,160.2 1041.9,159.7 1042.6,160.1 1043.3,160.6 1044,160.4 1044.6,160.0 1045.3,160.1 1046,160.2 1046.7,160.3 1047.3,160.0 1048,159.8 1048.7,160.1 1049.3,159.8 1050,159.9 1050.7,160.1 1051.4,160.0 1052,160.1 1052.7,159.9 1053.4,159.8 1054.1,160.2 1054.7,160.2 1055.4,160.4 1056.1,160.1 1056.7,159.5 1057.4,159.8 1058.1,160.2 1058.8,160.6 1059.4,160.7 1060.1,160.1 1060.8,160.1 1061.4,160.1 1062.1,159.6 1062.8,160.4 1063.5,160.8 1064.1,160.4 1064.8,160.4 1065.5,160.7 1066.2,160.6 1066.8,160.5 1067.5,160.2 1068.2,159.7 1068.8,160.2 1069.5,160.8 1070.2,160.6 1070.9,160.4 1071.5,160.3 1072.2,160.1 1072.9,160.4 1073.6,160.7 1074.2,160.5 1074.9,160.5 1075.6,160.6 1076.2,160.6 1076.9,160.6 1077.6,160.3 1078.3,160.2 1078.9,160.9 1079.6,160.7 1080.3,160.3 1081,160.6 1081.6,160.8 1082.3,160.8 1083,160.3 1083.6,160.2 1084.3,160.4 1085,160.1 1085.7,160.5 1086.3,160.6 1087,160.7 1087.7,161.4 1088.3,161.4 1089,160.9 1089.7,160.6 1090.4,160.3 1091,160.3 1091.7,160.3 1092.4,160.4 1093.1,160.3 1093.7,160.6 1094.4,160.5 1095.1,160.3 1095.7,160.2 1096.4,160.6 1097.1,160.9 1097.8,161.1 1098.4,161.3 1099.1,161.0 1099.8,161.0 1100.5,160.8 1101.1,161.1 1101.8,161.7 1102.5,161.2 1103.1,160.7 1103.8,160.9 1104.5,160.7 1105.2,160.5 1105.8,161.1 1106.5,161.3 1107.2,161.0 1107.8,161.2 1108.5,161.1 1109.2,161.0 1109.9,161.1 1110.5,160.9 1111.2,161.1 1111.9,161.1 1112.6,161.4 1113.2,161.5 1113.9,161.6 1114.6,161.5 1115.2,161.2 1115.9,161.2 1116.6,160.7 1117.1,161.0 1117.3,161.5 1117.5,161.2 1117.9,161.3 1118,161.4 1118.4,161.1 1118.6,161.4 1118.8,161.5 1119.3,161.0 1119.3,161.2 1119.7,161.7 1120,161.2 1120.1,160.9 1120.6,160.6 1120.6,160.5 1121,161.0 1121.3,161.2 1121.5,160.8 1121.9,160.7 1122,161.3 1122.3,161.3 1122.6,160.8 1122.8,161.1 1123.2,161.2 1123.3,160.9 1123.6,160.6 1124,160.2 1124.1,160.0 1124.5,160.0 1124.7,160.1 1125,160.0 1125.3,159.6 1125.4,159.4 1125.8,158.1 1126,157.1 1126.3,155.1 1126.7,151.6 1126.7,151.6 1127.1,145.5 1127.4,141.7 1127.6,136.7 1128,124.6 1128,124.4 1128.4,110.7 1128.7,101.7 1128.9,95.2 1129.3,80.9 1129.4,79.2 1129.8,70.3 1130,67.6 1130.2,67.0 1130.6,70.6 1130.7,72.6 1131.1,81.5 1131.4,91.3 1131.5,95.6 1131.9,111.3 1132.1,114.9 1132.4,125.2 1132.7,135.2 1132.8,137.3 1133.3,146.1 1133.4,148.7 1133.7,152.3 1134.1,155.3 1134.1,156.0 1134.6,158.6 1134.7,159.4 1135,159.6 1135.4,160.3 1135.4,160.7 1135.9,161.3 1136.1,161.0 1136.3,160.8 1136.7,161.2 1136.8,160.9 1137.2,160.9 1137.4,161.5 1137.6,161.6 1138.1,161.4 1138.1,161.6 1138.5,162.1 1138.8,162.2 1138.9,161.8 1139.4,161.7 1139.5,162.1 1139.8,162.0 1140.1,161.7 1140.2,162.0 1140.7,162.5 1140.8,162.1 1141.1,161.3 1141.5,161.3 1141.6,161.6 1142,161.9 1142.1,162.3 1142.4,162.3 1142.8,162.1 1142.9,162.1 1143.3,162.1 1143.5,162.1 1144.2,162.2 1144.8,162.8 1145.5,163.2 1146.2,162.5 1146.9,162.1 1147.5,162.3 1148.2,162.2 1148.9,162.1 1149.5,162.4 1150.2,162.7 1150.9,162.8 1151.6,162.5 1152.2,162.3 1152.9,162.3 1153.6,162.6 1154.2,162.8 1154.9,163.1 1155.6,163.0 1156.3,163.1 1156.9,163.3 1157.6,163.1 1158.3,162.6 1159,162.4 1159.6,163.0 1160.3,163.6 1161,163.5 1161.6,163.4 1162.3,163.3 1163,163.1 1163.7,163.0 1164.3,163.3 1165,163.6 1165.7,163.4 1166.4,163.2 1167,163.4 1167.7,163.6 1168.4,163.3 1169,163.6 1169.7,163.9 1170.4,163.6 1171.1,163.8 1171.7,164.1 1172.4,163.8 1173.1,163.7 1173.8,163.5 1174.4,163.3 1175.1,163.0 1175.8,163.5 1176.4,163.6 1177.1,163.5 1177.8,163.7 1178.5,163.4 1179.1,163.5 1179.8,163.8 1180.5,164.0 1181.1,164.4 1181.8,164.3 1182.5,164.2 1183.2,164.0 1183.8,164.0 1184.5,164.1 1185.2,163.9 1185.9,163.9 1186.5,164.0 1187.2,164.1 1187.9,164.2 1188.5,164.0 1189.2,163.8 1189.9,164.1 1190.6,163.9 1191.2,163.7 1191.9,164.4 1192.6,163.9 1193.3,163.5 1193.9,164.2 1194.6,164.0 1195.3,164.5 1195.9,164.3 1196.6,164.0 1197.3,164.9 1198,164.8 1198.6,164.5 1199.3,164.4 1200,164.3 1200.6,164.4 1201.3,164.3 1202,164.1 1202.7,164.6 1203.3,164.4 1204,164.2 1204.7,164.4 1205.4,164.3 1206,164.5 1206.7,164.8 1207.4,164.3 1208,164.2 1208.7,164.4 1209.4,164.3 1210.1,164.5 1210.7,164.5 1211.4,164.7 1212.1,164.7 1212.8,164.7 1213.4,164.9 1214.1,164.9 1214.8,164.8 1215.4,164.5 1216.1,164.4 1216.8,164.6 1217.5,165.1 1218.1,165.4 1218.8,165.5 1219.5,165.1 1220.2,164.8 1220.8,164.9 1221.5,164.9 1222.2,165.1 1222.8,165.4 1223.5,164.9 1224.2,164.6 1224.9,165.0 1225.5,165.3 1226.2,164.9 1226.9,165.1 1227.5,165.1 1228.2,164.8 1228.9,164.8 1229.6,164.5 1230.2,164.7 1230.9,164.9 1231.6,164.6 1232.3,164.7 1232.9,165.0 1233.6,165.2 1234.3,165.0 1234.9,164.7 1235.6,164.7 1236.3,164.7 1237,164.8 1237.6,165.2 1238.3,165.2 1239,165.5 1239.7,165.7 1240.3,165.4 1241,165.3 1241.7,165.1 1242.3,165.3 1243,165.6 1243.7,165.1 1244.4,165.1 1245,165.5 1245.7,165.5 1246.4,165.5 1247,165.0 1247.7,164.7 1248.4,165.4 1249.1,165.7 1249.7,165.0 1250.4,165.0 1251.1,165.3 1251.8,164.8 1252.4,164.4 1253.1,164.5 1253.8,165.0 1254.4,165.3 1255.1,165.2 1255.8,165.3 1256.5,165.5 1257.1,165.0 1257.8,164.8 1258.5,165.1 1259.2,164.9 1259.8,165.0 1260.5,165.2 1261.2,165.3 1261.8,165.0 1262.5,165.0 1263.2,165.7 1263.9,165.6 1264.5,164.8 1265.2,165.1 1265.9,165.6 1266.5,165.6 1267.2,165.3 1267.9,165.4 1268.6,165.5 1269.2,165.0 1269.9,165.1 1270.6,165.3 1271.3,165.6 1271.9,165.7 1272.6,165.6 1273.3,165.6 1273.9,165.7 1274.6,165.7 1275.3,165.4 1276,164.8 1276.6,165.3 1277.3,165.3 1278,165.1 1278.7,165.4 1279.3,165.4 1280,165.3 1280.7,165.7 1281.3,165.3 1282,165.2 1282.7,166.2 1283.4,166.0 1284,165.5 1284.7,165.7 1285.4,166.1 1286.1,165.7 1286.7,165.3 1287.4,165.5 1288.1,165.6 1288.7,165.7 1289.4,165.7 1290.1,165.6 1290.8,165.5 1291.4,165.4 1292.1,165.3 1292.8,165.4 1293.4,165.5 1294.1,165.3 1294.8,165.6 1295.5,165.9 1296.1,165.3 1296.8,165.5 1297.5,165.6 1298.2,165.5 1298.8,165.7 1299.5,165.6 1300.2,165.7 1300.8,165.5 1301.5,165.5 1302.2,166.0 1302.9,165.6 1303.5,165.1" fill="none" stroke="#4e4798" stroke-width="2.1" stroke-linejoin="round" stroke-linecap="round" />
<polyline points="100.9,1058.5 101.6,1058.5 102.3,1058.6 103.1,1058.4 103.8,1058.4 104.5,1058.5 105.3,1058.5 106,1058.5 106.7,1058.4 107.4,1058.4 108.2,1058.5 108.9,1058.5 109.6,1058.4 110.4,1058.3 111.1,1058.4 111.8,1058.4 112.6,1058.3 113.3,1058.3 114,1058.3 114.7,1058.4 115.5,1058.4 116.2,1058.4 116.9,1058.5 117.7,1058.5 118.4,1058.5 119.1,1058.6 119.8,1058.4 120.6,1058.3 121.3,1058.1 122,1058.1 122.8,1058.2 123.5,1058.4 124.2,1058.2 124.9,1058.2 125.7,1058.3 126.4,1058.2 127.1,1058.0 127.9,1057.9 128.6,1058.0 129.3,1058.0 130,1057.9 130.8,1057.8 131.5,1057.8 132.2,1057.8 133,1057.7 133.7,1057.6 134.4,1057.5 135.1,1057.3 135.9,1057.0 136.6,1056.8 137.3,1056.8 138.1,1056.7 138.8,1056.4 139.5,1056.1 140.2,1055.8 141,1055.5 141.7,1055.1 142.4,1054.6 143.2,1054.3 143.9,1053.8 144.6,1053.1 145.4,1052.3 146.1,1051.6 146.8,1050.8 147.5,1050.0 148.3,1048.9 149,1047.6 149.7,1046.3 150.5,1044.7 151.2,1043.1 151.9,1041.3 152.6,1039.2 153.4,1036.7 154.1,1033.8 154.8,1030.9 155.6,1027.4 156.3,1023.4 157,1019.0 157.7,1014.2 158.5,1008.9 159.2,1002.7 159.9,995.9 160.7,988.3 161.4,979.7 162.1,970.0 162.8,959.3 163.6,947.5 164.3,934.6 165,920.1 165.8,904.3 166.5,887.2 167.2,868.5 167.9,848.8 168.7,828.6 169.4,807.8 170.1,786.8 170.9,766.1 171.6,746.6 172.3,729.7 173,715.7 173.8,704.9 174.5,698.9 175.2,698.2 176,701.8 176.7,709.9 177.4,722.2 178.2,736.9 178.9,754.5 179.6,773.5 180.3,793.0 181.1,813.2 181.8,833.1 182.5,852.6 183.3,871.2 184,888.8 184.7,905.1 185.4,919.9 186.2,933.6 186.9,945.9 187.6,957.3 188.4,967.7 189.1,977.2 189.8,985.7 190.5,993.4 191.3,1000.3 192,1006.3 192.7,1011.8 193.5,1016.6 194.2,1021.1 194.9,1025.1 195.6,1028.5 196.4,1031.7 197.1,1034.7 197.8,1037.2 198.6,1039.3 199.3,1041.3 200,1043.0 200.7,1044.7 201.5,1046.3 202.2,1047.5 202.9,1048.8 203.7,1050.0 204.4,1050.7 205.1,1051.5 205.8,1052.3 206.6,1052.9 207.3,1053.5 208,1054.0 208.8,1054.5 209.5,1055.0 210.2,1055.3 211,1055.7 211.7,1056.0 212.4,1056.2 213.1,1056.4 213.9,1056.7 214.6,1056.9 215.3,1057.0 216.1,1057.0 216.8,1057.2 217.5,1057.3 218.2,1057.4 219,1057.6 219.7,1057.6 220.4,1057.6 221.2,1057.9 221.9,1057.9 222.6,1057.9 223.3,1058.0 224.1,1058.1 224.8,1057.9 225.5,1058.0 226.3,1058.1 227,1058.2 227.7,1058.3 228.4,1058.3 229.2,1058.2 229.9,1058.1 230.6,1058.2 231.4,1058.2 232.1,1058.2 232.8,1058.2 233.5,1058.4 234.3,1058.4 235,1058.3 235.7,1058.3 236.5,1058.2 237.2,1058.2 237.9,1058.4 238.6,1058.5 239.4,1058.4 240.1,1058.4 240.8,1058.4 241.6,1058.4 242.3,1058.5 243,1058.4 243.7,1058.4 244.5,1058.4 245.2,1058.3 245.9,1058.2 246.7,1058.3 247.4,1058.4 248.1,1058.4 248.9,1058.4 249.6,1058.5 250.3,1058.5 251,1058.3 251.8,1058.4 252.5,1058.6 253.2,1058.5 254,1058.3 254.7,1058.3 255.4,1058.4 256.1,1058.4 256.9,1058.5 257.6,1058.4 258.3,1058.4 259.1,1058.4 259.8,1058.4 260.5,1058.5 261.2,1058.5 262,1058.4 262.7,1058.3 263.4,1058.2 264.2,1058.3 264.9,1058.3 265.6,1058.4 266.3,1058.6 267.1,1058.5 267.8,1058.4 268.5,1058.3 269.3,1058.3 270,1058.4 270.7,1058.5 271.4,1058.5 272.2,1058.4 272.9,1058.2 273.6,1058.2 274.4,1058.3 275.1,1058.4 275.8,1058.4 276.5,1058.4 277.3,1058.3 278,1058.5 278.7,1058.4 279.5,1058.3 280.2,1058.3 280.9,1058.3 281.7,1058.3 282.4,1058.4 283.1,1058.5 283.8,1058.4 284.6,1058.3 285.3,1058.4 286,1058.4 286.8,1058.4 287.5,1058.4 288.2,1058.4 288.9,1058.4 289.7,1058.4 290.4,1058.4 291.1,1058.4 291.9,1058.4 292.6,1058.5 293.3,1058.5 294,1058.4 294.8,1058.4 295.5,1058.3 296.2,1058.3 297,1058.3 297.7,1058.3 298.4,1058.4 299.1,1058.3 299.9,1058.3 300.6,1058.4 301.3,1058.3 302.1,1058.4 302.8,1058.5 303.5,1058.4 304.2,1058.5 305,1058.5 305.7,1058.4 306.4,1058.5 307.2,1058.5 307.9,1058.3 308.6,1058.4 309.3,1058.4 310.1,1058.3 310.8,1058.4 311.5,1058.6 312.3,1058.5 313,1058.3 313.7,1058.4 314.5,1058.4 315.2,1058.3 315.9,1058.4 316.6,1058.4 317.4,1058.4 318.1,1058.5 318.8,1058.5 319.6,1058.5 320.3,1058.4 321,1058.4 321.7,1058.3 322.5,1058.4 323.2,1058.4 323.9,1058.4 324.7,1058.4 325.4,1058.4 326.1,1058.6 326.8,1058.5 327.6,1058.4 328.3,1058.4 329,1058.5 329.8,1058.5 330.5,1058.4 331.2,1058.4 331.9,1058.4 332.7,1058.3 333.4,1058.4 334.1,1058.4 334.9,1058.4 335.6,1058.4 336.3,1058.5 337,1058.5 337.8,1058.5 338.5,1058.4 339.2,1058.4 340,1058.4 340.7,1058.4 341.4,1058.4 342.1,1058.5 342.9,1058.3 343.6,1058.3 344.3,1058.3 345.1,1058.4 345.8,1058.4 346.5,1058.2 347.3,1058.2 348,1058.4 348.7,1058.4 349.4,1058.3 350.2,1058.4 350.9,1058.3 351.6,1058.3 352.4,1058.4 353.1,1058.4 353.8,1058.4 354.5,1058.4 355.3,1058.4 356,1058.4 356.7,1058.4 357.5,1058.5 358.2,1058.5 358.9,1058.4 359.6,1058.4 360.4,1058.3 361.1,1058.4 361.8,1058.4 362.6,1058.3 363.3,1058.3 364,1058.4 364.7,1058.5 365.5,1058.4 366.2,1058.3 366.9,1058.5 367.7,1058.4 368.4,1058.3 369.1,1058.4 369.8,1058.5 370.6,1058.4 371.3,1058.2 372,1058.4 372.8,1058.6 373.5,1058.5 374.2,1058.2 374.9,1058.4 375.7,1058.5 376.4,1058.5 377.1,1058.5 377.9,1058.4 378.6,1058.3 379.3,1058.5 380,1058.6 380.8,1058.4 381.5,1058.2 382.2,1058.5 383,1058.5 383.7,1058.3 384.4,1058.3 385.2,1058.4 385.9,1058.4 386.6,1058.4 387.3,1058.4 388.1,1058.4 388.8,1058.4 389.5,1058.4 390.3,1058.3 391,1058.4 391.7,1058.5 392.4,1058.5 393.2,1058.4 393.9,1058.4 394.6,1058.5 395.4,1058.5 396.1,1058.5 396.8,1058.5 397.5,1058.6 398.3,1058.5 399,1058.4 399.7,1058.4 400.5,1058.5 401.2,1058.4 401.9,1058.3 402.6,1058.2 403.4,1058.3 404.1,1058.5 404.8,1058.5 405.6,1058.4 406.3,1058.4 407,1058.4 407.7,1058.4 408.5,1058.5 409.2,1058.4 409.9,1058.3 410.7,1058.2 411.4,1058.2 412.1,1058.2 412.8,1058.3 413.6,1058.4 414.3,1058.5 415,1058.5 415.8,1058.4 416.5,1058.4 417.2,1058.4 418,1058.4 418.7,1058.5 419.4,1058.4 420.1,1058.3 420.9,1058.4 421.6,1058.4 422.3,1058.4 423.1,1058.6 423.8,1058.5 424.5,1058.4 425.2,1058.2 426,1058.3 426.7,1058.4 427.4,1058.2 428.2,1058.3 428.9,1058.5 429.6,1058.4 430.3,1058.3 431.1,1058.3 431.8,1058.4 432.5,1058.4 433.3,1058.3 434,1058.5 434.7,1058.5 435.4,1058.4 436.2,1058.4 436.9,1058.3 437.6,1058.3 438.4,1058.4 439.1,1058.4 439.8,1058.4 440.5,1058.5 441.3,1058.5 442,1058.4 442.7,1058.2 443.5,1058.2 444.2,1058.4 444.9,1058.5 445.6,1058.5 446.4,1058.4 447.1,1058.3 447.8,1058.3 448.6,1058.4 449.3,1058.4 450,1058.4 450.8,1058.4 451.5,1058.5 452.2,1058.3 452.9,1058.2 453.7,1058.3 454.4,1058.4 455.1,1058.4 455.9,1058.4 456.6,1058.3 457.3,1058.4 458,1058.4 458.8,1058.4 459.5,1058.3 460.2,1058.3 461,1058.4 461.7,1058.3 462.4,1058.3 463.1,1058.3 463.9,1058.5 464.6,1058.5 465.3,1058.5 466.1,1058.5 466.8,1058.4 467.5,1058.3 468.2,1058.3 469,1058.5 469.7,1058.5 470.4,1058.5 471.2,1058.5 471.9,1058.4 472.6,1058.4 473.3,1058.4 474.1,1058.4 474.8,1058.5 475.5,1058.5 476.3,1058.4 477,1058.4 477.7,1058.3 478.4,1058.3 479.2,1058.4 479.9,1058.3 480.6,1058.3 481.4,1058.5 482.1,1058.5 482.8,1058.3 483.6,1058.3 484.3,1058.5 485,1058.5 485.7,1058.4 486.5,1058.4 487.2,1058.4 487.9,1058.6 488.7,1058.6 489.4,1058.4 490.1,1058.3 490.8,1058.4 491.6,1058.4 492.3,1058.5 493,1058.5 493.8,1058.3 494.5,1058.3 495.2,1058.4 495.9,1058.4 496.7,1058.3 497.4,1058.3 498.1,1058.3 498.9,1058.4 499.6,1058.3 500.3,1058.3 501,1058.4 501.8,1058.3 502.5,1058.3 503.2,1058.3 504,1058.4 504.7,1058.3 505.4,1058.2 506.1,1058.3 506.9,1058.3 507.6,1058.4 508.3,1058.4 509.1,1058.4 509.8,1058.4" fill="none" stroke="#4e4798" stroke-width="2.0" stroke-linejoin="round" stroke-linecap="round" />
<polyline points="100.9,1058.2 101.6,1058.4 102.3,1058.5 103.1,1058.4 103.8,1058.4 104.5,1058.3 105.3,1058.4 106,1058.4 106.7,1058.4 107.5,1058.4 108.2,1058.4 108.9,1058.4 109.6,1058.4 110.4,1058.5 111.1,1058.5 111.8,1058.5 112.6,1058.5 113.3,1058.3 114,1058.3 114.7,1058.4 115.5,1058.4 116.2,1058.4 116.9,1058.3 117.7,1058.3 118.4,1058.4 119.1,1058.5 119.8,1058.4 120.6,1058.3 121.3,1058.4 122,1058.4 122.8,1058.5 123.5,1058.5 124.2,1058.3 125,1058.4 125.7,1058.6 126.4,1058.4 127.1,1058.4 127.9,1058.5 128.6,1058.5 129.3,1058.5 130.1,1058.3 130.8,1058.3 131.5,1058.5 132.2,1058.6 133,1058.6 133.7,1058.6 134.4,1058.4 135.2,1058.4 135.9,1058.3 136.6,1058.3 137.3,1058.3 138.1,1058.2 138.8,1058.3 139.5,1058.4 140.3,1058.6 141,1058.6 141.7,1058.4 142.5,1058.4 143.2,1058.4 143.9,1058.3 144.6,1058.2 145.4,1058.4 146.1,1058.5 146.8,1058.4 147.6,1058.3 148.3,1058.4 149,1058.5 149.7,1058.4 150.5,1058.4 151.2,1058.3 151.9,1058.4 152.7,1058.5 153.4,1058.4 154.1,1058.3 154.8,1058.4 155.6,1058.4 156.3,1058.4 157,1058.5 157.8,1058.4 158.5,1058.5 159.2,1058.5 160,1058.5 160.7,1058.4 161.4,1058.3 162.1,1058.3 162.9,1058.5 163.6,1058.5 164.3,1058.6 165.1,1058.5 165.8,1058.4 166.5,1058.4 167.2,1058.4 168,1058.3 168.7,1058.2 169.4,1058.3 170.2,1058.2 170.9,1058.2 171.6,1058.2 172.3,1058.2 173.1,1058.2 173.8,1058.1 174.5,1058.1 175.3,1058.0 176,1058.1 176.7,1058.1 177.5,1058.0 178.2,1057.9 178.9,1057.7 179.6,1057.7 180.4,1057.8 181.1,1057.7 181.8,1057.6 182.6,1057.6 183.3,1057.4 184,1057.3 184.7,1057.3 185.5,1057.3 186.2,1057.1 186.9,1056.9 187.7,1056.9 188.4,1056.5 189.1,1056.2 189.8,1056.1 190.6,1056.0 191.3,1055.7 192,1055.5 192.8,1055.1 193.5,1054.6 194.2,1054.1 195,1053.8 195.7,1053.4 196.4,1052.9 197.1,1052.4 197.9,1051.6 198.6,1051.0 199.3,1050.4 200.1,1049.5 200.8,1048.4 201.5,1047.2 202.2,1046.1 203,1044.8 203.7,1043.3 204.4,1041.8 205.2,1040.1 205.9,1038.2 206.6,1036.0 207.4,1033.7 208.1,1031.1 208.8,1027.9 209.5,1024.7 210.3,1021.4 211,1017.6 211.7,1013.3 212.5,1008.5 213.2,1003.2 213.9,997.5 214.6,991.2 215.4,984.1 216.1,976.4 216.8,968.1 217.6,958.9 218.3,948.6 219,937.8 219.7,926.0 220.5,913.1 221.2,899.3 221.9,884.6 222.7,868.9 223.4,852.0 224.1,834.4 224.9,816.4 225.6,798.6 226.3,781.0 227,763.5 227.8,746.9 228.5,731.2 229.2,718.9 230,709.3 230.7,702.0 231.4,698.5 232.1,698.6 232.9,701.8 233.6,707.1 234.3,715.8 235.1,726.9 235.8,739.4 236.5,754.2 237.2,769.8 238,785.5 238.7,801.3 239.4,817.9 240.2,834.6 240.9,850.4 241.6,865.3 242.4,879.8 243.1,893.6 243.8,906.7 244.5,919.2 245.3,930.6 246,941.0 246.7,950.7 247.5,959.9 248.2,968.1 248.9,975.7 249.6,983.0 250.4,989.6 251.1,995.4 251.8,1000.8 252.6,1005.7 253.3,1010.1 254,1014.3 254.7,1018.4 255.5,1022.0 256.2,1025.2 256.9,1028.0 257.7,1030.6 258.4,1032.9 259.1,1035.1 259.9,1037.2 260.6,1039.0 261.3,1040.8 262,1042.3 262.8,1043.5 263.5,1044.8 264.2,1046.0 265,1047.0 265.7,1048.2 266.4,1049.2 267.1,1049.9 267.9,1050.7 268.6,1051.5 269.3,1052.0 270.1,1052.6 270.8,1053.1 271.5,1053.5 272.2,1054.0 273,1054.3 273.7,1054.5 274.4,1054.9 275.2,1055.3 275.9,1055.6 276.6,1055.8 277.4,1056.1 278.1,1056.4 278.8,1056.6 279.5,1056.7 280.3,1056.8 281,1056.9 281.7,1057.0 282.5,1057.2 283.2,1057.2 283.9,1057.4 284.6,1057.5 285.4,1057.5 286.1,1057.6 286.8,1057.8 287.6,1057.9 288.3,1057.9 289,1057.9 289.7,1057.8 290.5,1057.9 291.2,1057.9 291.9,1058.1 292.7,1058.1 293.4,1058.1 294.1,1058.2 294.9,1058.1 295.6,1058.2 296.3,1058.3 297,1058.3 297.8,1058.1 298.5,1058.2 299.2,1058.2 300,1058.4 300.7,1058.4 301.4,1058.3 302.1,1058.2 302.9,1058.2 303.6,1058.2 304.3,1058.3 305.1,1058.4 305.8,1058.4 306.5,1058.3 307.2,1058.3 308,1058.4 308.7,1058.4 309.4,1058.2 310.2,1058.3 310.9,1058.3 311.6,1058.3 312.4,1058.4 313.1,1058.4 313.8,1058.4 314.5,1058.4 315.3,1058.4 316,1058.6 316.7,1058.4 317.5,1058.3 318.2,1058.3 318.9,1058.3 319.6,1058.5 320.4,1058.4 321.1,1058.4 321.8,1058.4 322.6,1058.3 323.3,1058.2 324,1058.4 324.7,1058.5 325.5,1058.4 326.2,1058.4 326.9,1058.4 327.7,1058.3 328.4,1058.3 329.1,1058.5 329.9,1058.5 330.6,1058.4 331.3,1058.4 332,1058.4 332.8,1058.3 333.5,1058.5 334.2,1058.5 335,1058.4 335.7,1058.4 336.4,1058.4 337.1,1058.4 337.9,1058.5 338.6,1058.5 339.3,1058.4 340.1,1058.2 340.8,1058.3 341.5,1058.5 342.2,1058.4 343,1058.2 343.7,1058.2 344.4,1058.4 345.2,1058.4 345.9,1058.3 346.6,1058.4 347.4,1058.5 348.1,1058.5 348.8,1058.4 349.5,1058.4 350.3,1058.5 351,1058.6 351.7,1058.5 352.5,1058.3 353.2,1058.3 353.9,1058.4 354.6,1058.4 355.4,1058.4 356.1,1058.5 356.8,1058.4 357.6,1058.5 358.3,1058.5 359,1058.4 359.7,1058.3 360.5,1058.5 361.2,1058.5 361.9,1058.3 362.7,1058.4 363.4,1058.5 364.1,1058.3 364.9,1058.3 365.6,1058.4 366.3,1058.5 367,1058.6 367.8,1058.5 368.5,1058.5 369.2,1058.4 370,1058.3 370.7,1058.4 371.4,1058.4 372.1,1058.5 372.9,1058.5 373.6,1058.4 374.3,1058.4 375.1,1058.4 375.8,1058.3 376.5,1058.3 377.2,1058.3 378,1058.3 378.7,1058.4 379.4,1058.4 380.2,1058.4 380.9,1058.4 381.6,1058.4 382.4,1058.3 383.1,1058.3 383.8,1058.3 384.5,1058.3 385.3,1058.4 386,1058.4 386.7,1058.3 387.5,1058.2 388.2,1058.3 388.9,1058.4 389.6,1058.5 390.4,1058.5 391.1,1058.5 391.8,1058.5 392.6,1058.4 393.3,1058.3 394,1058.3 394.7,1058.3 395.5,1058.4 396.2,1058.4 396.9,1058.4 397.7,1058.4 398.4,1058.4 399.1,1058.5 399.9,1058.4 400.6,1058.4 401.3,1058.4 402,1058.3 402.8,1058.4 403.5,1058.5 404.2,1058.4 405,1058.4 405.7,1058.5 406.4,1058.5 407.1,1058.3 407.9,1058.4 408.6,1058.3 409.3,1058.3 410.1,1058.5 410.8,1058.6 411.5,1058.5 412.2,1058.5 413,1058.4 413.7,1058.5 414.4,1058.5 415.2,1058.4 415.9,1058.4 416.6,1058.5 417.4,1058.5 418.1,1058.5 418.8,1058.3 419.5,1058.3 420.3,1058.6 421,1058.6 421.7,1058.5 422.5,1058.3 423.2,1058.4 423.9,1058.4 424.6,1058.4 425.4,1058.4 426.1,1058.4 426.8,1058.5 427.6,1058.4 428.3,1058.3 429,1058.4 429.7,1058.3 430.5,1058.3 431.2,1058.3 431.9,1058.5 432.7,1058.4 433.4,1058.4 434.1,1058.6 434.9,1058.6 435.6,1058.5 436.3,1058.4 437,1058.3 437.8,1058.4 438.5,1058.5 439.2,1058.5 440,1058.6 440.7,1058.6 441.4,1058.5 442.1,1058.5 442.9,1058.4 443.6,1058.2 444.3,1058.3 445.1,1058.3 445.8,1058.4 446.5,1058.4 447.2,1058.5 448,1058.6 448.7,1058.5 449.4,1058.4 450.2,1058.4 450.9,1058.5 451.6,1058.4" fill="none" stroke="#3b6ea5" stroke-width="2.0" stroke-linejoin="round" stroke-linecap="round" />
<polyline points="195.1,1056.7 195.8,1055.9 196.6,1055.5 197.3,1055.3 198,1055.3 198.8,1055.1 199.5,1055.0 200.2,1055.1 201,1054.9 201.7,1054.5 202.4,1053.6 203.2,1053.8 203.9,1053.9 204.6,1053.4 205.3,1053.2 206.1,1052.6 206.8,1052.6 207.5,1052.0 208.3,1051.4 209,1050.3 209.7,1049.5 210.5,1049.2 211.2,1048.2 211.9,1047.5 212.7,1046.8 213.4,1046.4 214.1,1044.7 214.8,1043.1 215.6,1042.2 216.3,1041.3 217,1039.9 217.8,1038.2 218.5,1036.5 219.2,1034.7 220,1033.2 220.7,1030.6 221.4,1027.9 222.2,1024.9 222.9,1022.2 223.6,1019.9 224.3,1016.2 225.1,1012.6 225.8,1008.0 226.5,1002.5 227.3,998.0 228,993.3 228.7,988.2 229.5,982.3 230.2,975.6 230.9,968.7 231.7,960.7 232.4,951.1 233.1,941.5 233.8,933.4 234.6,922.1 235.3,909.3 236,899.4 236.8,886.9 237.5,871.6 238.2,856.8 239,843.0 239.7,828.4 240.4,811.1 241.2,794.6 241.9,779.7 242.6,764.6 243.3,751.1 244.1,736.1 244.8,721.2 245.5,712.0 246.3,707.8 247,703.0 247.7,699.1 248.5,701.3 249.2,701.6 249.9,703.0 250.7,707.8 251.4,712.5 252.1,719.8 252.8,729.0 253.6,736.4 254.3,743.7 255,752.9 255.8,764.3 256.5,776.0 257.2,786.9 258,797.4 258.7,807.8 259.4,820.6 260.2,831.7 260.9,842.0 261.6,853.0 262.4,862.5 263.1,870.9 263.8,881.4 264.5,891.8 265.3,900.6 266,907.6 266.7,914.2 267.5,921.9 268.2,929.7 268.9,938.5 269.7,945.9 270.4,951.6 271.1,957.4 271.9,963.4 272.6,968.6 273.3,973.4 274,978.4 274.8,981.8 275.5,985.8 276.2,991.4 277,995.2 277.7,998.2 278.4,1001.5 279.2,1004.5 279.9,1008.2 280.6,1011.1 281.4,1013.0 282.1,1014.4 282.8,1017.0 283.5,1019.6 284.3,1021.3 285,1024.3 285.7,1027.0 286.5,1027.9 287.2,1029.6 287.9,1031.9 288.7,1032.9 289.4,1034.3 290.1,1035.4 290.9,1036.0 291.6,1037.2 292.3,1038.3 293,1040.1 293.8,1041.0 294.5,1041.3 295.2,1042.2 296,1043.5 296.7,1044.4 297.4,1045.4 298.2,1045.9 298.9,1045.9 299.6,1046.6 300.4,1047.6 301.1,1048.0 301.8,1048.5 302.5,1049.8 303.3,1050.0 304,1049.9 304.7,1050.9 305.5,1051.1 306.2,1050.8 306.9,1051.0 307.7,1051.7 308.4,1052.5 309.1,1052.6 309.9,1052.7 310.6,1053.4 311.3,1053.9 312,1053.3 312.8,1053.3 313.5,1053.9 314.2,1054.3 315,1054.4 315.7,1054.2 316.4,1054.3 317.2,1054.1 317.9,1054.4 318.6,1054.9 319.4,1055.1 320.1,1055.1 320.8,1055.0 321.5,1055.1 322.3,1055.1 323,1055.6 323.7,1055.9 324.5,1055.9 325.2,1055.8 325.9,1055.8 326.7,1055.7 327.4,1055.6 328.1,1056.0 328.9,1056.4 329.6,1056.7 330.3,1056.5 331,1056.8 331.8,1056.9 332.5,1056.9 333.2,1057.1 334,1057.0 334.7,1056.7 335.4,1056.9 336.2,1056.9 336.9,1056.9 337.6,1057.4 338.4,1057.6 339.1,1057.2 339.8,1056.6 340.5,1056.7 341.3,1057.1 342,1057.5 342.7,1057.4 343.5,1057.1 344.2,1057.4 344.9,1057.4 345.7,1057.1 346.4,1057.8 347.1,1058.2 347.9,1058.0 348.6,1057.6 349.3,1057.2 350,1057.3 350.8,1057.6 351.5,1057.5 352.2,1057.4 353,1057.4 353.7,1057.5 354.4,1057.6 355.2,1058.0 355.9,1058.1 356.6,1057.2 357.4,1056.9 358.1,1056.9 358.8,1057.0 359.5,1057.6 360.3,1057.9 361,1057.6 361.7,1057.6 362.5,1057.5 363.2,1057.1 363.9,1056.9 364.7,1057.1 365.4,1057.9 366.1,1057.7 366.9,1057.7 367.6,1058.5 368.3,1058.1 369,1057.7 369.8,1057.6 370.5,1057.6 371.2,1058.0 372,1058.0 372.7,1058.1 373.4,1058.4 374.2,1058.2 374.9,1058.0 375.6,1057.9 376.4,1057.9 377.1,1057.6 377.8,1057.7 378.5,1058.0 379.3,1057.7 380,1058.2 380.7,1058.2 381.5,1057.4 382.2,1057.7 382.9,1057.4 383.7,1057.1 384.4,1057.3 385.1,1057.2 385.9,1057.6 386.6,1058.0 387.3,1058.3 388,1058.5 388.8,1058.5 389.5,1058.4 390.2,1058.0 391,1058.1 391.7,1058.1 392.4,1057.6 393.2,1058.2 393.9,1058.6 394.6,1058.2 395.4,1058.2 396.1,1058.4 396.8,1057.8 397.5,1057.6 398.3,1057.6 399,1057.7 399.7,1057.8 400.5,1058.2 401.2,1058.5 401.9,1057.9 402.7,1057.8 403.4,1057.7 404.1,1057.7 404.9,1058.2 405.6,1058.2 406.3,1057.6 407,1057.4 407.8,1058.1 408.5,1058.3 409.2,1058.4 410,1058.0 410.7,1057.8 411.4,1058.0 412.2,1057.9 412.9,1058.2 413.6,1058.4 414.4,1058.1 415.1,1057.9 415.8,1057.8 416.5,1057.4 417.3,1057.8 418,1058.2 418.7,1057.6 419.5,1057.4 420.2,1057.8 420.9,1058.5 421.7,1058.8 422.4,1058.6 423.1,1057.8 423.9,1057.6 424.6,1058.2 425.3,1058.3 426,1058.3 426.8,1058.1 427.5,1058.5 428.2,1059.0 429,1058.5 429.7,1057.8 430.4,1058.4 431.2,1058.5 431.9,1058.3 432.6,1059.0 433.4,1058.4 434.1,1057.9 434.8,1058.1 435.5,1058.2 436.3,1058.4 437,1058.7 437.7,1058.8 438.5,1058.3 439.2,1058.4 439.9,1058.4 440.7,1058.0 441.4,1058.7 442.1,1058.5 442.9,1057.8 443.6,1058.0 444.3,1057.9 445,1057.3 445.8,1057.9 446.5,1058.2 447.2,1057.8 448,1057.9 448.7,1057.8 449.4,1057.6 450.2,1057.9 450.9,1058.9 451.6,1059.0" fill="none" stroke="#2a8fa6" stroke-width="2.8" stroke-linejoin="round" stroke-linecap="round" />
<polyline points="183.5,1058.4 184.2,1058.4 184.9,1058.4 185.7,1058.4 186.4,1058.4 187.1,1058.3 187.9,1058.3 188.6,1058.4 189.3,1058.3 190.1,1058.3 190.8,1058.3 191.5,1058.4 192.3,1058.5 193,1058.5 193.7,1058.4 194.4,1058.4 195.2,1058.4 195.9,1058.3 196.6,1058.3 197.4,1058.4 198.1,1058.3 198.8,1058.3 199.6,1058.4 200.3,1058.4 201,1058.5 201.8,1058.3 202.5,1058.3 203.2,1058.5 203.9,1058.5 204.7,1058.5 205.4,1058.5 206.1,1058.3 206.9,1058.3 207.6,1058.4 208.3,1058.5 209.1,1058.4 209.8,1058.3 210.5,1058.4 211.2,1058.3 212,1058.3 212.7,1058.5 213.4,1058.6 214.2,1058.5 214.9,1058.5 215.6,1058.5 216.4,1058.3 217.1,1058.2 217.8,1058.3 218.6,1058.4 219.3,1058.5 220,1058.5 220.7,1058.4 221.5,1058.3 222.2,1058.4 222.9,1058.4 223.7,1058.4 224.4,1058.3 225.1,1058.3 225.9,1058.5 226.6,1058.4 227.3,1058.3 228.1,1058.4 228.8,1058.4 229.5,1058.4 230.2,1058.4 231,1058.4 231.7,1058.3 232.4,1058.3 233.2,1058.2 233.9,1058.2 234.6,1058.3 235.4,1058.4 236.1,1058.3 236.8,1058.3 237.6,1058.2 238.3,1058.2 239,1058.3 239.7,1058.3 240.5,1058.2 241.2,1058.2 241.9,1058.3 242.7,1058.2 243.4,1058.2 244.1,1058.1 244.9,1057.9 245.6,1058.0 246.3,1058.1 247,1058.0 247.8,1057.9 248.5,1057.9 249.2,1057.9 250,1057.9 250.7,1057.8 251.4,1057.6 252.2,1057.6 252.9,1057.6 253.6,1057.5 254.4,1057.4 255.1,1057.4 255.8,1057.2 256.5,1057.0 257.3,1056.8 258,1056.5 258.7,1056.4 259.5,1056.3 260.2,1056.1 260.9,1055.8 261.7,1055.6 262.4,1055.3 263.1,1054.9 263.9,1054.6 264.6,1054.2 265.3,1053.8 266,1053.4 266.8,1052.9 267.5,1052.4 268.2,1051.7 269,1051.0 269.7,1050.2 270.4,1049.2 271.2,1048.3 271.9,1047.4 272.6,1046.2 273.4,1045.1 274.1,1043.6 274.8,1042.0 275.5,1040.4 276.3,1038.7 277,1036.8 277.7,1034.4 278.5,1032.0 279.2,1029.4 279.9,1026.5 280.7,1023.2 281.4,1019.5 282.1,1015.6 282.8,1011.4 283.6,1006.6 284.3,1001.5 285,995.7 285.8,989.2 286.5,982.4 287.2,974.9 288,966.5 288.7,957.5 289.4,947.6 290.2,937.0 290.9,925.5 291.6,913.0 292.3,899.7 293.1,885.2 293.8,869.7 294.5,854.1 295.3,837.4 296,819.7 296.7,802.4 297.5,785.3 298.2,767.8 298.9,751.6 299.7,736.7 300.4,723.2 301.1,712.5 301.8,704.5 302.6,699.4 303.3,697.7 304,699.3 304.8,703.9 305.5,711.5 306.2,721.6 307,733.6 307.7,747.1 308.4,762.1 309.2,778.3 309.9,795.3 310.6,812.2 311.3,828.4 312.1,844.6 312.8,860.2 313.5,875.2 314.3,889.5 315,902.9 315.7,915.6 316.5,927.2 317.2,938.1 317.9,948.1 318.7,957.4 319.4,966.3 320.1,974.5 320.8,981.8 321.6,988.1 322.3,994.1 323,999.8 323.8,1004.9 324.5,1009.4 325.2,1013.9 326,1017.7 326.7,1021.4 327.4,1024.8 328.1,1027.6 328.9,1030.3 329.6,1032.7 330.3,1034.9 331.1,1037.1 331.8,1039.1 332.5,1040.8 333.3,1042.3 334,1043.7 334.7,1045.0 335.5,1046.1 336.2,1047.2 336.9,1048.3 337.6,1049.3 338.4,1050.0 339.1,1050.7 339.8,1051.5 340.6,1052.2 341.3,1052.6 342,1053.0 342.8,1053.6 343.5,1054.1 344.2,1054.4 345,1054.7 345.7,1055.1 346.4,1055.5 347.1,1055.8 347.9,1055.9 348.6,1056.1 349.3,1056.3 350.1,1056.6 350.8,1056.6 351.5,1056.8 352.3,1056.9 353,1057.0 353.7,1057.1 354.5,1057.2 355.2,1057.3 355.9,1057.4 356.6,1057.5 357.4,1057.7 358.1,1057.7 358.8,1057.7 359.6,1057.8 360.3,1057.8 361,1057.7 361.8,1057.9 362.5,1058.1 363.2,1058.1 363.9,1058.1 364.7,1058.0 365.4,1058.0 366.1,1058.1 366.9,1058.2 367.6,1058.1 368.3,1058.1 369.1,1058.1 369.8,1058.2 370.5,1058.3 371.3,1058.2 372,1058.2 372.7,1058.2 373.4,1058.3 374.2,1058.3 374.9,1058.2 375.6,1058.2 376.4,1058.2 377.1,1058.3 377.8,1058.4 378.6,1058.3 379.3,1058.3 380,1058.4 380.8,1058.4 381.5,1058.3 382.2,1058.4 382.9,1058.4 383.7,1058.4 384.4,1058.5 385.1,1058.4 385.9,1058.3 386.6,1058.4 387.3,1058.3 388.1,1058.3 388.8,1058.4 389.5,1058.4 390.3,1058.4 391,1058.4 391.7,1058.4 392.4,1058.4 393.2,1058.4 393.9,1058.5 394.6,1058.4 395.4,1058.4 396.1,1058.4 396.8,1058.5 397.6,1058.5 398.3,1058.4 399,1058.3 399.8,1058.3 400.5,1058.4 401.2,1058.4 401.9,1058.5 402.7,1058.4 403.4,1058.4 404.1,1058.5 404.9,1058.4 405.6,1058.4 406.3,1058.4 407.1,1058.4 407.8,1058.4 408.5,1058.4 409.2,1058.4 410,1058.4 410.7,1058.5 411.4,1058.5 412.2,1058.5 412.9,1058.5 413.6,1058.5 414.4,1058.5 415.1,1058.4 415.8,1058.4 416.6,1058.5 417.3,1058.5 418,1058.4 418.7,1058.3 419.5,1058.4 420.2,1058.4 420.9,1058.3 421.7,1058.5 422.4,1058.6 423.1,1058.4 423.9,1058.4 424.6,1058.5 425.3,1058.5 426.1,1058.5 426.8,1058.4 427.5,1058.4 428.2,1058.3 429,1058.4 429.7,1058.4 430.4,1058.5 431.2,1058.5 431.9,1058.3 432.6,1058.3 433.4,1058.4 434.1,1058.4 434.8,1058.4 435.6,1058.4 436.3,1058.4 437,1058.4 437.7,1058.4 438.5,1058.4 439.2,1058.3 439.9,1058.4 440.7,1058.3 441.4,1058.2 442.1,1058.4 442.9,1058.4 443.6,1058.4 444.3,1058.4 445,1058.4 445.8,1058.5 446.5,1058.5 447.2,1058.4 448,1058.3 448.7,1058.3 449.4,1058.4 450.2,1058.5 450.9,1058.4 451.6,1058.4" fill="none" stroke="#7dce7a" stroke-width="2.0" stroke-linejoin="round" stroke-linecap="round" />
<polyline points="195.7,1058.3 196.4,1058.3 197.2,1058.4 197.9,1058.3 198.6,1058.5 199.3,1058.6 200.1,1058.5 200.8,1058.5 201.5,1058.5 202.3,1058.5 203,1058.5 203.7,1058.7 204.5,1058.6 205.2,1058.4 205.9,1058.4 206.6,1058.1 207.4,1058.0 208.1,1058.3 208.8,1058.4 209.6,1058.4 210.3,1058.4 211,1058.6 211.8,1058.5 212.5,1058.5 213.2,1058.6 213.9,1058.6 214.7,1058.4 215.4,1058.4 216.1,1058.5 216.9,1058.4 217.6,1058.4 218.3,1058.4 219,1058.4 219.8,1058.5 220.5,1058.5 221.2,1058.5 222,1058.4 222.7,1058.3 223.4,1058.5 224.2,1058.4 224.9,1058.6 225.6,1058.6 226.3,1058.3 227.1,1058.4 227.8,1058.5 228.5,1058.5 229.3,1058.4 230,1058.4 230.7,1058.5 231.4,1058.5 232.2,1058.4 232.9,1058.4 233.6,1058.5 234.4,1058.5 235.1,1058.2 235.8,1058.1 236.6,1058.3 237.3,1058.3 238,1058.4 238.7,1058.5 239.5,1058.5 240.2,1058.4 240.9,1058.4 241.7,1058.5 242.4,1058.5 243.1,1058.4 243.9,1058.5 244.6,1058.5 245.3,1058.3 246,1058.3 246.8,1058.4 247.5,1058.4 248.2,1058.5 249,1058.5 249.7,1058.4 250.4,1058.4 251.1,1058.5 251.9,1058.4 252.6,1058.4 253.3,1058.4 254.1,1058.4 254.8,1058.3 255.5,1058.4 256.3,1058.3 257,1058.2 257.7,1058.4 258.4,1058.5 259.2,1058.4 259.9,1058.4 260.6,1058.4 261.4,1058.4 262.1,1058.4 262.8,1058.3 263.6,1058.4 264.3,1058.4 265,1058.4 265.7,1058.3 266.5,1058.2 267.2,1058.4 267.9,1058.5 268.7,1058.3 269.4,1058.4 270.1,1058.3 270.8,1058.3 271.6,1058.2 272.3,1058.2 273,1058.3 273.8,1058.4 274.5,1058.5 275.2,1058.4 276,1058.5 276.7,1058.5 277.4,1058.2 278.1,1058.1 278.9,1058.3 279.6,1058.5 280.3,1058.3 281.1,1058.3 281.8,1058.3 282.5,1058.4 283.3,1058.5 284,1058.5 284.7,1058.5 285.4,1058.2 286.2,1058.3 286.9,1058.4 287.6,1058.4 288.4,1058.5 289.1,1058.5 289.8,1058.5 290.5,1058.5 291.3,1058.3 292,1058.4 292.7,1058.4 293.5,1058.4 294.2,1058.6 294.9,1058.5 295.7,1058.4 296.4,1058.5 297.1,1058.4 297.8,1058.4 298.6,1058.4 299.3,1058.4 300,1058.4 300.8,1058.3 301.5,1058.4 302.2,1058.4 303,1058.3 303.7,1058.3 304.4,1058.4 305.1,1058.4 305.9,1058.4 306.6,1058.5 307.3,1058.5 308.1,1058.3 308.8,1058.3 309.5,1058.5 310.2,1058.4 311,1058.5 311.7,1058.5 312.4,1058.5 313.2,1058.4 313.9,1058.3 314.6,1058.3 315.4,1058.4 316.1,1058.4 316.8,1058.5 317.5,1058.4 318.3,1058.4 319,1058.4 319.7,1058.3 320.5,1058.2 321.2,1058.3 321.9,1058.3 322.7,1058.3 323.4,1058.3 324.1,1058.3 324.8,1058.4 325.6,1058.4 326.3,1058.3 327,1058.2 327.8,1058.3 328.5,1058.4 329.2,1058.4 329.9,1058.3 330.7,1058.3 331.4,1058.3 332.1,1058.3 332.9,1058.5 333.6,1058.5 334.3,1058.4 335.1,1058.5 335.8,1058.3 336.5,1058.4 337.2,1058.5 338,1058.4 338.7,1058.3 339.4,1058.3 340.2,1058.4 340.9,1058.3 341.6,1058.4 342.4,1058.5 343.1,1058.3 343.8,1058.3 344.5,1058.3 345.3,1058.4 346,1058.4 346.7,1058.4 347.5,1058.4 348.2,1058.2 348.9,1058.1 349.6,1058.1 350.4,1058.1 351.1,1058.3 351.8,1058.3 352.6,1058.1 353.3,1058.0 354,1058.2 354.8,1058.1 355.5,1058.0 356.2,1058.1 356.9,1057.9 357.7,1057.9 358.4,1058.1 359.1,1058.0 359.9,1057.9 360.6,1057.8 361.3,1057.8 362.1,1057.8 362.8,1057.9 363.5,1057.8 364.2,1057.9 365,1058.0 365.7,1057.7 366.4,1057.5 367.2,1057.7 367.9,1057.7 368.6,1057.6 369.3,1057.7 370.1,1057.5 370.8,1057.3 371.5,1057.3 372.3,1057.2 373,1057.0 373.7,1057.0 374.5,1057.1 375.2,1057.0 375.9,1056.8 376.6,1056.7 377.4,1056.6 378.1,1056.6 378.8,1056.4 379.6,1056.2 380.3,1056.3 381,1056.1 381.8,1056.0 382.5,1056.1 383.2,1055.8 383.9,1055.6 384.7,1055.4 385.4,1055.3 386.1,1055.2 386.9,1055.0 387.6,1054.9 388.3,1054.7 389,1054.5 389.8,1054.3 390.5,1053.8 391.2,1053.6 392,1053.4 392.7,1053.0 393.4,1052.8 394.2,1052.6 394.9,1052.2 395.6,1051.8 396.3,1051.4 397.1,1051.1 397.8,1050.6 398.5,1050.2 399.3,1049.6 400,1049.2 400.7,1048.8 401.4,1048.0 402.2,1047.4 402.9,1046.9 403.6,1046.4 404.4,1045.7 405.1,1045.0 405.8,1044.3 406.6,1043.6 407.3,1042.9 408,1042.1 408.7,1041.0 409.5,1039.9 410.2,1038.9 410.9,1037.8 411.7,1036.8 412.4,1035.4 413.1,1034.0 413.9,1032.7 414.6,1031.2 415.3,1029.8 416,1028.2 416.8,1026.5 417.5,1024.8 418.2,1023.2 419,1021.1 419.7,1018.9 420.4,1016.9 421.1,1014.6 421.9,1012.1 422.6,1009.7 423.3,1007.2 424.1,1004.3 424.8,1001.2 425.5,998.2 426.3,995.2 427,991.4 427.7,987.5 428.4,983.9 429.2,979.7 429.9,975.3 430.6,971.0 431.4,966.1 432.1,961.1 432.8,955.8 433.6,950.3 434.3,944.5 435,939.0 435.7,933.3 436.5,926.6 437.2,919.6 437.9,912.5 438.7,905.3 439.4,897.7 440.1,889.6 440.8,881.1 441.6,872.5 442.3,863.8 443,854.5 443.8,845.2 444.5,836.1 445.2,827.0 446,817.0 446.7,807.4 447.4,798.3 448.1,788.1 448.9,778.0 449.6,768.6 450.3,759.8 451.1,750.8 451.8,741.8 452.5,734.1 453.3,726.4 454,719.7 454.7,714.7 455.4,709.6 456.2,705.3 456.9,702.1 457.6,699.8 458.4,698.5 459.1,697.8 459.8,698.4 460.5,700.2 461.3,703.0 462,706.7 462.7,710.3 463.5,714.2 464.2,719.2 464.9,725.2 465.7,732.2 466.4,739.3 467.1,746.3 467.8,753.7 468.6,761.9 469.3,770.5 470,778.7 470.8,787.2 471.5,796.3 472.2,805.0 473,813.7 473.7,822.6 474.4,830.8 475.1,839.2 475.9,847.5 476.6,855.4 477.3,863.4 478.1,871.2 478.8,879.0 479.5,886.6 480.2,893.8 481,900.9 481.7,907.0 482.4,913.4 483.2,919.9 483.9,926.0 484.6,932.0 485.4,937.6 486.1,943.3 486.8,948.2 487.5,953.0 488.3,958.0 489,962.3 489.7,966.8 490.5,971.2 491.2,975.1 491.9,978.8 492.7,982.9 493.4,986.5 494.1,989.2 494.8,992.4 495.6,995.6 496.3,998.6 497,1001.4 497.8,1004.0 498.5,1006.6 499.2,1009.0 499.9,1011.2 500.7,1013.3 501.4,1015.5 502.1,1017.7 502.9,1019.7 503.6,1021.4 504.3,1023.1 505.1,1024.8 505.8,1026.6 506.5,1028.0 507.2,1029.3 508,1030.8 508.7,1032.0 509.4,1033.2 510.2,1034.4 510.9,1035.5 511.6,1036.6 512.4,1037.8 513.1,1038.8 513.8,1039.6 514.5,1040.4 515.3,1041.5 516,1042.2 516.7,1042.8 517.5,1043.7 518.2,1044.4 518.9,1045.0 519.6,1045.7 520.4,1046.3 521.1,1046.9 521.8,1047.4 522.6,1047.8 523.3,1048.4 524,1048.8 524.8,1049.2 525.5,1049.6 526.2,1050.1 526.9,1050.7 527.7,1051.2 528.4,1051.5 529.1,1051.6 529.9,1051.9 530.6,1052.3 531.3,1052.4 532.1,1052.9 532.8,1053.1 533.5,1053.3 534.2,1053.6 535,1053.8 535.7,1053.9 536.4,1054.2 537.2,1054.4 537.9,1054.6 538.6,1054.9 539.3,1054.9 540.1,1054.9 540.8,1055.2 541.5,1055.3 542.3,1055.4 543,1055.6 543.7,1055.8 544.5,1055.8 545.2,1055.9 545.9,1056.2 546.6,1056.2 547.4,1056.2 548.1,1056.5 548.8,1056.8 549.6,1056.6 550.3,1056.5 551,1056.7 551.7,1056.8 552.5,1056.8 553.2,1057.0 553.9,1057.1 554.7,1057.0 555.4,1056.8 556.1,1057.0 556.9,1057.3 557.6,1057.4 558.3,1057.3 559,1057.4 559.8,1057.6 560.5,1057.6 561.2,1057.5 562,1057.6 562.7,1057.8 563.4,1057.8 564.2,1057.8 564.9,1057.8 565.6,1057.8 566.3,1057.7 567.1,1057.8 567.8,1057.9 568.5,1057.9 569.3,1058.0 570,1058.1 570.7,1058.1 571.4,1057.9 572.2,1057.9 572.9,1058.0 573.6,1057.9 574.4,1057.9 575.1,1058.1 575.8,1058.2 576.6,1058.1 577.3,1058.0 578,1058.0 578.7,1058.1 579.5,1058.2 580.2,1058.2 580.9,1057.9 581.7,1058.0 582.4,1058.2 583.1,1058.2 583.9,1058.3 584.6,1058.4 585.3,1058.4 586,1058.2 586.8,1058.1 587.5,1058.1 588.2,1058.3 589,1058.3 589.7,1058.3 590.4,1058.4 591.1,1058.4 591.9,1058.4 592.6,1058.2 593.3,1058.2 594.1,1058.1 594.8,1058.1 595.5,1058.2 596.3,1058.4 597,1058.5 597.7,1058.5 598.4,1058.3 599.2,1058.2 599.9,1058.3 600.6,1058.4 601.4,1058.3 602.1,1058.4 602.8,1058.4 603.6,1058.3" fill="none" stroke="#f39a4f" stroke-width="2.4" stroke-linejoin="round" stroke-linecap="round" />
<polyline points="195.7,1058.7 196.4,1059.2 197.2,1059.2 197.9,1058.6 198.6,1057.9 199.3,1058.5 200.1,1058.3 200.8,1057.9 201.5,1057.8 202.3,1058.4 203,1059.1 203.7,1058.8 204.5,1058.6 205.2,1058.4 205.9,1058.2 206.6,1058.5 207.4,1058.4 208.1,1058.5 208.8,1058.6 209.6,1058.1 210.3,1058.5 211,1058.7 211.8,1058.5 212.5,1058.4 213.2,1057.7 213.9,1058.0 214.7,1058.2 215.4,1058.3 216.1,1058.3 216.9,1057.5 217.6,1058.0 218.3,1058.6 219,1058.5 219.8,1058.1 220.5,1058.3 221.2,1058.3 222,1057.9 222.7,1058.1 223.4,1058.1 224.2,1058.5 224.9,1058.5 225.6,1058.4 226.3,1058.7 227.1,1058.1 227.8,1057.7 228.5,1058.0 229.3,1058.2 230,1058.3 230.7,1058.0 231.4,1058.1 232.2,1058.8 232.9,1058.5 233.6,1058.0 234.4,1058.1 235.1,1058.3 235.8,1058.4 236.6,1058.5 237.3,1058.6 238,1058.5 238.7,1058.7 239.5,1058.2 240.2,1057.6 240.9,1058.3 241.7,1058.1 242.4,1058.2 243.1,1058.3 243.9,1058.1 244.6,1058.2 245.3,1058.1 246,1058.3 246.8,1058.4 247.5,1058.3 248.2,1058.8 249,1058.9 249.7,1058.2 250.4,1058.4 251.1,1058.8 251.9,1058.9 252.6,1059.2 253.3,1058.6 254.1,1058.4 254.8,1058.9 255.5,1058.7 256.3,1058.5 257,1057.7 257.7,1057.5 258.4,1058.7 259.2,1058.4 259.9,1057.8 260.6,1058.3 261.4,1058.6 262.1,1059.0 262.8,1058.4 263.6,1058.0 264.3,1058.6 265,1058.3 265.7,1058.1 266.5,1058.9 267.2,1059.2 267.9,1058.9 268.7,1057.9 269.4,1057.7 270.1,1058.5 270.8,1058.4 271.6,1058.3 272.3,1059.2 273,1059.1 273.8,1058.1 274.5,1058.2 275.2,1058.4 276,1058.2 276.7,1058.3 277.4,1058.6 278.1,1058.7 278.9,1058.2 279.6,1058.1 280.3,1058.5 281.1,1058.4 281.8,1058.6 282.5,1058.9 283.3,1058.3 284,1058.2 284.7,1059.0 285.4,1059.3 286.2,1058.8 286.9,1058.6 287.6,1058.5 288.4,1057.9 289.1,1058.2 289.8,1058.6 290.5,1058.6 291.3,1058.5 292,1058.5 292.7,1058.4 293.5,1058.4 294.2,1058.7 294.9,1058.6 295.7,1058.6 296.4,1058.2 297.1,1057.8 297.8,1058.6 298.6,1059.2 299.3,1058.9 300,1058.4 300.8,1058.1 301.5,1058.2 302.2,1058.7 303,1058.2 303.7,1058.2 304.4,1058.7 305.1,1058.6 305.9,1058.2 306.6,1058.2 307.3,1058.2 308.1,1058.4 308.8,1058.8 309.5,1058.1 310.2,1058.4 311,1059.0 311.7,1058.5 312.4,1058.8 313.2,1058.7 313.9,1058.2 314.6,1058.8 315.4,1058.1 316.1,1058.1 316.8,1058.6 317.5,1058.4 318.3,1058.1 319,1058.2 319.7,1058.2 320.5,1057.9 321.2,1058.0 321.9,1058.0 322.7,1058.5 323.4,1058.4 324.1,1057.9 324.8,1058.1 325.6,1058.3 326.3,1058.6 327,1058.8 327.8,1058.5 328.5,1058.2 329.2,1058.3 329.9,1058.6 330.7,1058.8 331.4,1058.4 332.1,1057.7 332.9,1058.4 333.6,1059.1 334.3,1058.7 335.1,1058.5 335.8,1058.3 336.5,1058.0 337.2,1058.0 338,1058.2 338.7,1058.1 339.4,1057.8 340.2,1057.9 340.9,1058.4 341.6,1058.4 342.4,1058.2 343.1,1057.8 343.8,1057.8 344.5,1058.2 345.3,1058.0 346,1057.6 346.7,1058.0 347.5,1058.2 348.2,1058.2 348.9,1058.3 349.6,1058.3 350.4,1058.3 351.1,1057.8 351.8,1057.9 352.6,1058.1 353.3,1058.3 354,1058.3 354.8,1058.0 355.5,1058.3 356.2,1058.7 356.9,1058.7 357.7,1058.6 358.4,1058.5 359.1,1058.5 359.9,1058.6 360.6,1058.5 361.3,1058.2 362.1,1058.2 362.8,1058.7 363.5,1058.7 364.2,1058.0 365,1057.9 365.7,1057.9 366.4,1058.0 367.2,1057.7 367.9,1057.2 368.6,1057.5 369.3,1057.6 370.1,1057.5 370.8,1057.9 371.5,1058.1 372.3,1058.5 373,1058.3 373.7,1057.7 374.5,1057.2 375.2,1057.1 375.9,1057.4 376.6,1057.0 377.4,1057.0 378.1,1057.5 378.8,1057.6 379.6,1057.4 380.3,1057.2 381,1057.1 381.8,1056.9 382.5,1056.5 383.2,1056.6 383.9,1057.4 384.7,1057.3 385.4,1056.9 386.1,1056.5 386.9,1056.7 387.6,1056.7 388.3,1056.4 389,1056.5 389.8,1055.9 390.5,1056.1 391.2,1056.2 392,1055.8 392.7,1055.8 393.4,1055.6 394.2,1055.2 394.9,1055.2 395.6,1055.0 396.3,1054.7 397.1,1054.4 397.8,1053.8 398.5,1053.6 399.3,1053.6 400,1053.6 400.7,1053.7 401.4,1053.0 402.2,1052.5 402.9,1052.0 403.6,1051.4 404.4,1051.5 405.1,1050.8 405.8,1050.1 406.6,1050.3 407.3,1050.4 408,1049.9 408.7,1049.2 409.5,1049.3 410.2,1049.0 410.9,1047.6 411.7,1047.6 412.4,1047.4 413.1,1046.2 413.9,1045.6 414.6,1045.1 415.3,1044.2 416,1043.4 416.8,1042.1 417.5,1041.4 418.2,1040.9 419,1039.3 419.7,1038.0 420.4,1037.5 421.1,1036.5 421.9,1035.0 422.6,1034.0 423.3,1032.7 424.1,1030.6 424.8,1029.3 425.5,1028.5 426.3,1026.9 427,1025.4 427.7,1023.4 428.4,1021.2 429.2,1019.5 429.9,1017.0 430.6,1014.8 431.4,1013.1 432.1,1010.3 432.8,1007.7 433.6,1004.9 434.3,1001.0 435,998.0 435.7,995.2 436.5,991.5 437.2,987.9 437.9,984.4 438.7,980.6 439.4,975.6 440.1,971.2 440.8,967.2 441.6,961.8 442.3,956.2 443,951.0 443.8,945.4 444.5,939.9 445.2,934.6 446,929.1 446.7,922.6 447.4,915.2 448.1,908.0 448.9,900.8 449.6,892.2 450.3,883.8 451.1,876.0 451.8,866.9 452.5,857.6 453.3,848.4 454,839.3 454.7,829.4 455.4,820.5 456.2,811.9 456.9,802.0 457.6,792.7 458.4,783.7 459.1,773.5 459.8,763.6 460.5,753.8 461.3,743.3 462,734.9 462.7,730.7 463.5,723.8 464.2,716.5 464.9,714.1 465.7,708.5 466.4,704.9 467.1,704.3 467.8,701.7 468.6,701.4 469.3,701.2 470,699.0 470.8,700.6 471.5,703.4 472.2,704.9 473,708.1 473.7,716.2 474.4,722.2 475.1,725.9 475.9,732.2 476.6,739.2 477.3,746.9 478.1,754.0 478.8,761.1 479.5,768.4 480.2,777.2 481,787.0 481.7,797.8 482.4,806.9 483.2,815.3 483.9,823.3 484.6,830.3 485.4,837.4 486.1,845.7 486.8,853.3 487.5,861.0 488.3,871.2 489,879.1 489.7,886.1 490.5,892.8 491.2,898.2 491.9,904.9 492.7,911.9 493.4,919.1 494.1,926.3 494.8,931.1 495.6,935.5 496.3,941.2 497,946.3 497.8,950.8 498.5,955.8 499.2,961.1 499.9,965.6 500.7,969.1 501.4,972.9 502.1,976.5 502.9,980.6 503.6,984.4 504.3,987.3 505.1,990.8 505.8,993.8 506.5,996.5 507.2,998.8 508,1002.6 508.7,1005.9 509.4,1007.8 510.2,1010.8 510.9,1012.9 511.6,1014.5 512.4,1016.5 513.1,1018.7 513.8,1020.7 514.5,1022.2 515.3,1023.6 516,1025.2 516.7,1027.2 517.5,1027.9 518.2,1028.9 518.9,1030.8 519.6,1032.0 520.4,1032.7 521.1,1034.2 521.8,1035.7 522.6,1036.4 523.3,1037.5 524,1038.1 524.8,1039.0 525.5,1039.8 526.2,1040.5 526.9,1041.8 527.7,1042.8 528.4,1043.6 529.1,1044.3 529.9,1045.5 530.6,1046.3 531.3,1046.0 532.1,1046.2 532.8,1046.9 533.5,1047.6 534.2,1048.1 535,1048.4 535.7,1049.4 536.4,1050.1 537.2,1050.0 537.9,1050.3 538.6,1050.7 539.3,1051.5 540.1,1052.0 540.8,1052.2 541.5,1051.6 542.3,1051.7 543,1053.1 543.7,1053.8 544.5,1053.7 545.2,1053.0 545.9,1053.4 546.6,1053.9 547.4,1053.5 548.1,1053.7 548.8,1054.6 549.6,1055.3 550.3,1055.4 551,1054.9 551.7,1055.6 552.5,1055.7 553.2,1055.2 553.9,1055.2 554.7,1055.7 555.4,1056.3 556.1,1056.3 556.9,1056.4 557.6,1056.2 558.3,1056.3 559,1056.0 559.8,1056.3 560.5,1057.1 561.2,1056.8 562,1056.7 562.7,1056.9 563.4,1057.4 564.2,1057.5 564.9,1057.2 565.6,1057.0 566.3,1056.7 567.1,1056.7 567.8,1057.2 568.5,1057.3 569.3,1057.3 570,1057.6 570.7,1057.8 571.4,1057.7 572.2,1057.8 572.9,1057.8 573.6,1057.7 574.4,1057.8 575.1,1057.4 575.8,1057.6 576.6,1057.8 577.3,1057.7 578,1058.1 578.7,1058.1 579.5,1058.2 580.2,1057.7 580.9,1058.0 581.7,1058.3 582.4,1058.1 583.1,1058.1 583.9,1058.3 584.6,1058.5 585.3,1058.3 586,1057.7 586.8,1057.6 587.5,1058.0 588.2,1058.6 589,1058.7 589.7,1058.2 590.4,1058.4 591.1,1058.5 591.9,1058.2 592.6,1058.2 593.3,1057.9 594.1,1058.1 594.8,1058.6 595.5,1058.3 596.3,1057.9 597,1058.0 597.7,1058.7 598.4,1058.5 599.2,1057.9 599.9,1058.1 600.6,1058.0 601.4,1057.3 602.1,1057.6 602.8,1058.0 603.6,1058.1" fill="none" stroke="#dc5c2d" stroke-width="2.8" stroke-linejoin="round" stroke-linecap="round" />
<polyline points="195.7,1058.3 196.4,1058.4 197.2,1058.5 197.9,1058.5 198.6,1058.5 199.3,1058.2 200.1,1058.1 200.8,1058.3 201.5,1058.4 202.3,1058.3 203,1058.4 203.7,1058.5 204.5,1058.4 205.2,1058.4 205.9,1058.4 206.6,1058.3 207.4,1058.4 208.1,1058.4 208.8,1058.3 209.6,1058.3 210.3,1058.4 211,1058.3 211.8,1058.4 212.5,1058.4 213.2,1058.5 213.9,1058.6 214.7,1058.4 215.4,1058.3 216.1,1058.5 216.9,1058.5 217.6,1058.3 218.3,1058.3 219,1058.6 219.8,1058.4 220.5,1058.3 221.2,1058.5 222,1058.4 222.7,1058.4 223.4,1058.4 224.2,1058.5 224.9,1058.5 225.6,1058.4 226.3,1058.5 227.1,1058.4 227.8,1058.4 228.5,1058.5 229.3,1058.5 230,1058.5 230.7,1058.5 231.4,1058.5 232.2,1058.5 232.9,1058.5 233.6,1058.6 234.4,1058.5 235.1,1058.4 235.8,1058.5 236.6,1058.5 237.3,1058.4 238,1058.4 238.7,1058.3 239.5,1058.2 240.2,1058.4 240.9,1058.3 241.7,1058.4 242.4,1058.5 243.1,1058.4 243.9,1058.4 244.6,1058.4 245.3,1058.4 246,1058.4 246.8,1058.4 247.5,1058.5 248.2,1058.6 249,1058.6 249.7,1058.5 250.4,1058.4 251.1,1058.3 251.9,1058.3 252.6,1058.5 253.3,1058.4 254.1,1058.4 254.8,1058.6 255.5,1058.5 256.3,1058.5 257,1058.5 257.7,1058.3 258.4,1058.2 259.2,1058.3 259.9,1058.4 260.6,1058.4 261.4,1058.3 262.1,1058.3 262.8,1058.3 263.6,1058.4 264.3,1058.5 265,1058.5 265.7,1058.5 266.5,1058.4 267.2,1058.4 267.9,1058.4 268.7,1058.5 269.4,1058.3 270.1,1058.2 270.8,1058.4 271.6,1058.5 272.3,1058.4 273,1058.4 273.8,1058.5 274.5,1058.4 275.2,1058.2 276,1058.2 276.7,1058.3 277.4,1058.4 278.1,1058.4 278.9,1058.5 279.6,1058.6 280.3,1058.4 281.1,1058.3 281.8,1058.3 282.5,1058.4 283.3,1058.6 284,1058.5 284.7,1058.5 285.4,1058.4 286.2,1058.4 286.9,1058.6 287.6,1058.5 288.4,1058.4 289.1,1058.6 289.8,1058.4 290.5,1058.2 291.3,1058.2 292,1058.4 292.7,1058.5 293.5,1058.4 294.2,1058.5 294.9,1058.5 295.7,1058.4 296.4,1058.4 297.1,1058.5 297.8,1058.4 298.6,1058.5 299.3,1058.5 300,1058.3 300.8,1058.4 301.5,1058.5 302.2,1058.3 303,1058.3 303.7,1058.3 304.4,1058.2 305.1,1058.4 305.9,1058.4 306.6,1058.4 307.3,1058.4 308.1,1058.5 308.8,1058.5 309.5,1058.3 310.2,1058.2 311,1058.3 311.7,1058.4 312.4,1058.4 313.2,1058.5 313.9,1058.5 314.6,1058.4 315.4,1058.4 316.1,1058.4 316.8,1058.4 317.5,1058.5 318.3,1058.5 319,1058.4 319.7,1058.2 320.5,1058.2 321.2,1058.4 321.9,1058.2 322.7,1058.2 323.4,1058.4 324.1,1058.4 324.8,1058.3 325.6,1058.5 326.3,1058.6 327,1058.5 327.8,1058.5 328.5,1058.6 329.2,1058.4 329.9,1058.5 330.7,1058.5 331.4,1058.3 332.1,1058.3 332.9,1058.3 333.6,1058.3 334.3,1058.3 335.1,1058.5 335.8,1058.5 336.5,1058.4 337.2,1058.5 338,1058.4 338.7,1058.4 339.4,1058.4 340.2,1058.4 340.9,1058.4 341.6,1058.4 342.4,1058.4 343.1,1058.3 343.8,1058.3 344.5,1058.4 345.3,1058.4 346,1058.3 346.7,1058.2 347.5,1058.3 348.2,1058.3 348.9,1058.4 349.6,1058.4 350.4,1058.3 351.1,1058.3 351.8,1058.3 352.6,1058.1 353.3,1058.2 354,1058.2 354.8,1058.2 355.5,1058.2 356.2,1058.3 356.9,1058.3 357.7,1058.3 358.4,1058.3 359.1,1058.2 359.9,1058.1 360.6,1058.3 361.3,1058.4 362.1,1058.4 362.8,1058.5 363.5,1058.5 364.2,1058.4 365,1058.3 365.7,1058.3 366.4,1058.3 367.2,1058.2 367.9,1058.4 368.6,1058.3 369.3,1058.2 370.1,1058.3 370.8,1058.3 371.5,1058.2 372.3,1058.2 373,1058.2 373.7,1058.1 374.5,1058.2 375.2,1058.2 375.9,1058.2 376.6,1058.2 377.4,1058.2 378.1,1058.2 378.8,1058.2 379.6,1058.2 380.3,1058.2 381,1058.2 381.8,1058.1 382.5,1058.0 383.2,1058.0 383.9,1058.1 384.7,1058.2 385.4,1058.2 386.1,1058.1 386.9,1058.0 387.6,1057.9 388.3,1057.7 389,1057.8 389.8,1057.8 390.5,1057.8 391.2,1057.7 392,1057.8 392.7,1057.8 393.4,1057.6 394.2,1057.8 394.9,1058.0 395.6,1057.7 396.3,1057.7 397.1,1057.7 397.8,1057.7 398.5,1057.6 399.3,1057.3 400,1057.4 400.7,1057.4 401.4,1057.4 402.2,1057.3 402.9,1057.1 403.6,1057.2 404.4,1057.2 405.1,1057.2 405.8,1057.1 406.6,1057.1 407.3,1057.0 408,1056.7 408.7,1056.8 409.5,1056.6 410.2,1056.4 410.9,1056.3 411.7,1056.2 412.4,1056.0 413.1,1055.9 413.9,1055.8 414.6,1055.7 415.3,1055.6 416,1055.5 416.8,1055.6 417.5,1055.4 418.2,1055.1 419,1054.8 419.7,1054.7 420.4,1054.5 421.1,1054.3 421.9,1054.0 422.6,1053.8 423.3,1053.5 424.1,1053.2 424.8,1052.8 425.5,1052.5 426.3,1052.4 427,1052.0 427.7,1051.6 428.4,1051.4 429.2,1051.0 429.9,1050.6 430.6,1050.0 431.4,1049.5 432.1,1049.3 432.8,1048.6 433.6,1048.0 434.3,1047.6 435,1047.1 435.7,1046.3 436.5,1045.8 437.2,1045.2 437.9,1044.5 438.7,1043.7 439.4,1042.9 440.1,1042.2 440.8,1041.3 441.6,1040.1 442.3,1039.2 443,1038.3 443.8,1037.1 444.5,1036.1 445.2,1034.8 446,1033.6 446.7,1032.4 447.4,1030.9 448.1,1029.5 448.9,1027.7 449.6,1026.0 450.3,1024.5 451.1,1022.7 451.8,1020.9 452.5,1018.7 453.3,1016.5 454,1014.4 454.7,1012.0 455.4,1009.4 456.2,1006.7 456.9,1004.1 457.6,1001.4 458.4,998.2 459.1,994.8 459.8,991.7 460.5,988.1 461.3,984.3 462,980.5 462.7,976.1 463.5,972.0 464.2,967.7 464.9,963.1 465.7,958.5 466.4,953.1 467.1,947.6 467.8,942.1 468.6,935.9 469.3,929.5 470,923.4 470.8,916.7 471.5,909.5 472.2,902.3 473,894.7 473.7,886.9 474.4,879.0 475.1,871.1 475.9,862.4 476.6,853.1 477.3,844.3 478.1,835.1 478.8,825.7 479.5,816.9 480.2,808.2 481,798.6 481.7,788.3 482.4,779.1 483.2,769.6 483.9,760.3 484.6,752.6 485.4,744.7 486.1,736.1 486.8,728.1 487.5,722.1 488.3,716.5 489,710.8 489.7,706.5 490.5,703.0 491.2,699.6 491.9,698.4 492.7,698.0 493.4,697.7 494.1,698.6 494.8,700.9 495.6,703.8 496.3,707.4 497,711.9 497.8,716.9 498.5,722.5 499.2,728.2 499.9,734.4 500.7,741.5 501.4,749.8 502.1,758.8 502.9,766.5 503.6,773.8 504.3,782.8 505.1,791.8 505.8,800.3 506.5,809.0 507.2,817.5 508,826.1 508.7,835.2 509.4,844.0 510.2,852.1 510.9,859.9 511.6,867.9 512.4,875.9 513.1,883.5 513.8,890.5 514.5,897.5 515.3,904.7 516,911.2 516.7,917.2 517.5,923.6 518.2,929.8 518.9,935.6 519.6,941.1 520.4,946.1 521.1,951.1 521.8,955.9 522.6,960.5 523.3,965.1 524,969.4 524.8,973.7 525.5,977.5 526.2,981.1 526.9,984.8 527.7,988.4 528.4,991.7 529.1,994.6 529.9,997.7 530.6,1000.6 531.3,1003.1 532.1,1005.9 532.8,1008.5 533.5,1010.9 534.2,1013.1 535,1015.2 535.7,1017.1 536.4,1018.9 537.2,1020.8 537.9,1022.7 538.6,1024.4 539.3,1026.0 540.1,1027.4 540.8,1028.7 541.5,1030.3 542.3,1031.8 543,1033.0 543.7,1034.1 544.5,1035.4 545.2,1036.4 545.9,1037.3 546.6,1038.3 547.4,1039.3 548.1,1040.4 548.8,1041.1 549.6,1041.7 550.3,1042.5 551,1043.5 551.7,1044.2 552.5,1044.8 553.2,1045.5 553.9,1046.0 554.7,1046.6 555.4,1047.3 556.1,1047.7 556.9,1048.1 557.6,1048.7 558.3,1049.2 559,1049.6 559.8,1050.0 560.5,1050.5 561.2,1050.8 562,1051.0 562.7,1051.5 563.4,1052.0 564.2,1052.3 564.9,1052.5 565.6,1052.7 566.3,1053.1 567.1,1053.3 567.8,1053.5 568.5,1053.8 569.3,1054.2 570,1054.2 570.7,1054.3 571.4,1054.6 572.2,1054.7 572.9,1055.0 573.6,1055.2 574.4,1055.2 575.1,1055.3 575.8,1055.5 576.6,1055.6 577.3,1055.7 578,1056.0 578.7,1056.0 579.5,1056.2 580.2,1056.4 580.9,1056.5 581.7,1056.4 582.4,1056.6 583.1,1056.7 583.9,1056.6 584.6,1056.6 585.3,1056.8 586,1057.0 586.8,1057.1 587.5,1057.1 588.2,1057.1 589,1057.1 589.7,1057.1 590.4,1057.3 591.1,1057.4 591.9,1057.5 592.6,1057.5 593.3,1057.4 594.1,1057.4 594.8,1057.6 595.5,1057.6 596.3,1057.6 597,1057.9 597.7,1057.8 598.4,1057.8 599.2,1057.7 599.9,1057.6 600.6,1057.7 601.4,1057.8 602.1,1057.9 602.8,1057.9 603.6,1058.0" fill="none" stroke="#c1272d" stroke-width="2.0" stroke-linejoin="round" stroke-linecap="round" />
<polyline points="1521.3,1056.1 1521.7,1057.6 1522.2,1060.2 1522.6,1056.8 1523.1,1058.1 1523.5,1056.8 1524,1058.4 1524.4,1057.9 1524.8,1057.0 1525.3,1055.1 1525.7,1056.5 1526.2,1058.5 1526.6,1056.7 1527.1,1057.6 1527.5,1056.2 1528,1054.5 1528.4,1057.1 1528.9,1056.9 1529.3,1055.8 1529.7,1055.9 1530.2,1056.6 1530.6,1055.5 1531.1,1056.5 1531.5,1055.8 1532,1053.1 1532.4,1055.7 1532.9,1055.1 1533.3,1054.7 1533.8,1056.0 1534.2,1054.9 1534.6,1056.0 1535.1,1056.6 1535.5,1055.4 1536,1053.2 1536.4,1054.1 1536.9,1056.0 1537.3,1054.5 1537.8,1053.7 1538.2,1054.5 1538.7,1055.1 1539.1,1054.7 1539.5,1055.0 1540,1053.2 1540.4,1053.7 1540.9,1053.6 1541.3,1053.8 1541.8,1051.2 1542.2,1053.3 1542.7,1051.9 1543.1,1055.0 1543.6,1055.1 1544,1055.2 1544.4,1054.0 1544.9,1052.4 1545.3,1054.0 1545.8,1052.5 1546.2,1053.3 1546.7,1051.4 1547.1,1051.7 1547.6,1052.8 1548,1054.3 1548.5,1052.0 1548.9,1054.6 1549.3,1055.1 1549.8,1050.2 1550.2,1051.6 1550.7,1050.3 1551.1,1051.2 1551.6,1050.6 1552,1051.1 1552.5,1052.2 1552.9,1052.0 1553.4,1051.1 1553.8,1050.7 1554.2,1050.7 1554.7,1050.6 1555.1,1051.0 1555.6,1050.2 1556,1050.7 1556.5,1048.5 1556.9,1050.8 1557.4,1051.9 1557.8,1049.9 1558.3,1047.9 1558.7,1051.1 1559.1,1049.0 1559.6,1045.7 1560,1048.9 1560.5,1049.8 1560.9,1049.4 1561.4,1050.3 1561.8,1049.5 1562.3,1048.8 1562.7,1046.2 1563.2,1047.1 1563.6,1048.6 1564,1049.0 1564.5,1046.9 1564.9,1047.3 1565.4,1048.5 1565.8,1045.6 1566.3,1045.5 1566.7,1047.4 1567.2,1047.9 1567.6,1047.0 1568.1,1044.7 1568.5,1047.4 1568.9,1045.7 1569.4,1048.0 1569.8,1047.0 1570.3,1047.4 1570.7,1047.8 1571.2,1046.3 1571.6,1047.8 1572.1,1048.3 1572.5,1047.2 1573,1048.3 1573.4,1045.9 1573.8,1047.6 1574.3,1046.8 1574.7,1045.3 1575.2,1046.3 1575.6,1045.7 1576.1,1045.6 1576.5,1046.4 1577,1047.5 1577.4,1045.8 1577.9,1046.3 1578.3,1044.4 1578.7,1046.2 1579.2,1047.4 1579.6,1047.0 1580.1,1046.5 1580.5,1045.3 1581,1044.8 1581.4,1045.8 1581.9,1044.3 1582.3,1044.4 1582.8,1047.0 1583.2,1044.8 1583.6,1048.0 1584.1,1044.1 1584.5,1046.3 1585,1044.4 1585.4,1046.0 1585.9,1044.6 1586.3,1045.9 1586.8,1045.6 1587.2,1045.3 1587.7,1046.4 1588.1,1047.6 1588.5,1045.1 1589,1046.9 1589.4,1046.0 1589.9,1045.8 1590.3,1048.5 1590.8,1043.3 1591.2,1045.1 1591.7,1043.7 1592.1,1045.5 1592.6,1045.6 1593,1050.4 1593.4,1046.3 1593.9,1048.0 1594.3,1047.3 1594.8,1045.2 1595.2,1046.3 1595.6,1047.6 1595.7,1045.8 1595.9,1045.8 1596.1,1046.0 1596.2,1043.6 1596.5,1044.3 1596.6,1045.7 1596.9,1045.8 1597,1043.9 1597.2,1044.5 1597.5,1044.5 1597.5,1044.5 1597.8,1045.1 1597.9,1044.3 1598.1,1044.1 1598.3,1041.8 1598.4,1042.1 1598.7,1043.0 1598.8,1040.5 1599,1042.0 1599.2,1040.0 1599.3,1039.3 1599.7,1038.8 1599.7,1037.0 1600,1032.9 1600.1,1029.0 1600.3,1023.9 1600.6,1003.3 1600.6,996.9 1600.9,947.0 1601,917.2 1601.2,863.6 1601.5,784.8 1601.5,769.7 1601.8,725.3 1601.9,728.6 1602.1,770.2 1602.4,832.8 1602.5,862.8 1602.8,946.9 1602.8,956.2 1603.1,1000.4 1603.2,1015.3 1603.4,1025.0 1603.7,1034.1 1603.7,1034.8 1604,1039.1 1604.1,1040.7 1604.3,1040.5 1604.6,1042.3 1604.6,1042.9 1604.9,1043.9 1605,1043.1 1605.2,1046.7 1605.5,1044.6 1605.6,1046.2 1605.9,1046.1 1605.9,1047.3 1606.2,1043.7 1606.4,1048.9 1606.5,1046.4 1606.8,1045.5 1606.8,1047.1 1607.1,1049.9 1607.3,1048.0 1607.4,1046.0 1607.7,1047.1 1607.7,1049.3 1608,1046.2 1608.1,1047.8 1608.6,1047.9 1609,1051.0 1609.5,1048.3 1609.9,1050.4 1610.4,1048.2 1610.8,1048.2 1611.3,1050.5 1611.7,1050.2 1612.2,1047.6 1612.6,1050.5 1613,1050.7 1613.5,1049.3 1613.9,1050.5 1614.4,1050.6 1614.8,1049.9 1615.3,1049.9 1615.7,1049.9 1616.2,1050.5 1616.6,1049.4 1617.1,1051.0 1617.5,1049.4 1617.9,1051.4 1618.4,1051.3 1618.8,1050.3 1619.3,1052.7 1619.7,1054.1 1620.2,1053.5 1620.6,1050.4 1621.1,1053.6 1621.5,1052.5 1622,1052.3 1622.4,1051.8 1622.8,1052.6 1623.3,1054.3 1623.7,1053.4 1624.2,1052.4 1624.6,1052.2 1625.1,1052.6 1625.5,1053.9 1626,1055.6 1626.4,1052.2 1626.9,1053.5 1627.3,1053.2 1627.7,1052.8 1628.2,1054.3 1628.6,1054.6 1629.1,1052.4 1629.5,1052.9 1630,1055.7 1630.4,1054.7 1630.9,1055.1 1631.3,1053.9 1631.8,1054.2 1632.2,1055.3 1632.6,1054.2 1633.1,1053.6 1633.5,1055.0 1634,1056.2 1634.4,1053.9 1634.9,1056.5 1635.3,1056.2 1635.8,1054.4 1636.2,1055.5 1636.7,1055.6 1637.1,1056.4 1637.5,1056.6 1638,1054.3 1638.4,1054.3 1638.9,1057.2 1639.3,1056.2 1639.8,1056.7 1640.2,1056.6 1640.7,1058.1 1641.1,1054.9 1641.6,1057.7 1642,1055.6 1642.4,1057.5 1642.9,1058.3 1643.3,1055.1 1643.8,1057.3 1644.2,1056.5 1644.7,1056.6 1645.1,1057.0 1645.6,1055.8 1646,1056.0 1646.5,1058.0 1646.9,1058.2 1647.3,1056.6 1647.8,1055.6 1648.2,1060.2 1648.7,1058.8 1649.1,1057.9 1649.6,1056.3 1650,1056.9 1650.5,1058.0 1650.9,1056.6 1651.4,1059.7 1651.8,1058.0 1652.2,1058.3 1652.7,1056.7 1653.1,1056.9 1653.6,1057.1 1654,1058.4 1654.5,1057.8 1654.9,1057.8 1655.4,1058.6 1655.8,1058.5 1656.3,1060.0 1656.7,1058.1 1657.1,1057.1 1657.6,1058.4 1658,1060.1 1658.5,1057.8 1658.9,1058.5 1659.4,1058.1 1659.8,1059.0 1660.3,1058.9 1660.7,1057.7 1661.2,1058.4 1661.6,1059.8 1662,1060.0 1662.5,1059.8 1662.9,1059.8 1663.4,1058.4 1663.8,1058.4 1664.3,1059.9 1664.7,1057.5 1665.2,1058.8 1665.6,1056.7 1666.1,1058.5 1666.5,1058.1 1666.9,1057.6 1667.4,1059.7 1667.8,1058.2 1668.3,1058.6 1668.7,1058.8 1669.2,1058.2 1669.6,1060.8 1670.1,1058.5 1670.5,1059.4 1671,1057.6 1671.4,1058.6 1671.8,1058.8 1672.3,1058.8 1672.7,1058.5 1673.2,1059.4 1673.6,1061.1 1674.1,1059.1 1674.5,1059.1 1675,1058.8 1675.4,1062.3 1675.9,1061.2 1676.3,1060.0 1676.7,1060.2 1677.2,1058.5 1677.6,1059.2 1678.1,1059.6 1678.5,1059.5 1679,1058.4 1679.4,1058.5 1679.9,1060.0 1680.3,1059.8 1680.8,1056.9 1681.2,1059.5 1681.6,1060.9 1682.1,1058.7 1682.5,1059.7 1683,1057.8 1683.4,1060.5 1683.9,1058.2 1684.3,1058.0 1684.8,1059.1 1685.2,1062.3 1685.7,1058.8 1686.1,1058.0 1686.5,1060.1 1687,1059.8 1687.4,1061.5 1687.9,1058.0 1688.3,1057.7 1688.8,1059.2 1689.2,1060.0" fill="none" stroke="#3b6ea5" stroke-width="2.2" stroke-linejoin="round" stroke-linecap="round" />
<polyline points="1602.1,1051.9 1602.6,1052.9 1603,1053.9 1603.5,1055.3 1603.9,1054.6 1604.4,1053.1 1604.8,1052.1 1605.3,1055.0 1605.7,1055.0 1606.2,1057.6 1606.6,1053.0 1607,1055.7 1607.5,1051.2 1607.9,1052.1 1608.4,1051.8 1608.8,1052.0 1609.3,1051.2 1609.7,1051.6 1610.2,1052.3 1610.6,1051.5 1611.1,1053.1 1611.5,1051.8 1612,1051.8 1612.4,1054.0 1612.8,1052.0 1613.3,1051.6 1613.7,1051.2 1614.2,1051.2 1614.6,1051.9 1615.1,1049.6 1615.5,1052.5 1616,1053.0 1616.4,1052.2 1616.9,1049.4 1617.3,1047.5 1617.8,1049.2 1618.2,1049.9 1618.6,1050.8 1619.1,1049.1 1619.5,1048.7 1620,1051.4 1620.4,1047.8 1620.9,1050.3 1621.3,1049.9 1621.8,1046.2 1622.2,1048.6 1622.7,1047.1 1623.1,1046.3 1623.6,1044.7 1624,1045.0 1624.4,1047.9 1624.9,1046.4 1625.3,1047.3 1625.8,1045.0 1626.2,1046.0 1626.7,1045.9 1627.1,1043.7 1627.6,1043.3 1628,1046.4 1628.5,1045.7 1628.9,1043.8 1629.4,1045.0 1629.8,1046.0 1630.2,1047.6 1630.7,1043.1 1631.1,1045.3 1631.6,1047.5 1632,1044.1 1632.5,1046.1 1632.9,1039.5 1633.4,1045.6 1633.8,1043.2 1634.3,1040.0 1634.7,1044.0 1635.2,1044.3 1635.6,1044.3 1636,1044.1 1636.5,1042.0 1636.9,1040.7 1637.4,1041.0 1637.8,1041.5 1638.3,1042.0 1638.7,1040.4 1639.2,1041.1 1639.6,1042.2 1640.1,1041.1 1640.5,1044.1 1641,1043.7 1641.4,1038.3 1641.9,1039.1 1642.3,1037.8 1642.7,1037.8 1643.2,1040.4 1643.6,1037.8 1644.1,1037.6 1644.5,1038.7 1645,1040.2 1645.4,1038.3 1645.9,1038.1 1646.3,1040.0 1646.8,1039.2 1647.2,1039.0 1647.7,1039.7 1648.1,1036.5 1648.5,1038.3 1649,1036.9 1649.4,1039.4 1649.9,1039.0 1650.3,1036.0 1650.8,1039.6 1651.2,1035.6 1651.7,1039.2 1652.1,1037.6 1652.6,1035.9 1653,1035.4 1653.5,1036.6 1653.9,1037.0 1654.3,1035.9 1654.8,1037.9 1655.2,1034.7 1655.7,1036.9 1656.1,1036.9 1656.6,1033.9 1657,1037.3 1657.5,1034.9 1657.9,1032.9 1658.4,1035.9 1658.8,1036.5 1659.3,1038.3 1659.7,1036.1 1660.1,1039.2 1660.6,1039.2 1661,1038.6 1661.5,1039.0 1661.9,1037.5 1662.4,1036.2 1662.8,1038.1 1663.3,1038.6 1663.7,1037.6 1664.2,1036.8 1664.6,1034.8 1665.1,1038.4 1665.5,1038.0 1665.9,1035.4 1666.4,1037.7 1666.8,1038.8 1667.3,1037.5 1667.7,1039.0 1668.2,1039.0 1668.6,1035.6 1669.1,1037.5 1669.5,1038.8 1670,1039.5 1670.4,1040.3 1670.9,1035.1 1671.3,1038.0 1671.5,1039.2 1671.7,1040.0 1671.8,1040.7 1672.1,1036.6 1672.2,1037.4 1672.4,1036.3 1672.6,1039.2 1672.7,1035.8 1673,1039.6 1673.1,1039.2 1673.4,1038.3 1673.5,1034.0 1673.7,1036.2 1674,1038.1 1674,1034.7 1674.3,1036.1 1674.4,1036.1 1674.6,1037.2 1674.9,1035.5 1674.9,1035.3 1675.2,1032.9 1675.3,1033.2 1675.5,1031.4 1675.8,1030.1 1675.8,1027.3 1676.2,1019.3 1676.2,1012.8 1676.5,995.1 1676.7,967.2 1676.8,943.7 1677.1,860.4 1677.1,858.6 1677.4,769.5 1677.5,739.1 1677.7,725.3 1678,761.2 1678,769.5 1678.3,859.7 1678.4,890.5 1678.6,943.0 1678.9,984.2 1679,994.3 1679.3,1016.8 1679.3,1023.9 1679.6,1029.8 1679.8,1035.0 1679.9,1032.0 1680.2,1033.9 1680.2,1036.2 1680.5,1034.6 1680.7,1038.2 1680.8,1037.3 1681.1,1038.7 1681.1,1039.7 1681.4,1040.0 1681.6,1043.1 1681.8,1041.6 1682,1039.0 1682.1,1042.6 1682.4,1039.4 1682.5,1041.8 1682.7,1040.0 1682.9,1040.8 1683,1044.3 1683.3,1041.7 1683.3,1041.6 1683.6,1042.0 1683.8,1042.5 1683.9,1045.4 1684.2,1041.5 1684.7,1041.7 1685.1,1044.9 1685.6,1041.8 1686,1044.0 1686.5,1046.6 1686.9,1045.1 1687.4,1044.6 1687.8,1044.5 1688.3,1044.4 1688.7,1045.1 1689.1,1046.5 1689.6,1048.5 1690,1048.3 1690.5,1046.1 1690.9,1046.0 1691.4,1048.5 1691.8,1044.7 1692.3,1047.1 1692.7,1047.5 1693.2,1046.5 1693.6,1046.8 1694.1,1049.2 1694.5,1046.2 1694.9,1047.6 1695.4,1048.2 1695.8,1049.5 1696.3,1047.4 1696.7,1051.5 1697.2,1049.4 1697.6,1049.7 1698.1,1049.7 1698.5,1049.4 1699,1049.1 1699.4,1052.6 1699.9,1051.3 1700.3,1051.0 1700.7,1052.9 1701.2,1050.3 1701.6,1052.6 1702.1,1051.8 1702.5,1050.5 1703,1053.3 1703.4,1049.9 1703.9,1053.4 1704.3,1051.1 1704.8,1053.3 1705.2,1055.0 1705.7,1053.9 1706.1,1052.1 1706.5,1053.2 1707,1052.8 1707.4,1051.6 1707.9,1051.9 1708.3,1053.8 1708.8,1054.7 1709.2,1051.2 1709.7,1054.0 1710.1,1055.0 1710.6,1054.5 1711,1052.9 1711.5,1056.2 1711.9,1052.7 1712.3,1055.8 1712.8,1057.4 1713.2,1051.8 1713.7,1055.5 1714.1,1055.7 1714.6,1055.6 1715,1054.1 1715.5,1054.9 1715.9,1053.3 1716.4,1055.8 1716.8,1056.5 1717.3,1054.7 1717.7,1054.4 1718.1,1055.2 1718.6,1056.0 1719,1056.2 1719.5,1056.0 1719.9,1056.3 1720.4,1054.2 1720.8,1052.1 1721.3,1057.4 1721.7,1058.7 1722.2,1054.3 1722.6,1055.6 1723.1,1057.2 1723.5,1058.2 1723.9,1057.8 1724.4,1058.9 1724.8,1056.8 1725.3,1057.6 1725.7,1057.7 1726.2,1056.4 1726.6,1059.0 1727.1,1058.1 1727.5,1058.7 1728,1056.6 1728.4,1058.9 1728.9,1055.7 1729.3,1058.0 1729.7,1053.3 1730.2,1055.9 1730.6,1058.7 1731.1,1056.8 1731.5,1057.9 1732,1055.1 1732.4,1060.1 1732.9,1058.6 1733.3,1057.7 1733.8,1058.4 1734.2,1058.3 1734.7,1060.0 1735.1,1058.2 1735.5,1055.6 1736,1057.5 1736.4,1059.9 1736.9,1058.8 1737.3,1057.3 1737.8,1059.0 1738.2,1058.2 1738.7,1059.0 1739.1,1055.6 1739.6,1056.7 1740,1059.2 1740.5,1057.8 1740.9,1058.7 1741.3,1061.2 1741.8,1057.7 1742.2,1058.6 1742.7,1057.4 1743.1,1057.3 1743.6,1058.2 1744,1056.0 1744.5,1055.0 1744.9,1060.5 1745.4,1058.2 1745.8,1060.1 1746.3,1058.6 1746.7,1058.6 1747.1,1059.5 1747.6,1059.5 1748,1056.6 1748.5,1060.3 1748.9,1056.9 1749.4,1058.8 1749.8,1062.5 1750.3,1058.6 1750.7,1061.1 1751.2,1058.0 1751.6,1059.5 1752.1,1058.6 1752.5,1059.2 1752.9,1057.2 1753.4,1057.2 1753.8,1059.1 1754.3,1056.2 1754.7,1057.3 1755.2,1059.6 1755.6,1057.7 1756.1,1057.3 1756.5,1056.9 1757,1058.9 1757.4,1058.1 1757.9,1058.9 1758.3,1058.4 1758.7,1061.6 1759.2,1058.0 1759.6,1055.7 1760.1,1058.9 1760.5,1058.8 1761,1059.0 1761.4,1056.3 1761.9,1060.5 1762.3,1058.7 1762.8,1058.7 1763.2,1056.3 1763.7,1059.5 1764.1,1058.7 1764.6,1060.9 1765,1058.2 1765.4,1056.9 1765.9,1059.1 1766.3,1057.4 1766.8,1059.5 1767.2,1057.2 1767.7,1058.7 1768.1,1058.5 1768.6,1058.8 1769,1058.1 1769.5,1057.6" fill="none" stroke="#2a8fa6" stroke-width="2.4" stroke-linejoin="round" stroke-linecap="round" />
<polyline points="1692.3,1060.2 1692.8,1060.0 1693.2,1059.0 1693.7,1060.0 1694.1,1060.7 1694.6,1060.2 1695,1060.3 1695.5,1060.2 1695.9,1059.7 1696.3,1059.3 1696.8,1060.3 1697.2,1060.4 1697.7,1060.1 1698.1,1060.0 1698.6,1060.0 1699,1059.8 1699.5,1059.9 1699.9,1059.7 1700.4,1059.8 1700.8,1059.2 1701.3,1059.3 1701.7,1059.9 1702.1,1059.4 1702.6,1058.3 1703,1059.5 1703.5,1058.3 1703.9,1060.3 1704.4,1059.7 1704.8,1059.6 1705.3,1059.0 1705.7,1058.7 1706.2,1059.1 1706.6,1059.2 1707,1058.7 1707.5,1059.1 1707.9,1059.4 1708.4,1059.3 1708.8,1058.4 1709.3,1057.8 1709.7,1058.8 1710.2,1058.5 1710.6,1058.9 1711.1,1059.5 1711.5,1059.4 1712,1058.7 1712.4,1059.0 1712.8,1059.3 1713.3,1058.4 1713.7,1058.5 1714.2,1058.7 1714.6,1058.2 1715.1,1057.9 1715.5,1057.7 1716,1058.0 1716.4,1057.7 1716.9,1058.3 1717.3,1057.7 1717.8,1058.5 1718.2,1058.3 1718.6,1057.0 1719.1,1058.1 1719.5,1057.3 1720,1058.1 1720.4,1057.6 1720.9,1057.3 1721.3,1057.5 1721.8,1056.9 1722.2,1057.2 1722.7,1057.1 1723.1,1056.8 1723.6,1057.0 1724,1056.2 1724.4,1056.9 1724.9,1056.0 1725.3,1056.8 1725.8,1056.6 1726.2,1056.6 1726.7,1055.9 1727.1,1057.5 1727.6,1055.9 1728,1056.0 1728.5,1055.5 1728.9,1056.4 1729.4,1055.4 1729.8,1056.0 1730.2,1055.0 1730.7,1055.5 1731.1,1055.1 1731.6,1055.6 1732,1054.9 1732.5,1054.5 1732.9,1055.1 1733.4,1054.2 1733.8,1054.2 1734.3,1054.9 1734.7,1053.5 1735.2,1054.7 1735.6,1054.0 1736,1053.7 1736.5,1054.1 1736.9,1054.2 1737.4,1053.5 1737.8,1053.6 1738.3,1053.9 1738.7,1053.8 1739.2,1053.3 1739.6,1052.9 1740.1,1052.7 1740.5,1052.7 1740.9,1053.2 1741.4,1053.1 1741.8,1052.8 1742.3,1053.2 1742.7,1052.3 1743.2,1052.2 1743.6,1052.1 1744.1,1053.0 1744.5,1051.0 1745,1052.0 1745.4,1052.0 1745.9,1051.7 1746.3,1052.7 1746.7,1052.0 1747.2,1051.7 1747.6,1050.8 1748.1,1051.4 1748.5,1050.9 1749,1051.0 1749.4,1050.9 1749.9,1050.5 1750.3,1050.9 1750.8,1051.3 1751.2,1050.9 1751.7,1050.4 1752.1,1049.3 1752.5,1050.6 1753,1050.5 1753.4,1049.8 1753.9,1049.6 1754.3,1050.0 1754.8,1049.2 1755.2,1049.9 1755.7,1048.9 1756.1,1048.9 1756.6,1049.3 1757,1048.5 1757.5,1049.1 1757.9,1049.3 1758.3,1048.3 1758.8,1049.3 1759.2,1048.5 1759.7,1048.9 1760.1,1048.7 1760.6,1048.3 1761,1048.2 1761.5,1047.6 1761.9,1048.0 1762.4,1047.9 1762.8,1049.0 1763.3,1048.6 1763.7,1047.4 1764.1,1048.4 1764.6,1048.1 1765,1047.7 1765.5,1048.1 1765.9,1048.2 1766.4,1047.5 1766.8,1047.6 1767.3,1047.8 1767.7,1047.2 1768.2,1047.7 1768.6,1047.6 1769.1,1047.2 1769.5,1047.1 1769.9,1047.7 1770.4,1047.9 1770.8,1047.6 1771.3,1047.0 1771.7,1047.8 1772.2,1047.5 1772.6,1047.7 1773.1,1047.9 1773.5,1047.0 1774,1047.3 1774.4,1047.1 1774.8,1047.0 1775.3,1048.3 1775.7,1047.8 1776.2,1046.6 1776.6,1047.6 1777.1,1047.2 1777.5,1048.0 1778,1047.5 1778.4,1047.4 1778.9,1047.5 1779.3,1047.7 1779.8,1047.5 1780.2,1047.4 1780.6,1047.5 1781.1,1047.8 1781.5,1047.1 1782,1047.6 1782.4,1047.6 1782.9,1047.4 1783.3,1048.0 1783.8,1047.1 1784.2,1047.6 1784.7,1047.4 1785.1,1048.0 1785.6,1047.5 1786,1047.8 1786.4,1047.9 1786.9,1047.0 1787.3,1047.9 1787.8,1047.3 1788.1,1047.4 1788.2,1047.5 1788.4,1047.9 1788.7,1047.8 1788.7,1048.2 1789.1,1047.3 1789.1,1047.0 1789.4,1046.9 1789.6,1047.3 1789.7,1047.6 1790,1046.8 1790,1046.4 1790.3,1046.5 1790.5,1046.2 1790.6,1045.9 1790.9,1045.0 1790.9,1044.2 1791.2,1044.4 1791.4,1044.8 1791.5,1043.8 1791.8,1041.5 1791.8,1042.3 1792.2,1039.3 1792.2,1040.2 1792.5,1036.0 1792.7,1029.3 1792.8,1026.2 1793.1,1000.6 1793.1,995.7 1793.4,948.4 1793.6,902.9 1793.7,864.1 1794,770.3 1794,769.7 1794.3,725.3 1794.5,735.0 1794.6,770.4 1794.9,852.7 1795,864.6 1795.3,948.4 1795.4,969.4 1795.6,1001.5 1795.8,1021.9 1795.9,1026.4 1796.2,1036.6 1796.3,1038.4 1796.5,1041.1 1796.7,1041.7 1796.8,1044.3 1797.1,1045.2 1797.2,1044.4 1797.4,1045.8 1797.6,1046.0 1797.8,1046.8 1798,1047.6 1798.1,1047.6 1798.4,1047.7 1798.5,1047.8 1798.7,1048.9 1798.9,1048.7 1799,1049.9 1799.3,1048.8 1799.4,1049.6 1799.6,1049.5 1799.8,1049.3 1799.9,1050.3 1800.2,1050.0 1800.3,1049.5 1800.6,1050.0 1800.7,1050.7 1801.2,1049.9 1801.6,1051.4 1802.1,1051.2 1802.5,1051.0 1803,1051.9 1803.4,1052.3 1803.8,1051.9 1804.3,1051.8 1804.7,1052.8 1805.2,1052.7 1805.6,1051.7 1806.1,1052.2 1806.5,1052.3 1807,1052.4 1807.4,1052.0 1807.9,1053.2 1808.3,1053.0 1808.7,1053.1 1809.2,1053.8 1809.6,1053.0 1810.1,1053.4 1810.5,1053.6 1811,1053.4 1811.4,1053.7 1811.9,1054.2 1812.3,1053.9 1812.8,1054.7 1813.2,1053.8 1813.7,1054.3 1814.1,1053.7 1814.5,1054.4 1815,1054.2 1815.4,1055.3 1815.9,1055.1 1816.3,1055.1 1816.8,1055.8 1817.2,1055.7 1817.7,1055.5 1818.1,1054.9 1818.6,1054.6 1819,1055.4 1819.5,1055.3 1819.9,1055.3 1820.3,1055.5 1820.8,1055.0 1821.2,1056.5 1821.7,1055.4 1822.1,1055.7 1822.6,1056.3 1823,1055.4 1823.5,1056.7 1823.9,1056.7 1824.4,1056.2 1824.8,1055.9 1825.3,1056.3 1825.7,1055.7 1826.1,1057.3 1826.6,1056.8 1827,1056.4 1827.5,1056.4 1827.9,1057.2 1828.4,1057.7 1828.8,1056.5 1829.3,1056.8 1829.7,1056.3 1830.2,1057.6 1830.6,1057.4 1831.1,1058.4 1831.5,1057.4 1831.9,1057.3 1832.4,1057.2 1832.8,1058.0 1833.3,1056.9 1833.7,1058.0 1834.2,1057.8 1834.6,1057.5 1835.1,1057.4 1835.5,1058.4 1836,1058.8 1836.4,1057.8 1836.9,1058.3 1837.3,1058.9 1837.7,1057.8 1838.2,1058.0" fill="none" stroke="#7dce7a" stroke-width="2.2" stroke-linejoin="round" stroke-linecap="round" />
<polyline points="1905.1,1050.4 1905.6,1049.8 1906,1049.3 1906.5,1047.8 1906.9,1048.2 1907.4,1048.7 1907.8,1051.2 1908.3,1049.3 1908.7,1048.7 1909.2,1051.1 1909.6,1050.9 1910,1048.7 1910.5,1048.8 1910.9,1050.8 1911.4,1050.3 1911.8,1048.3 1912.3,1049.9 1912.7,1049.4 1913.2,1051.2 1913.6,1047.9 1914.1,1050.7 1914.5,1049.9 1915,1047.5 1915.4,1050.7 1915.9,1050.4 1916.3,1046.7 1916.8,1052.0 1917.2,1046.8 1917.7,1047.1 1918.1,1048.0 1918.6,1049.7 1919,1049.3 1919.4,1048.1 1919.9,1050.4 1920.3,1048.8 1920.8,1050.3 1921.2,1052.5 1921.7,1048.2 1922.1,1043.6 1922.6,1046.9 1923,1045.8 1923.5,1047.6 1923.9,1047.5 1924.4,1045.3 1924.8,1045.3 1925.3,1046.7 1925.7,1046.7 1926.2,1042.7 1926.6,1048.4 1927.1,1046.8 1927.5,1046.6 1928,1047.0 1928.4,1044.8 1928.8,1046.3 1929.3,1047.9 1929.7,1047.9 1930.2,1046.8 1930.6,1045.5 1931.1,1044.5 1931.5,1047.9 1932,1046.5 1932.4,1044.9 1932.9,1041.9 1933.3,1043.9 1933.8,1042.1 1934.2,1047.2 1934.7,1045.3 1935.1,1043.7 1935.6,1044.4 1936,1049.0 1936.5,1046.6 1936.9,1042.3 1937.4,1044.2 1937.8,1042.3 1938.3,1041.4 1938.7,1044.4 1939.1,1048.0 1939.6,1046.5 1940,1043.9 1940.5,1043.1 1940.9,1043.9 1941.4,1045.2 1941.8,1040.9 1942.3,1040.2 1942.7,1046.3 1943.2,1043.5 1943.6,1045.6 1944.1,1043.3 1944.5,1045.2 1945,1041.6 1945.4,1043.4 1945.9,1045.1 1946.3,1044.1 1946.8,1041.5 1947.2,1043.7 1947.7,1040.9 1948.1,1039.6 1948.5,1042.7 1949,1044.1 1949.4,1043.1 1949.9,1039.4 1950.3,1042.9 1950.8,1042.5 1951.2,1040.5 1951.7,1037.0 1952.1,1042.8 1952.6,1042.5 1953,1041.7 1953.5,1037.9 1953.9,1038.2 1954.4,1042.3 1954.8,1041.9 1955.3,1041.3 1955.7,1039.9 1956.2,1040.9 1956.6,1039.3 1957.1,1039.6 1957.5,1038.6 1957.9,1040.4 1958.4,1039.2 1958.8,1041.4 1959.3,1040.9 1959.7,1038.3 1960.2,1042.7 1960.6,1037.6 1961.1,1040.2 1961.5,1041.2 1962,1041.4 1962.4,1035.5 1962.9,1040.8 1963.3,1041.1 1963.8,1041.4 1964.2,1035.2 1964.7,1037.7 1965.1,1038.7 1965.6,1038.0 1966,1041.0 1966.5,1037.5 1966.9,1040.7 1967.3,1039.5 1967.8,1036.0 1968.2,1036.8 1968.7,1037.6 1969.1,1038.5 1969.6,1040.0 1970,1038.0 1970.5,1039.8 1970.9,1035.5 1971.4,1033.0 1971.8,1037.6 1972.3,1038.9 1972.7,1037.5 1973.2,1036.3 1973.6,1038.8 1974.1,1041.3 1974.5,1037.8 1975,1036.7 1975.4,1036.5 1975.9,1041.3 1976.3,1037.9 1976.7,1039.0 1977.2,1040.0 1977.6,1039.7 1978.1,1036.3 1978.5,1039.5 1979,1039.4 1979.4,1038.8 1979.9,1039.6 1980.3,1037.0 1980.8,1037.8 1981.2,1037.1 1981.7,1039.3 1982.1,1036.9 1982.6,1038.7 1983,1036.2 1983.5,1037.8 1983.9,1037.5 1984.4,1037.9 1984.8,1038.4 1985.3,1037.9 1985.7,1037.8 1986.1,1034.7 1986.6,1040.2 1987,1037.3 1987.5,1037.9 1987.9,1037.0 1988.4,1040.1 1988.8,1037.0 1989.3,1039.4 1989.7,1040.6 1990.2,1041.4 1990.6,1040.7 1991.1,1039.8 1991.5,1036.8 1992,1041.1 1992.4,1041.0 1992.9,1040.4 1993.3,1040.4 1993.8,1039.3 1994.2,1038.3 1994.7,1041.1 1995.1,1041.5 1995.5,1037.6 1996,1041.0 1996.4,1040.0 1996.9,1041.1 1997.3,1040.2 1997.8,1041.7 1998.2,1041.6 1998.7,1041.4 1999.1,1037.7 1999.6,1041.5 2000,1040.2 2000.5,1038.3 2000.9,1041.5 2001.4,1038.0 2001.8,1041.9 2002.3,1043.3 2002.7,1039.6 2003.2,1042.1 2003.6,1041.3 2004.1,1041.7 2004.5,1038.3 2005,1041.6 2005.3,1040.8 2005.4,1041.8 2005.6,1040.5 2005.8,1042.3 2005.9,1040.9 2006.2,1041.5 2006.3,1042.6 2006.5,1040.5 2006.7,1041.7 2006.8,1040.4 2007.1,1040.7 2007.2,1038.9 2007.5,1040.8 2007.6,1041.4 2007.8,1039.0 2008.1,1039.9 2008.1,1039.3 2008.4,1036.1 2008.5,1038.2 2008.7,1039.2 2009,1035.1 2009,1032.8 2009.3,1033.9 2009.4,1031.6 2009.6,1032.5 2009.9,1023.1 2010,1019.6 2010.3,994.3 2010.3,988.9 2010.6,943.2 2010.8,895.8 2010.9,861.1 2011.2,769.3 2011.2,766.3 2011.5,725.3 2011.7,736.3 2011.8,769.5 2012.1,852.3 2012.1,862.7 2012.5,941.9 2012.6,967.8 2012.8,993.9 2013,1016.9 2013.1,1024.0 2013.4,1027.1 2013.5,1029.6 2013.7,1036.9 2013.9,1036.7 2014,1036.2 2014.3,1038.5 2014.4,1037.1 2014.6,1039.9 2014.8,1042.6 2014.9,1039.9 2015.2,1041.4 2015.3,1043.2 2015.6,1045.0 2015.7,1041.0 2015.9,1042.7 2016.1,1041.6 2016.2,1041.5 2016.5,1042.3 2016.6,1042.0 2016.8,1040.4 2017,1040.1 2017.1,1042.3 2017.4,1044.0 2017.5,1045.8 2017.8,1043.1 2017.9,1043.8 2018.4,1045.4 2018.8,1045.8 2019.3,1044.6 2019.7,1044.9 2020.2,1048.3 2020.6,1044.9 2021.1,1044.8 2021.5,1043.1 2022,1046.7 2022.4,1045.7 2022.9,1049.5 2023.3,1045.9 2023.8,1047.9 2024.2,1048.3 2024.6,1049.6 2025.1,1044.9 2025.5,1049.8 2026,1047.4 2026.4,1047.3 2026.9,1047.1 2027.3,1047.1 2027.8,1047.3 2028.2,1044.2 2028.7,1049.0 2029.1,1048.4 2029.6,1046.9 2030,1048.5 2030.5,1052.5 2030.9,1049.5 2031.4,1048.3 2031.8,1052.0 2032.3,1047.9 2032.7,1049.1 2033.2,1048.6 2033.6,1049.2 2034,1051.0 2034.5,1050.9 2034.9,1048.8 2035.4,1049.9 2035.8,1050.4 2036.3,1049.7 2036.7,1050.5 2037.2,1049.4 2037.6,1049.5 2038.1,1051.0 2038.5,1049.3 2039,1051.8 2039.4,1050.9 2039.9,1049.8 2040.3,1050.5 2040.8,1050.8 2041.2,1051.4 2041.7,1052.0 2042.1,1051.6 2042.6,1050.6 2043,1054.5 2043.4,1053.8 2043.9,1052.6 2044.3,1054.1 2044.8,1053.1 2045.2,1052.3 2045.7,1053.0 2046.1,1057.3 2046.6,1054.7 2047,1054.9 2047.5,1052.6 2047.9,1054.3 2048.4,1057.2 2048.8,1054.3 2049.3,1055.4 2049.7,1055.8 2050.2,1054.9 2050.6,1056.5 2051.1,1054.4 2051.5,1055.0 2052,1053.2 2052.4,1058.7 2052.8,1054.9 2053.3,1054.7 2053.7,1056.9 2054.2,1053.9 2054.6,1054.8 2055.1,1053.6 2055.5,1055.0 2056,1054.4 2056.4,1056.0 2056.9,1055.0 2057.3,1054.3 2057.8,1054.9 2058.2,1055.3 2058.7,1054.7 2059.1,1057.2 2059.6,1056.8 2060,1056.1 2060.5,1053.9 2060.9,1056.8 2061.4,1053.9 2061.8,1056.4 2062.2,1056.3 2062.7,1055.3 2063.1,1055.0 2063.6,1055.3 2064,1059.9 2064.5,1056.1 2064.9,1056.3 2065.4,1058.3 2065.8,1057.5 2066.3,1058.6 2066.7,1054.9 2067.2,1055.2 2067.6,1062.5 2068.1,1057.0 2068.5,1056.7 2069,1057.5 2069.4,1058.9 2069.9,1055.4" fill="none" stroke="#c1272d" stroke-width="2.6" stroke-linejoin="round" stroke-linecap="round" />
<line x1="172.10" y1="678.00" x2="242.50" y2="678.00" stroke="#2e3192" stroke-width="2.2" />
<path d="M164.1,678.0 L177.6,672.2 L174.1,678.0 L177.6,683.8 Z" fill="#2e3192"/>
<path d="M250.5,678.0 L237.0,672.2 L240.5,678.0 L237.0,683.8 Z" fill="#2e3192"/>
<line x1="288.20" y1="678.00" x2="321.80" y2="678.00" stroke="#2f9a4a" stroke-width="2.2" />
<path d="M280.2,678.0 L293.7,672.2 L290.2,678.0 L293.7,683.8 Z" fill="#2f9a4a"/>
<path d="M329.8,678.0 L316.3,672.2 L319.8,678.0 L316.3,683.8 Z" fill="#2f9a4a"/>
<line x1="428.50" y1="678.00" x2="520.20" y2="678.00" stroke="#de2a2e" stroke-width="2.2" />
<path d="M420.5,678.0 L434.0,672.2 L430.5,678.0 L434.0,683.8 Z" fill="#de2a2e"/>
<path d="M528.2,678.0 L514.7,672.2 L518.2,678.0 L514.7,683.8 Z" fill="#de2a2e"/>
<rect x="53.10" y="55.20" width="617.40" height="459.80" fill="none" stroke="#000" stroke-width="2.2" />
<rect x="1517.00" y="15.60" width="531.50" height="541.10" fill="none" stroke="#000" stroke-width="2.2" />
<rect x="778.70" y="621.10" width="572.30" height="477.70" fill="none" stroke="#231815" stroke-width="2.2" />
</svg></body></html>
